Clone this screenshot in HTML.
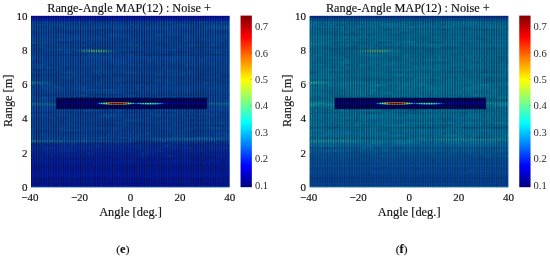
<!DOCTYPE html>
<html><head><meta charset="utf-8"><title>Range-Angle MAP</title>
<style>html,body{margin:0;padding:0;background:#fff;width:550px;height:259px;overflow:hidden}svg{display:block}</style>
</head><body>
<svg width="550" height="259" viewBox="0 0 550 259">
<rect width="550" height="259" fill="#fff"/>
<linearGradient id="r1" x1="0" y1="0" x2="0" y2="1">
<stop offset="0.0000" stop-color="#040cae"/><stop offset="0.0147" stop-color="#040cae"/>
<stop offset="0.0147" stop-color="#0525ab"/><stop offset="0.0294" stop-color="#0525ab"/>
<stop offset="0.0294" stop-color="#074aaf"/><stop offset="0.0441" stop-color="#074aaf"/>
<stop offset="0.0441" stop-color="#084ea5"/><stop offset="0.0588" stop-color="#084ea5"/>
<stop offset="0.0588" stop-color="#084ea6"/><stop offset="0.0735" stop-color="#084ea6"/>
<stop offset="0.0735" stop-color="#084fa8"/><stop offset="0.0882" stop-color="#084fa8"/>
<stop offset="0.0882" stop-color="#084ba0"/><stop offset="0.1029" stop-color="#084ba0"/>
<stop offset="0.1029" stop-color="#084ea6"/><stop offset="0.1176" stop-color="#084ea6"/>
<stop offset="0.1176" stop-color="#0850a9"/><stop offset="0.1324" stop-color="#0850a9"/>
<stop offset="0.1324" stop-color="#0851ac"/><stop offset="0.1471" stop-color="#0851ac"/>
<stop offset="0.1471" stop-color="#084b9e"/><stop offset="0.1618" stop-color="#084b9e"/>
<stop offset="0.1618" stop-color="#084da2"/><stop offset="0.1765" stop-color="#084da2"/>
<stop offset="0.1765" stop-color="#084b9e"/><stop offset="0.1912" stop-color="#084b9e"/>
<stop offset="0.1912" stop-color="#0852ac"/><stop offset="0.2059" stop-color="#0852ac"/>
<stop offset="0.2059" stop-color="#0851aa"/><stop offset="0.2206" stop-color="#0851aa"/>
<stop offset="0.2206" stop-color="#084b9d"/><stop offset="0.2353" stop-color="#084b9d"/>
<stop offset="0.2353" stop-color="#0854b0"/><stop offset="0.2500" stop-color="#0854b0"/>
<stop offset="0.2500" stop-color="#0853af"/><stop offset="0.2647" stop-color="#0853af"/>
<stop offset="0.2647" stop-color="#0851a9"/><stop offset="0.2794" stop-color="#0851a9"/>
<stop offset="0.2794" stop-color="#0850a8"/><stop offset="0.2941" stop-color="#0850a8"/>
<stop offset="0.2941" stop-color="#084c9f"/><stop offset="0.3088" stop-color="#084c9f"/>
<stop offset="0.3088" stop-color="#084b9c"/><stop offset="0.3235" stop-color="#084b9c"/>
<stop offset="0.3235" stop-color="#0850a7"/><stop offset="0.3382" stop-color="#0850a7"/>
<stop offset="0.3382" stop-color="#084b9d"/><stop offset="0.3529" stop-color="#084b9d"/>
<stop offset="0.3529" stop-color="#084da0"/><stop offset="0.3676" stop-color="#084da0"/>
<stop offset="0.3676" stop-color="#084da1"/><stop offset="0.3824" stop-color="#084da1"/>
<stop offset="0.3824" stop-color="#084b9d"/><stop offset="0.3971" stop-color="#084b9d"/>
<stop offset="0.3971" stop-color="#0850a5"/><stop offset="0.4118" stop-color="#0850a5"/>
<stop offset="0.4118" stop-color="#084fa5"/><stop offset="0.4265" stop-color="#084fa5"/>
<stop offset="0.4265" stop-color="#0853ad"/><stop offset="0.4412" stop-color="#0853ad"/>
<stop offset="0.4412" stop-color="#0850a6"/><stop offset="0.4559" stop-color="#0850a6"/>
<stop offset="0.4559" stop-color="#0851a9"/><stop offset="0.4706" stop-color="#0851a9"/>
<stop offset="0.4706" stop-color="#084fa6"/><stop offset="0.4853" stop-color="#084fa6"/>
<stop offset="0.4853" stop-color="#0851a9"/><stop offset="0.5000" stop-color="#0851a9"/>
<stop offset="0.5000" stop-color="#084fa5"/><stop offset="0.5147" stop-color="#084fa5"/>
<stop offset="0.5147" stop-color="#084da1"/><stop offset="0.5294" stop-color="#084da1"/>
<stop offset="0.5294" stop-color="#0853b0"/><stop offset="0.5441" stop-color="#0853b0"/>
<stop offset="0.5441" stop-color="#0853af"/><stop offset="0.5588" stop-color="#0853af"/>
<stop offset="0.5588" stop-color="#0851ac"/><stop offset="0.5735" stop-color="#0851ac"/>
<stop offset="0.5735" stop-color="#0850aa"/><stop offset="0.5882" stop-color="#0850aa"/>
<stop offset="0.5882" stop-color="#084ca2"/><stop offset="0.6029" stop-color="#084ca2"/>
<stop offset="0.6029" stop-color="#084ba0"/><stop offset="0.6176" stop-color="#084ba0"/>
<stop offset="0.6176" stop-color="#084ba1"/><stop offset="0.6324" stop-color="#084ba1"/>
<stop offset="0.6324" stop-color="#08499d"/><stop offset="0.6471" stop-color="#08499d"/>
<stop offset="0.6471" stop-color="#084faa"/><stop offset="0.6618" stop-color="#084faa"/>
<stop offset="0.6618" stop-color="#084ca3"/><stop offset="0.6765" stop-color="#084ca3"/>
<stop offset="0.6765" stop-color="#0850ac"/><stop offset="0.6912" stop-color="#0850ac"/>
<stop offset="0.6912" stop-color="#084ba3"/><stop offset="0.7059" stop-color="#084ba3"/>
<stop offset="0.7059" stop-color="#0850ae"/><stop offset="0.7206" stop-color="#0850ae"/>
<stop offset="0.7206" stop-color="#0846ac"/><stop offset="0.7353" stop-color="#0846ac"/>
<stop offset="0.7353" stop-color="#08389b"/><stop offset="0.7500" stop-color="#08389b"/>
<stop offset="0.7500" stop-color="#08319f"/><stop offset="0.7647" stop-color="#08319f"/>
<stop offset="0.7647" stop-color="#0832ad"/><stop offset="0.7794" stop-color="#0832ad"/>
<stop offset="0.7794" stop-color="#072ca4"/><stop offset="0.7941" stop-color="#072ca4"/>
<stop offset="0.7941" stop-color="#072baf"/><stop offset="0.8088" stop-color="#072baf"/>
<stop offset="0.8088" stop-color="#0725a3"/><stop offset="0.8235" stop-color="#0725a3"/>
<stop offset="0.8235" stop-color="#06209d"/><stop offset="0.8382" stop-color="#06209d"/>
<stop offset="0.8382" stop-color="#0620a8"/><stop offset="0.8529" stop-color="#0620a8"/>
<stop offset="0.8529" stop-color="#0620ab"/><stop offset="0.8676" stop-color="#0620ab"/>
<stop offset="0.8676" stop-color="#061da1"/><stop offset="0.8824" stop-color="#061da1"/>
<stop offset="0.8824" stop-color="#051b9e"/><stop offset="0.8971" stop-color="#051b9e"/>
<stop offset="0.8971" stop-color="#051ba3"/><stop offset="0.9118" stop-color="#051ba3"/>
<stop offset="0.9118" stop-color="#061cb0"/><stop offset="0.9265" stop-color="#061cb0"/>
<stop offset="0.9265" stop-color="#061aac"/><stop offset="0.9412" stop-color="#061aac"/>
<stop offset="0.9412" stop-color="#05179f"/><stop offset="0.9559" stop-color="#05179f"/>
<stop offset="0.9559" stop-color="#0516a2"/><stop offset="0.9706" stop-color="#0516a2"/>
<stop offset="0.9706" stop-color="#0515a0"/><stop offset="0.9853" stop-color="#0515a0"/>
<stop offset="0.9853" stop-color="#05139f"/><stop offset="1.0000" stop-color="#05139f"/>
</linearGradient>
<rect x="31.00" y="15.85" width="198.70" height="171.40" fill="url(#r1)"/>
<rect x="31.00" y="151.96" width="198.70" height="1.51" fill="#000020" fill-opacity="0.12"/>
<rect x="31.00" y="101.55" width="198.70" height="1.51" fill="#000020" fill-opacity="0.09"/>
<rect x="31.00" y="51.14" width="198.70" height="1.51" fill="#000020" fill-opacity="0.09"/>
<rect x="31.00" y="131.80" width="198.70" height="1.51" fill="#000020" fill-opacity="0.09"/>
<rect x="31.00" y="111.63" width="198.70" height="1.51" fill="#000020" fill-opacity="0.14"/>
<rect x="31.00" y="53.66" width="198.70" height="1.51" fill="#000020" fill-opacity="0.06"/>
<rect x="31.00" y="93.99" width="198.70" height="1.51" fill="#000020" fill-opacity="0.13"/>
<rect x="31.00" y="104.07" width="198.70" height="1.51" fill="#000020" fill-opacity="0.14"/>
<rect x="31.00" y="164.56" width="198.70" height="1.51" fill="#000020" fill-opacity="0.11"/>
<rect x="31.00" y="139.36" width="198.70" height="1.51" fill="#000020" fill-opacity="0.14"/>
<linearGradient id="b2" gradientUnits="userSpaceOnUse" x1="31.00" y1="0" x2="229.50" y2="0"><stop offset="0.0000" stop-color="#148cbe" stop-opacity="0.00"/><stop offset="0.1461" stop-color="#148cbe" stop-opacity="0.12"/><stop offset="0.8514" stop-color="#148cbe" stop-opacity="0.15"/><stop offset="1.0000" stop-color="#1496be" stop-opacity="0.30"/></linearGradient>
<rect x="31.00" y="25.90" width="198.50" height="3.20" fill="url(#b2)" fill-opacity="0.55"/>
<rect x="31.00" y="26.70" width="198.50" height="1.60" fill="url(#b2)" fill-opacity="0.8"/>
<linearGradient id="b3" gradientUnits="userSpaceOnUse" x1="31.00" y1="0" x2="60.00" y2="0"><stop offset="0.0000" stop-color="#1496aa" stop-opacity="0.30"/><stop offset="1.0000" stop-color="#1496aa" stop-opacity="0.00"/></linearGradient>
<rect x="31.00" y="41.40" width="29.00" height="3.20" fill="url(#b3)" fill-opacity="0.55"/>
<rect x="31.00" y="42.20" width="29.00" height="1.60" fill="url(#b3)" fill-opacity="0.8"/>
<linearGradient id="b4" gradientUnits="userSpaceOnUse" x1="76.00" y1="0" x2="116.00" y2="0"><stop offset="0.0000" stop-color="#28aa96" stop-opacity="0.00"/><stop offset="0.2000" stop-color="#3cbe82" stop-opacity="0.50"/><stop offset="0.4000" stop-color="#64c864" stop-opacity="0.80"/><stop offset="0.7000" stop-color="#64c864" stop-opacity="0.80"/><stop offset="0.8500" stop-color="#32b48c" stop-opacity="0.45"/><stop offset="1.0000" stop-color="#28aa96" stop-opacity="0.00"/></linearGradient>
<rect x="76.00" y="49.60" width="40.00" height="2.80" fill="url(#b4)" fill-opacity="0.55"/>
<rect x="76.00" y="50.30" width="40.00" height="1.40" fill="url(#b4)" fill-opacity="0.8"/>
<linearGradient id="b5" gradientUnits="userSpaceOnUse" x1="31.00" y1="0" x2="55.00" y2="0"><stop offset="0.0000" stop-color="#14a0aa" stop-opacity="0.70"/><stop offset="0.3750" stop-color="#14a0aa" stop-opacity="0.50"/><stop offset="1.0000" stop-color="#14a0aa" stop-opacity="0.00"/></linearGradient>
<rect x="31.00" y="81.00" width="24.00" height="3.60" fill="url(#b5)" fill-opacity="0.55"/>
<rect x="31.00" y="81.90" width="24.00" height="1.80" fill="url(#b5)" fill-opacity="0.8"/>
<linearGradient id="b6" gradientUnits="userSpaceOnUse" x1="31.00" y1="0" x2="229.50" y2="0"><stop offset="0.0000" stop-color="#1496b4" stop-opacity="0.55"/><stop offset="0.1259" stop-color="#1496b4" stop-opacity="0.40"/><stop offset="0.8866" stop-color="#1496b4" stop-opacity="0.40"/><stop offset="1.0000" stop-color="#1496b4" stop-opacity="0.50"/></linearGradient>
<rect x="31.00" y="102.00" width="198.50" height="4.40" fill="url(#b6)" fill-opacity="0.55"/>
<rect x="31.00" y="103.10" width="198.50" height="2.20" fill="url(#b6)" fill-opacity="0.8"/>
<linearGradient id="b7" gradientUnits="userSpaceOnUse" x1="31.00" y1="0" x2="138.00" y2="0"><stop offset="0.0000" stop-color="#1eaaaa" stop-opacity="0.55"/><stop offset="0.1776" stop-color="#1eaaaa" stop-opacity="0.40"/><stop offset="0.5514" stop-color="#1ea0aa" stop-opacity="0.22"/><stop offset="0.9252" stop-color="#1ea0aa" stop-opacity="0.10"/><stop offset="1.0000" stop-color="#1ea0aa" stop-opacity="0.00"/></linearGradient>
<rect x="31.00" y="139.20" width="107.00" height="3.60" fill="url(#b7)" fill-opacity="0.55"/>
<rect x="31.00" y="140.10" width="107.00" height="1.80" fill="url(#b7)" fill-opacity="0.8"/>
<linearGradient id="b8" gradientUnits="userSpaceOnUse" x1="128.00" y1="0" x2="229.70" y2="0"><stop offset="0.0000" stop-color="#1ea0b4" stop-opacity="0.00"/><stop offset="0.1180" stop-color="#1ea0b4" stop-opacity="0.20"/><stop offset="0.4621" stop-color="#1eaab4" stop-opacity="0.35"/><stop offset="0.8555" stop-color="#1eaab4" stop-opacity="0.35"/><stop offset="1.0000" stop-color="#1ea0b4" stop-opacity="0.20"/></linearGradient>
<rect x="128.00" y="137.60" width="101.70" height="3.60" fill="url(#b8)" fill-opacity="0.55"/>
<rect x="128.00" y="138.50" width="101.70" height="1.80" fill="url(#b8)" fill-opacity="0.8"/>
<rect x="31.00" y="15.85" width="1.03" height="171.40" fill="#03123a" fill-opacity="0.62"/>
<rect x="33.45" y="15.85" width="1.03" height="171.40" fill="#03123a" fill-opacity="0.66"/>
<rect x="35.91" y="15.85" width="1.03" height="171.40" fill="#03123a" fill-opacity="0.86"/>
<rect x="38.36" y="15.85" width="1.03" height="171.40" fill="#03123a" fill-opacity="0.76"/>
<rect x="40.81" y="15.85" width="1.03" height="171.40" fill="#03123a" fill-opacity="0.76"/>
<rect x="43.27" y="15.85" width="1.03" height="171.40" fill="#03123a" fill-opacity="0.63"/>
<rect x="45.72" y="15.85" width="1.03" height="171.40" fill="#03123a" fill-opacity="0.66"/>
<rect x="48.17" y="15.85" width="1.03" height="171.40" fill="#03123a" fill-opacity="0.73"/>
<rect x="50.62" y="15.85" width="1.03" height="171.40" fill="#03123a" fill-opacity="0.62"/>
<rect x="53.08" y="15.85" width="1.03" height="171.40" fill="#03123a" fill-opacity="0.77"/>
<rect x="55.53" y="15.85" width="1.03" height="171.40" fill="#03123a" fill-opacity="0.82"/>
<rect x="57.98" y="15.85" width="1.03" height="171.40" fill="#03123a" fill-opacity="0.71"/>
<rect x="60.44" y="15.85" width="1.03" height="171.40" fill="#03123a" fill-opacity="0.64"/>
<rect x="62.89" y="15.85" width="1.03" height="171.40" fill="#03123a" fill-opacity="0.67"/>
<rect x="65.34" y="15.85" width="1.03" height="171.40" fill="#03123a" fill-opacity="0.77"/>
<rect x="67.80" y="15.85" width="1.03" height="171.40" fill="#03123a" fill-opacity="0.62"/>
<rect x="70.25" y="15.85" width="1.03" height="171.40" fill="#03123a" fill-opacity="0.71"/>
<rect x="72.70" y="15.85" width="1.03" height="171.40" fill="#03123a" fill-opacity="0.77"/>
<rect x="75.16" y="15.85" width="1.03" height="171.40" fill="#03123a" fill-opacity="0.65"/>
<rect x="77.61" y="15.85" width="1.03" height="171.40" fill="#03123a" fill-opacity="0.76"/>
<rect x="80.06" y="15.85" width="1.03" height="171.40" fill="#03123a" fill-opacity="0.82"/>
<rect x="82.51" y="15.85" width="1.03" height="171.40" fill="#03123a" fill-opacity="0.65"/>
<rect x="84.97" y="15.85" width="1.03" height="171.40" fill="#03123a" fill-opacity="0.71"/>
<rect x="87.42" y="15.85" width="1.03" height="171.40" fill="#03123a" fill-opacity="0.77"/>
<rect x="89.87" y="15.85" width="1.03" height="171.40" fill="#03123a" fill-opacity="0.69"/>
<rect x="92.33" y="15.85" width="1.03" height="171.40" fill="#03123a" fill-opacity="0.67"/>
<rect x="94.78" y="15.85" width="1.03" height="171.40" fill="#03123a" fill-opacity="0.77"/>
<rect x="97.23" y="15.85" width="1.03" height="171.40" fill="#03123a" fill-opacity="0.79"/>
<rect x="99.69" y="15.85" width="1.03" height="171.40" fill="#03123a" fill-opacity="0.66"/>
<rect x="102.14" y="15.85" width="1.03" height="171.40" fill="#03123a" fill-opacity="0.77"/>
<rect x="104.59" y="15.85" width="1.03" height="171.40" fill="#03123a" fill-opacity="0.75"/>
<rect x="107.05" y="15.85" width="1.03" height="171.40" fill="#03123a" fill-opacity="0.78"/>
<rect x="109.50" y="15.85" width="1.03" height="171.40" fill="#03123a" fill-opacity="0.71"/>
<rect x="111.95" y="15.85" width="1.03" height="171.40" fill="#03123a" fill-opacity="0.74"/>
<rect x="114.40" y="15.85" width="1.03" height="171.40" fill="#03123a" fill-opacity="0.64"/>
<rect x="116.86" y="15.85" width="1.03" height="171.40" fill="#03123a" fill-opacity="0.63"/>
<rect x="119.31" y="15.85" width="1.03" height="171.40" fill="#03123a" fill-opacity="0.65"/>
<rect x="121.76" y="15.85" width="1.03" height="171.40" fill="#03123a" fill-opacity="0.74"/>
<rect x="124.22" y="15.85" width="1.03" height="171.40" fill="#03123a" fill-opacity="0.68"/>
<rect x="126.67" y="15.85" width="1.03" height="171.40" fill="#03123a" fill-opacity="0.80"/>
<rect x="129.12" y="15.85" width="1.03" height="171.40" fill="#03123a" fill-opacity="0.71"/>
<rect x="131.58" y="15.85" width="1.03" height="171.40" fill="#03123a" fill-opacity="0.72"/>
<rect x="134.03" y="15.85" width="1.03" height="171.40" fill="#03123a" fill-opacity="0.84"/>
<rect x="136.48" y="15.85" width="1.03" height="171.40" fill="#03123a" fill-opacity="0.74"/>
<rect x="138.94" y="15.85" width="1.03" height="171.40" fill="#03123a" fill-opacity="0.74"/>
<rect x="141.39" y="15.85" width="1.03" height="171.40" fill="#03123a" fill-opacity="0.84"/>
<rect x="143.84" y="15.85" width="1.03" height="171.40" fill="#03123a" fill-opacity="0.85"/>
<rect x="146.30" y="15.85" width="1.03" height="171.40" fill="#03123a" fill-opacity="0.65"/>
<rect x="148.75" y="15.85" width="1.03" height="171.40" fill="#03123a" fill-opacity="0.74"/>
<rect x="151.20" y="15.85" width="1.03" height="171.40" fill="#03123a" fill-opacity="0.78"/>
<rect x="153.65" y="15.85" width="1.03" height="171.40" fill="#03123a" fill-opacity="0.77"/>
<rect x="156.11" y="15.85" width="1.03" height="171.40" fill="#03123a" fill-opacity="0.64"/>
<rect x="158.56" y="15.85" width="1.03" height="171.40" fill="#03123a" fill-opacity="0.67"/>
<rect x="161.01" y="15.85" width="1.03" height="171.40" fill="#03123a" fill-opacity="0.84"/>
<rect x="163.47" y="15.85" width="1.03" height="171.40" fill="#03123a" fill-opacity="0.80"/>
<rect x="165.92" y="15.85" width="1.03" height="171.40" fill="#03123a" fill-opacity="0.64"/>
<rect x="168.37" y="15.85" width="1.03" height="171.40" fill="#03123a" fill-opacity="0.72"/>
<rect x="170.83" y="15.85" width="1.03" height="171.40" fill="#03123a" fill-opacity="0.68"/>
<rect x="173.28" y="15.85" width="1.03" height="171.40" fill="#03123a" fill-opacity="0.63"/>
<rect x="175.73" y="15.85" width="1.03" height="171.40" fill="#03123a" fill-opacity="0.69"/>
<rect x="178.19" y="15.85" width="1.03" height="171.40" fill="#03123a" fill-opacity="0.75"/>
<rect x="180.64" y="15.85" width="1.03" height="171.40" fill="#03123a" fill-opacity="0.85"/>
<rect x="183.09" y="15.85" width="1.03" height="171.40" fill="#03123a" fill-opacity="0.64"/>
<rect x="185.54" y="15.85" width="1.03" height="171.40" fill="#03123a" fill-opacity="0.65"/>
<rect x="188.00" y="15.85" width="1.03" height="171.40" fill="#03123a" fill-opacity="0.73"/>
<rect x="190.45" y="15.85" width="1.03" height="171.40" fill="#03123a" fill-opacity="0.70"/>
<rect x="192.90" y="15.85" width="1.03" height="171.40" fill="#03123a" fill-opacity="0.80"/>
<rect x="195.36" y="15.85" width="1.03" height="171.40" fill="#03123a" fill-opacity="0.75"/>
<rect x="197.81" y="15.85" width="1.03" height="171.40" fill="#03123a" fill-opacity="0.85"/>
<rect x="200.26" y="15.85" width="1.03" height="171.40" fill="#03123a" fill-opacity="0.76"/>
<rect x="202.72" y="15.85" width="1.03" height="171.40" fill="#03123a" fill-opacity="0.84"/>
<rect x="205.17" y="15.85" width="1.03" height="171.40" fill="#03123a" fill-opacity="0.73"/>
<rect x="207.62" y="15.85" width="1.03" height="171.40" fill="#03123a" fill-opacity="0.71"/>
<rect x="210.08" y="15.85" width="1.03" height="171.40" fill="#03123a" fill-opacity="0.69"/>
<rect x="212.53" y="15.85" width="1.03" height="171.40" fill="#03123a" fill-opacity="0.63"/>
<rect x="214.98" y="15.85" width="1.03" height="171.40" fill="#03123a" fill-opacity="0.76"/>
<rect x="217.43" y="15.85" width="1.03" height="171.40" fill="#03123a" fill-opacity="0.64"/>
<rect x="219.89" y="15.85" width="1.03" height="171.40" fill="#03123a" fill-opacity="0.64"/>
<rect x="222.34" y="15.85" width="1.03" height="171.40" fill="#03123a" fill-opacity="0.69"/>
<rect x="224.79" y="15.85" width="1.03" height="171.40" fill="#03123a" fill-opacity="0.65"/>
<rect x="227.25" y="15.85" width="1.03" height="171.40" fill="#03123a" fill-opacity="0.64"/>
<g transform="translate(31.000,15.850) scale(2.45309,2.52059)">
<path fill="#20a0d0" fill-opacity="0.10" d="M69 2h1v1h-1zM3 3h1v1h-1zM6 3h1v1h-1zM10 3h1v1h-1zM12 3h1v1h-1zM41 3h1v1h-1zM43 3h1v1h-1zM60 3h1v1h-1zM61 3h1v1h-1zM62 3h1v1h-1zM74 3h1v1h-1zM74 4h1v1h-1zM56 6h1v1h-1zM59 6h1v1h-1zM67 6h1v1h-1zM68 6h1v1h-1zM70 6h1v1h-1zM32 7h1v1h-1zM33 7h1v1h-1zM34 7h1v1h-1zM38 7h1v1h-1zM51 7h1v1h-1zM52 7h1v1h-1zM53 7h1v1h-1zM56 7h1v1h-1zM57 7h1v1h-1zM16 8h1v1h-1zM18 8h1v1h-1zM19 8h1v1h-1zM27 8h1v1h-1zM37 8h1v1h-1zM63 8h1v1h-1zM11 9h1v1h-1zM12 9h1v1h-1zM13 9h1v1h-1zM15 9h1v1h-1zM16 9h1v1h-1zM29 9h1v1h-1zM40 10h1v1h-1zM55 10h1v1h-1zM59 10h1v1h-1zM77 10h1v1h-1zM15 11h1v1h-1zM37 11h1v1h-1zM39 11h1v1h-1zM40 11h1v1h-1zM41 11h1v1h-1zM42 11h1v1h-1zM43 11h1v1h-1zM64 11h1v1h-1zM65 11h1v1h-1zM66 11h1v1h-1zM73 11h1v1h-1zM74 11h1v1h-1zM75 11h1v1h-1zM4 12h1v1h-1zM13 12h1v1h-1zM52 12h1v1h-1zM60 12h1v1h-1zM11 13h1v1h-1zM21 13h1v1h-1zM22 13h1v1h-1zM23 13h1v1h-1zM38 13h1v1h-1zM58 13h1v1h-1zM14 14h1v1h-1zM15 14h1v1h-1zM75 14h1v1h-1zM76 14h1v1h-1zM23 15h1v1h-1zM25 15h1v1h-1zM26 15h1v1h-1zM27 15h1v1h-1zM32 15h1v1h-1zM39 15h1v1h-1zM40 15h1v1h-1zM41 15h1v1h-1zM46 16h1v1h-1zM59 16h1v1h-1zM48 17h1v1h-1zM69 17h1v1h-1zM37 18h1v1h-1zM2 19h1v1h-1zM40 19h1v1h-1zM44 19h1v1h-1zM63 19h1v1h-1zM2 20h1v1h-1zM3 20h1v1h-1zM4 20h1v1h-1zM6 20h1v1h-1zM7 20h1v1h-1zM10 20h1v1h-1zM25 21h1v1h-1zM27 21h1v1h-1zM28 21h1v1h-1zM29 21h1v1h-1zM30 21h1v1h-1zM34 21h1v1h-1zM36 21h1v1h-1zM37 21h1v1h-1zM55 21h1v1h-1zM56 21h1v1h-1zM59 21h1v1h-1zM1 22h1v1h-1zM14 22h1v1h-1zM15 22h1v1h-1zM16 22h1v1h-1zM17 22h1v1h-1zM26 22h1v1h-1zM27 22h1v1h-1zM38 22h1v1h-1zM39 22h1v1h-1zM40 22h1v1h-1zM41 22h1v1h-1zM42 22h1v1h-1zM53 22h1v1h-1zM61 22h1v1h-1zM62 22h1v1h-1zM17 23h1v1h-1zM51 23h1v1h-1zM53 23h1v1h-1zM56 23h1v1h-1zM58 23h1v1h-1zM61 23h1v1h-1zM62 23h1v1h-1zM12 24h1v1h-1zM14 24h1v1h-1zM15 24h1v1h-1zM73 24h1v1h-1zM18 25h1v1h-1zM35 25h1v1h-1zM36 25h1v1h-1zM37 25h1v1h-1zM50 25h1v1h-1zM51 25h1v1h-1zM53 25h1v1h-1zM55 25h1v1h-1zM18 26h1v1h-1zM26 26h1v1h-1zM55 26h1v1h-1zM56 26h1v1h-1zM58 26h1v1h-1zM70 26h1v1h-1zM71 26h1v1h-1zM72 26h1v1h-1zM74 26h1v1h-1zM4 27h1v1h-1zM7 27h1v1h-1zM36 27h1v1h-1zM5 28h1v1h-1zM9 28h1v1h-1zM10 28h1v1h-1zM11 28h1v1h-1zM18 28h1v1h-1zM21 28h1v1h-1zM43 28h1v1h-1zM47 28h1v1h-1zM54 28h1v1h-1zM61 28h1v1h-1zM62 28h1v1h-1zM70 28h1v1h-1zM76 28h1v1h-1zM20 29h1v1h-1zM21 29h1v1h-1zM23 29h1v1h-1zM25 29h1v1h-1zM26 29h1v1h-1zM29 29h1v1h-1zM30 29h1v1h-1zM32 29h1v1h-1zM33 29h1v1h-1zM31 30h1v1h-1zM33 30h1v1h-1zM35 30h1v1h-1zM0 31h1v1h-1zM19 31h1v1h-1zM20 31h1v1h-1zM21 31h1v1h-1zM22 31h1v1h-1zM39 31h1v1h-1zM40 31h1v1h-1zM41 31h1v1h-1zM4 32h1v1h-1zM5 32h1v1h-1zM6 32h1v1h-1zM9 32h1v1h-1zM30 32h1v1h-1zM52 32h1v1h-1zM53 32h1v1h-1zM54 32h1v1h-1zM57 32h1v1h-1zM58 32h1v1h-1zM33 33h1v1h-1zM34 33h1v1h-1zM16 34h1v1h-1zM71 34h1v1h-1zM73 34h1v1h-1zM7 35h1v1h-1zM9 35h1v1h-1zM11 35h1v1h-1zM14 35h1v1h-1zM17 35h1v1h-1zM41 35h1v1h-1zM42 35h1v1h-1zM43 35h1v1h-1zM44 35h1v1h-1zM46 35h1v1h-1zM11 36h1v1h-1zM14 36h1v1h-1zM18 36h1v1h-1zM19 36h1v1h-1zM22 36h1v1h-1zM23 36h1v1h-1zM24 36h1v1h-1zM26 36h1v1h-1zM27 36h1v1h-1zM28 36h1v1h-1zM29 36h1v1h-1zM30 36h1v1h-1zM22 37h1v1h-1zM23 37h1v1h-1zM24 37h1v1h-1zM48 38h1v1h-1zM49 38h1v1h-1zM61 38h1v1h-1zM69 38h1v1h-1zM70 38h1v1h-1zM71 38h1v1h-1zM72 38h1v1h-1zM0 39h1v1h-1zM29 39h1v1h-1zM30 39h1v1h-1zM31 39h1v1h-1zM32 39h1v1h-1zM33 39h1v1h-1zM34 39h1v1h-1zM51 39h1v1h-1zM52 39h1v1h-1zM9 40h1v1h-1zM27 40h1v1h-1zM31 40h1v1h-1zM47 40h1v1h-1zM66 40h1v1h-1zM17 41h1v1h-1zM38 41h1v1h-1zM39 41h1v1h-1zM40 41h1v1h-1zM41 41h1v1h-1zM42 41h1v1h-1zM43 41h1v1h-1zM45 41h1v1h-1zM53 41h1v1h-1zM55 41h1v1h-1zM72 41h1v1h-1zM37 42h1v1h-1zM48 42h1v1h-1zM69 42h1v1h-1zM71 42h1v1h-1zM72 42h1v1h-1zM76 42h1v1h-1zM77 42h1v1h-1zM78 42h1v1h-1zM15 43h1v1h-1zM16 43h1v1h-1zM38 43h1v1h-1zM58 43h1v1h-1zM59 43h1v1h-1zM60 43h1v1h-1zM34 44h1v1h-1zM71 44h1v1h-1zM73 44h1v1h-1zM74 44h1v1h-1zM75 44h1v1h-1zM76 44h1v1h-1zM12 45h1v1h-1zM14 45h1v1h-1zM15 45h1v1h-1zM16 45h1v1h-1zM17 45h1v1h-1zM18 45h1v1h-1zM58 45h1v1h-1zM62 45h1v1h-1zM39 46h1v1h-1zM44 46h1v1h-1zM47 46h1v1h-1zM76 46h1v1h-1zM79 46h1v1h-1zM0 47h1v1h-1zM22 47h1v1h-1zM31 47h1v1h-1zM43 47h1v1h-1zM61 47h1v1h-1zM79 47h1v1h-1zM28 48h1v1h-1zM67 48h1v1h-1zM68 48h1v1h-1zM69 48h1v1h-1zM70 48h1v1h-1zM71 48h1v1h-1zM73 48h1v1h-1zM21 49h1v1h-1zM22 49h1v1h-1zM40 49h1v1h-1zM53 49h1v1h-1zM54 49h1v1h-1zM17 50h1v1h-1zM59 50h1v1h-1zM13 51h1v1h-1zM16 51h1v1h-1zM26 51h1v1h-1zM27 51h1v1h-1zM54 51h1v1h-1zM55 51h1v1h-1zM6 52h1v1h-1zM12 53h1v1h-1zM15 53h1v1h-1zM52 53h1v1h-1zM23 54h1v1h-1zM45 54h1v1h-1zM47 54h1v1h-1zM49 54h1v1h-1zM45 55h1v1h-1zM56 55h1v1h-1z"/>
<path fill="#20a0d0" fill-opacity="0.04" d="M2 0h1v1h-1zM31 0h1v1h-1zM60 0h1v1h-1zM77 1h1v1h-1zM1 2h1v1h-1zM5 2h1v1h-1zM6 2h1v1h-1zM7 2h1v1h-1zM20 2h1v1h-1zM36 2h1v1h-1zM56 2h1v1h-1zM57 2h1v1h-1zM68 2h1v1h-1zM70 2h1v1h-1zM71 2h1v1h-1zM7 3h1v1h-1zM8 3h1v1h-1zM9 3h1v1h-1zM11 3h1v1h-1zM27 3h1v1h-1zM29 3h1v1h-1zM30 3h1v1h-1zM31 3h1v1h-1zM33 3h1v1h-1zM34 3h1v1h-1zM37 3h1v1h-1zM39 3h1v1h-1zM40 3h1v1h-1zM42 3h1v1h-1zM51 3h1v1h-1zM52 3h1v1h-1zM58 3h1v1h-1zM59 3h1v1h-1zM63 3h1v1h-1zM64 3h1v1h-1zM66 3h1v1h-1zM69 3h1v1h-1zM70 3h1v1h-1zM71 3h1v1h-1zM73 3h1v1h-1zM75 3h1v1h-1zM76 3h1v1h-1zM0 4h1v1h-1zM7 4h1v1h-1zM16 4h1v1h-1zM18 4h1v1h-1zM19 4h1v1h-1zM20 4h1v1h-1zM22 4h1v1h-1zM26 4h1v1h-1zM27 4h1v1h-1zM28 4h1v1h-1zM29 4h1v1h-1zM34 4h1v1h-1zM35 4h1v1h-1zM36 4h1v1h-1zM37 4h1v1h-1zM47 4h1v1h-1zM51 4h1v1h-1zM60 4h1v1h-1zM62 4h1v1h-1zM75 4h1v1h-1zM79 4h1v1h-1zM0 5h1v1h-1zM1 5h1v1h-1zM2 5h1v1h-1zM3 5h1v1h-1zM4 5h1v1h-1zM5 5h1v1h-1zM17 5h1v1h-1zM45 5h1v1h-1zM49 5h1v1h-1zM52 5h1v1h-1zM53 5h1v1h-1zM54 5h1v1h-1zM55 5h1v1h-1zM57 5h1v1h-1zM28 6h1v1h-1zM45 6h1v1h-1zM49 6h1v1h-1zM50 6h1v1h-1zM54 6h1v1h-1zM55 6h1v1h-1zM57 6h1v1h-1zM58 6h1v1h-1zM60 6h1v1h-1zM63 6h1v1h-1zM72 6h1v1h-1zM5 7h1v1h-1zM9 7h1v1h-1zM10 7h1v1h-1zM11 7h1v1h-1zM12 7h1v1h-1zM14 7h1v1h-1zM18 7h1v1h-1zM19 7h1v1h-1zM31 7h1v1h-1zM35 7h1v1h-1zM36 7h1v1h-1zM37 7h1v1h-1zM54 7h1v1h-1zM55 7h1v1h-1zM59 7h1v1h-1zM60 7h1v1h-1zM61 7h1v1h-1zM63 7h1v1h-1zM64 7h1v1h-1zM65 7h1v1h-1zM74 7h1v1h-1zM75 7h1v1h-1zM79 7h1v1h-1zM5 8h1v1h-1zM17 8h1v1h-1zM23 8h1v1h-1zM28 8h1v1h-1zM31 8h1v1h-1zM39 8h1v1h-1zM40 8h1v1h-1zM41 8h1v1h-1zM44 8h1v1h-1zM49 8h1v1h-1zM67 8h1v1h-1zM69 8h1v1h-1zM77 8h1v1h-1zM78 8h1v1h-1zM80 8h1v1h-1zM0 9h1v1h-1zM3 9h1v1h-1zM8 9h1v1h-1zM9 9h1v1h-1zM10 9h1v1h-1zM18 9h1v1h-1zM19 9h1v1h-1zM21 9h1v1h-1zM22 9h1v1h-1zM25 9h1v1h-1zM30 9h1v1h-1zM62 9h1v1h-1zM70 9h1v1h-1zM73 9h1v1h-1zM75 9h1v1h-1zM5 10h1v1h-1zM37 10h1v1h-1zM39 10h1v1h-1zM41 10h1v1h-1zM42 10h1v1h-1zM44 10h1v1h-1zM56 10h1v1h-1zM57 10h1v1h-1zM58 10h1v1h-1zM60 10h1v1h-1zM72 10h1v1h-1zM73 10h1v1h-1zM74 10h1v1h-1zM75 10h1v1h-1zM9 11h1v1h-1zM10 11h1v1h-1zM13 11h1v1h-1zM14 11h1v1h-1zM18 11h1v1h-1zM21 11h1v1h-1zM22 11h1v1h-1zM27 11h1v1h-1zM29 11h1v1h-1zM38 11h1v1h-1zM47 11h1v1h-1zM49 11h1v1h-1zM59 11h1v1h-1zM61 11h1v1h-1zM63 11h1v1h-1zM67 11h1v1h-1zM68 11h1v1h-1zM70 11h1v1h-1zM72 11h1v1h-1zM0 12h1v1h-1zM1 12h1v1h-1zM2 12h1v1h-1zM3 12h1v1h-1zM5 12h1v1h-1zM9 12h1v1h-1zM11 12h1v1h-1zM12 12h1v1h-1zM17 12h1v1h-1zM24 12h1v1h-1zM40 12h1v1h-1zM41 12h1v1h-1zM42 12h1v1h-1zM43 12h1v1h-1zM44 12h1v1h-1zM45 12h1v1h-1zM46 12h1v1h-1zM48 12h1v1h-1zM51 12h1v1h-1zM53 12h1v1h-1zM54 12h1v1h-1zM56 12h1v1h-1zM58 12h1v1h-1zM62 12h1v1h-1zM65 12h1v1h-1zM9 13h1v1h-1zM10 13h1v1h-1zM12 13h1v1h-1zM13 13h1v1h-1zM14 13h1v1h-1zM15 13h1v1h-1zM16 13h1v1h-1zM17 13h1v1h-1zM18 13h1v1h-1zM19 13h1v1h-1zM20 13h1v1h-1zM24 13h1v1h-1zM37 13h1v1h-1zM39 13h1v1h-1zM41 13h1v1h-1zM47 13h1v1h-1zM55 13h1v1h-1zM56 13h1v1h-1zM73 13h1v1h-1zM77 13h1v1h-1zM1 14h1v1h-1zM2 14h1v1h-1zM11 14h1v1h-1zM13 14h1v1h-1zM27 14h1v1h-1zM31 14h1v1h-1zM32 14h1v1h-1zM33 14h1v1h-1zM34 14h1v1h-1zM54 14h1v1h-1zM66 14h1v1h-1zM68 14h1v1h-1zM73 14h1v1h-1zM74 14h1v1h-1zM0 15h1v1h-1zM1 15h1v1h-1zM3 15h1v1h-1zM24 15h1v1h-1zM30 15h1v1h-1zM31 15h1v1h-1zM36 15h1v1h-1zM37 15h1v1h-1zM43 15h1v1h-1zM58 15h1v1h-1zM63 15h1v1h-1zM80 15h1v1h-1zM21 16h1v1h-1zM22 16h1v1h-1zM24 16h1v1h-1zM28 16h1v1h-1zM29 16h1v1h-1zM32 16h1v1h-1zM41 16h1v1h-1zM43 16h1v1h-1zM45 16h1v1h-1zM47 16h1v1h-1zM48 16h1v1h-1zM50 16h1v1h-1zM55 16h1v1h-1zM57 16h1v1h-1zM60 16h1v1h-1zM0 17h1v1h-1zM27 17h1v1h-1zM29 17h1v1h-1zM30 17h1v1h-1zM32 17h1v1h-1zM34 17h1v1h-1zM35 17h1v1h-1zM36 17h1v1h-1zM39 17h1v1h-1zM40 17h1v1h-1zM56 17h1v1h-1zM57 17h1v1h-1zM58 17h1v1h-1zM59 17h1v1h-1zM70 17h1v1h-1zM79 17h1v1h-1zM13 18h1v1h-1zM27 18h1v1h-1zM33 18h1v1h-1zM35 18h1v1h-1zM38 18h1v1h-1zM39 18h1v1h-1zM52 18h1v1h-1zM63 18h1v1h-1zM69 18h1v1h-1zM72 18h1v1h-1zM1 19h1v1h-1zM3 19h1v1h-1zM4 19h1v1h-1zM13 19h1v1h-1zM15 19h1v1h-1zM17 19h1v1h-1zM21 19h1v1h-1zM26 19h1v1h-1zM27 19h1v1h-1zM29 19h1v1h-1zM35 19h1v1h-1zM41 19h1v1h-1zM42 19h1v1h-1zM65 19h1v1h-1zM66 19h1v1h-1zM70 19h1v1h-1zM77 19h1v1h-1zM1 20h1v1h-1zM5 20h1v1h-1zM8 20h1v1h-1zM9 20h1v1h-1zM11 20h1v1h-1zM19 20h1v1h-1zM23 20h1v1h-1zM27 20h1v1h-1zM29 20h1v1h-1zM41 20h1v1h-1zM43 20h1v1h-1zM46 20h1v1h-1zM53 20h1v1h-1zM54 20h1v1h-1zM32 21h1v1h-1zM33 21h1v1h-1zM38 21h1v1h-1zM39 21h1v1h-1zM40 21h1v1h-1zM54 21h1v1h-1zM57 21h1v1h-1zM58 21h1v1h-1zM65 21h1v1h-1zM74 21h1v1h-1zM80 21h1v1h-1zM3 22h1v1h-1zM4 22h1v1h-1zM12 22h1v1h-1zM18 22h1v1h-1zM20 22h1v1h-1zM23 22h1v1h-1zM28 22h1v1h-1zM29 22h1v1h-1zM30 22h1v1h-1zM31 22h1v1h-1zM43 22h1v1h-1zM44 22h1v1h-1zM45 22h1v1h-1zM46 22h1v1h-1zM48 22h1v1h-1zM49 22h1v1h-1zM50 22h1v1h-1zM51 22h1v1h-1zM52 22h1v1h-1zM58 22h1v1h-1zM63 22h1v1h-1zM64 22h1v1h-1zM65 22h1v1h-1zM66 22h1v1h-1zM13 23h1v1h-1zM15 23h1v1h-1zM18 23h1v1h-1zM19 23h1v1h-1zM20 23h1v1h-1zM28 23h1v1h-1zM42 23h1v1h-1zM50 23h1v1h-1zM52 23h1v1h-1zM55 23h1v1h-1zM57 23h1v1h-1zM59 23h1v1h-1zM60 23h1v1h-1zM64 23h1v1h-1zM65 23h1v1h-1zM74 23h1v1h-1zM76 23h1v1h-1zM1 24h1v1h-1zM4 24h1v1h-1zM13 24h1v1h-1zM16 24h1v1h-1zM17 24h1v1h-1zM18 24h1v1h-1zM34 24h1v1h-1zM36 24h1v1h-1zM19 25h1v1h-1zM21 25h1v1h-1zM28 25h1v1h-1zM29 25h1v1h-1zM30 25h1v1h-1zM31 25h1v1h-1zM33 25h1v1h-1zM34 25h1v1h-1zM46 25h1v1h-1zM47 25h1v1h-1zM52 25h1v1h-1zM54 25h1v1h-1zM56 25h1v1h-1zM60 25h1v1h-1zM61 25h1v1h-1zM4 26h1v1h-1zM6 26h1v1h-1zM11 26h1v1h-1zM13 26h1v1h-1zM14 26h1v1h-1zM17 26h1v1h-1zM27 26h1v1h-1zM28 26h1v1h-1zM29 26h1v1h-1zM30 26h1v1h-1zM32 26h1v1h-1zM54 26h1v1h-1zM57 26h1v1h-1zM60 26h1v1h-1zM73 26h1v1h-1zM75 26h1v1h-1zM0 27h1v1h-1zM6 27h1v1h-1zM9 27h1v1h-1zM27 27h1v1h-1zM28 27h1v1h-1zM30 27h1v1h-1zM32 27h1v1h-1zM37 27h1v1h-1zM38 27h1v1h-1zM41 27h1v1h-1zM42 27h1v1h-1zM43 27h1v1h-1zM44 27h1v1h-1zM45 27h1v1h-1zM46 27h1v1h-1zM56 27h1v1h-1zM66 27h1v1h-1zM69 27h1v1h-1zM70 27h1v1h-1zM79 27h1v1h-1zM3 28h1v1h-1zM4 28h1v1h-1zM6 28h1v1h-1zM7 28h1v1h-1zM8 28h1v1h-1zM12 28h1v1h-1zM17 28h1v1h-1zM19 28h1v1h-1zM20 28h1v1h-1zM22 28h1v1h-1zM35 28h1v1h-1zM44 28h1v1h-1zM49 28h1v1h-1zM50 28h1v1h-1zM59 28h1v1h-1zM63 28h1v1h-1zM67 28h1v1h-1zM68 28h1v1h-1zM72 28h1v1h-1zM73 28h1v1h-1zM74 28h1v1h-1zM75 28h1v1h-1zM77 28h1v1h-1zM12 29h1v1h-1zM19 29h1v1h-1zM22 29h1v1h-1zM24 29h1v1h-1zM27 29h1v1h-1zM31 29h1v1h-1zM35 29h1v1h-1zM36 29h1v1h-1zM40 29h1v1h-1zM41 29h1v1h-1zM45 29h1v1h-1zM54 29h1v1h-1zM55 29h1v1h-1zM59 29h1v1h-1zM62 29h1v1h-1zM30 30h1v1h-1zM32 30h1v1h-1zM34 30h1v1h-1zM49 30h1v1h-1zM50 30h1v1h-1zM53 30h1v1h-1zM73 30h1v1h-1zM18 31h1v1h-1zM34 31h1v1h-1zM35 31h1v1h-1zM38 31h1v1h-1zM42 31h1v1h-1zM46 31h1v1h-1zM56 31h1v1h-1zM59 31h1v1h-1zM0 32h1v1h-1zM1 32h1v1h-1zM3 32h1v1h-1zM7 32h1v1h-1zM8 32h1v1h-1zM29 32h1v1h-1zM31 32h1v1h-1zM33 32h1v1h-1zM34 32h1v1h-1zM37 32h1v1h-1zM55 32h1v1h-1zM61 32h1v1h-1zM63 32h1v1h-1zM64 32h1v1h-1zM2 33h1v1h-1zM5 33h1v1h-1zM6 33h1v1h-1zM17 33h1v1h-1zM18 33h1v1h-1zM22 33h1v1h-1zM25 33h1v1h-1zM31 33h1v1h-1zM35 33h1v1h-1zM36 33h1v1h-1zM37 33h1v1h-1zM38 33h1v1h-1zM39 33h1v1h-1zM60 33h1v1h-1zM68 33h1v1h-1zM79 33h1v1h-1zM1 34h1v1h-1zM6 34h1v1h-1zM14 34h1v1h-1zM15 34h1v1h-1zM17 34h1v1h-1zM18 34h1v1h-1zM19 34h1v1h-1zM21 34h1v1h-1zM52 34h1v1h-1zM69 34h1v1h-1zM70 34h1v1h-1zM72 34h1v1h-1zM78 34h1v1h-1zM79 34h1v1h-1zM80 34h1v1h-1zM3 35h1v1h-1zM6 35h1v1h-1zM8 35h1v1h-1zM10 35h1v1h-1zM13 35h1v1h-1zM15 35h1v1h-1zM16 35h1v1h-1zM18 35h1v1h-1zM32 35h1v1h-1zM33 35h1v1h-1zM35 35h1v1h-1zM37 35h1v1h-1zM40 35h1v1h-1zM45 35h1v1h-1zM47 35h1v1h-1zM48 35h1v1h-1zM50 35h1v1h-1zM70 35h1v1h-1zM80 35h1v1h-1zM4 36h1v1h-1zM6 36h1v1h-1zM9 36h1v1h-1zM10 36h1v1h-1zM15 36h1v1h-1zM17 36h1v1h-1zM20 36h1v1h-1zM25 36h1v1h-1zM31 36h1v1h-1zM55 36h1v1h-1zM60 36h1v1h-1zM68 36h1v1h-1zM25 37h1v1h-1zM26 37h1v1h-1zM27 37h1v1h-1zM35 37h1v1h-1zM36 37h1v1h-1zM47 37h1v1h-1zM50 37h1v1h-1zM51 37h1v1h-1zM52 37h1v1h-1zM53 37h1v1h-1zM55 37h1v1h-1zM58 37h1v1h-1zM77 37h1v1h-1zM12 38h1v1h-1zM15 38h1v1h-1zM29 38h1v1h-1zM46 38h1v1h-1zM52 38h1v1h-1zM60 38h1v1h-1zM63 38h1v1h-1zM64 38h1v1h-1zM65 38h1v1h-1zM67 38h1v1h-1zM68 38h1v1h-1zM73 38h1v1h-1zM75 38h1v1h-1zM79 38h1v1h-1zM1 39h1v1h-1zM2 39h1v1h-1zM28 39h1v1h-1zM35 39h1v1h-1zM36 39h1v1h-1zM37 39h1v1h-1zM50 39h1v1h-1zM53 39h1v1h-1zM56 39h1v1h-1zM58 39h1v1h-1zM17 40h1v1h-1zM18 40h1v1h-1zM23 40h1v1h-1zM28 40h1v1h-1zM29 40h1v1h-1zM30 40h1v1h-1zM45 40h1v1h-1zM46 40h1v1h-1zM48 40h1v1h-1zM49 40h1v1h-1zM59 40h1v1h-1zM62 40h1v1h-1zM63 40h1v1h-1zM68 40h1v1h-1zM69 40h1v1h-1zM70 40h1v1h-1zM2 41h1v1h-1zM9 41h1v1h-1zM16 41h1v1h-1zM18 41h1v1h-1zM20 41h1v1h-1zM21 41h1v1h-1zM24 41h1v1h-1zM25 41h1v1h-1zM44 41h1v1h-1zM48 41h1v1h-1zM50 41h1v1h-1zM52 41h1v1h-1zM54 41h1v1h-1zM56 41h1v1h-1zM57 41h1v1h-1zM58 41h1v1h-1zM60 41h1v1h-1zM74 41h1v1h-1zM15 42h1v1h-1zM16 42h1v1h-1zM34 42h1v1h-1zM35 42h1v1h-1zM36 42h1v1h-1zM38 42h1v1h-1zM39 42h1v1h-1zM52 42h1v1h-1zM53 42h1v1h-1zM56 42h1v1h-1zM63 42h1v1h-1zM65 42h1v1h-1zM66 42h1v1h-1zM68 42h1v1h-1zM70 42h1v1h-1zM73 42h1v1h-1zM74 42h1v1h-1zM75 42h1v1h-1zM4 43h1v1h-1zM7 43h1v1h-1zM9 43h1v1h-1zM12 43h1v1h-1zM13 43h1v1h-1zM17 43h1v1h-1zM18 43h1v1h-1zM19 43h1v1h-1zM20 43h1v1h-1zM25 43h1v1h-1zM41 43h1v1h-1zM43 43h1v1h-1zM55 43h1v1h-1zM56 43h1v1h-1zM57 43h1v1h-1zM61 43h1v1h-1zM70 43h1v1h-1zM72 43h1v1h-1zM1 44h1v1h-1zM22 44h1v1h-1zM26 44h1v1h-1zM27 44h1v1h-1zM28 44h1v1h-1zM29 44h1v1h-1zM30 44h1v1h-1zM33 44h1v1h-1zM42 44h1v1h-1zM44 44h1v1h-1zM55 44h1v1h-1zM56 44h1v1h-1zM69 44h1v1h-1zM72 44h1v1h-1zM77 44h1v1h-1zM0 45h1v1h-1zM13 45h1v1h-1zM19 45h1v1h-1zM20 45h1v1h-1zM21 45h1v1h-1zM22 45h1v1h-1zM34 45h1v1h-1zM41 45h1v1h-1zM42 45h1v1h-1zM44 45h1v1h-1zM46 45h1v1h-1zM56 45h1v1h-1zM59 45h1v1h-1zM60 45h1v1h-1zM61 45h1v1h-1zM36 46h1v1h-1zM40 46h1v1h-1zM41 46h1v1h-1zM46 46h1v1h-1zM48 46h1v1h-1zM51 46h1v1h-1zM55 46h1v1h-1zM56 46h1v1h-1zM58 46h1v1h-1zM61 46h1v1h-1zM71 46h1v1h-1zM72 46h1v1h-1zM75 46h1v1h-1zM77 46h1v1h-1zM78 46h1v1h-1zM80 46h1v1h-1zM4 47h1v1h-1zM5 47h1v1h-1zM6 47h1v1h-1zM8 47h1v1h-1zM9 47h1v1h-1zM17 47h1v1h-1zM18 47h1v1h-1zM19 47h1v1h-1zM20 47h1v1h-1zM21 47h1v1h-1zM23 47h1v1h-1zM26 47h1v1h-1zM33 47h1v1h-1zM40 47h1v1h-1zM41 47h1v1h-1zM44 47h1v1h-1zM45 47h1v1h-1zM46 47h1v1h-1zM47 47h1v1h-1zM58 47h1v1h-1zM59 47h1v1h-1zM60 47h1v1h-1zM71 47h1v1h-1zM75 47h1v1h-1zM76 47h1v1h-1zM78 47h1v1h-1zM80 47h1v1h-1zM13 48h1v1h-1zM25 48h1v1h-1zM29 48h1v1h-1zM38 48h1v1h-1zM39 48h1v1h-1zM59 48h1v1h-1zM72 48h1v1h-1zM75 48h1v1h-1zM76 48h1v1h-1zM12 49h1v1h-1zM19 49h1v1h-1zM20 49h1v1h-1zM23 49h1v1h-1zM28 49h1v1h-1zM32 49h1v1h-1zM50 49h1v1h-1zM52 49h1v1h-1zM55 49h1v1h-1zM56 49h1v1h-1zM66 49h1v1h-1zM68 49h1v1h-1zM6 50h1v1h-1zM9 50h1v1h-1zM10 50h1v1h-1zM12 50h1v1h-1zM13 50h1v1h-1zM14 50h1v1h-1zM16 50h1v1h-1zM21 50h1v1h-1zM34 50h1v1h-1zM39 50h1v1h-1zM57 50h1v1h-1zM58 50h1v1h-1zM60 50h1v1h-1zM61 50h1v1h-1zM64 50h1v1h-1zM67 50h1v1h-1zM80 50h1v1h-1zM12 51h1v1h-1zM14 51h1v1h-1zM17 51h1v1h-1zM18 51h1v1h-1zM20 51h1v1h-1zM28 51h1v1h-1zM40 51h1v1h-1zM41 51h1v1h-1zM42 51h1v1h-1zM43 51h1v1h-1zM44 51h1v1h-1zM45 51h1v1h-1zM47 51h1v1h-1zM56 51h1v1h-1zM57 51h1v1h-1zM58 51h1v1h-1zM72 51h1v1h-1zM73 51h1v1h-1zM74 51h1v1h-1zM3 52h1v1h-1zM7 52h1v1h-1zM8 52h1v1h-1zM13 52h1v1h-1zM15 52h1v1h-1zM23 52h1v1h-1zM46 52h1v1h-1zM58 52h1v1h-1zM62 52h1v1h-1zM63 52h1v1h-1zM73 52h1v1h-1zM77 52h1v1h-1zM78 52h1v1h-1zM79 52h1v1h-1zM5 53h1v1h-1zM6 53h1v1h-1zM8 53h1v1h-1zM9 53h1v1h-1zM10 53h1v1h-1zM13 53h1v1h-1zM14 53h1v1h-1zM16 53h1v1h-1zM17 53h1v1h-1zM19 53h1v1h-1zM37 53h1v1h-1zM39 53h1v1h-1zM42 53h1v1h-1zM44 53h1v1h-1zM46 53h1v1h-1zM47 53h1v1h-1zM48 53h1v1h-1zM49 53h1v1h-1zM50 53h1v1h-1zM51 53h1v1h-1zM53 53h1v1h-1zM64 53h1v1h-1zM65 53h1v1h-1zM66 53h1v1h-1zM68 53h1v1h-1zM69 53h1v1h-1zM70 53h1v1h-1zM78 53h1v1h-1zM80 53h1v1h-1zM6 54h1v1h-1zM7 54h1v1h-1zM8 54h1v1h-1zM9 54h1v1h-1zM10 54h1v1h-1zM12 54h1v1h-1zM14 54h1v1h-1zM16 54h1v1h-1zM19 54h1v1h-1zM20 54h1v1h-1zM24 54h1v1h-1zM25 54h1v1h-1zM42 54h1v1h-1zM44 54h1v1h-1zM46 54h1v1h-1zM51 54h1v1h-1zM62 54h1v1h-1zM8 55h1v1h-1zM10 55h1v1h-1zM13 55h1v1h-1zM14 55h1v1h-1zM15 55h1v1h-1zM17 55h1v1h-1zM18 55h1v1h-1zM33 55h1v1h-1zM42 55h1v1h-1zM43 55h1v1h-1zM44 55h1v1h-1zM46 55h1v1h-1zM54 55h1v1h-1zM55 55h1v1h-1zM57 55h1v1h-1zM70 55h1v1h-1zM73 55h1v1h-1zM75 55h1v1h-1zM76 55h1v1h-1zM77 55h1v1h-1zM0 56h1v1h-1zM1 56h1v1h-1zM2 56h1v1h-1zM3 56h1v1h-1zM4 56h1v1h-1zM51 56h1v1h-1zM61 56h1v1h-1zM62 56h1v1h-1zM64 56h1v1h-1zM69 56h1v1h-1zM79 56h1v1h-1zM16 57h1v1h-1zM17 57h1v1h-1zM40 57h1v1h-1zM41 57h1v1h-1zM42 57h1v1h-1zM58 57h1v1h-1zM59 57h1v1h-1zM73 57h1v1h-1zM74 57h1v1h-1zM79 57h1v1h-1zM80 57h1v1h-1zM3 58h1v1h-1zM59 58h1v1h-1zM61 58h1v1h-1zM70 58h1v1h-1zM72 58h1v1h-1zM15 59h1v1h-1zM78 59h1v1h-1zM80 59h1v1h-1zM51 60h1v1h-1zM24 61h1v1h-1zM75 61h1v1h-1zM71 62h1v1h-1zM73 63h1v1h-1zM75 63h1v1h-1zM38 64h1v1h-1zM40 64h1v1h-1zM22 65h1v1h-1zM23 65h1v1h-1zM24 65h1v1h-1zM25 65h1v1h-1zM9 66h1v1h-1zM56 66h1v1h-1zM64 66h1v1h-1zM70 67h1v1h-1zM80 67h1v1h-1z"/>
<path fill="#001040" fill-opacity="0.05" d="M70 0h1v1h-1zM71 0h1v1h-1zM75 0h1v1h-1zM80 0h1v1h-1zM54 1h1v1h-1zM59 1h1v1h-1zM4 2h1v1h-1zM11 2h1v1h-1zM16 2h1v1h-1zM22 2h1v1h-1zM25 2h1v1h-1zM26 2h1v1h-1zM28 2h1v1h-1zM37 2h1v1h-1zM38 2h1v1h-1zM46 2h1v1h-1zM50 2h1v1h-1zM51 2h1v1h-1zM54 2h1v1h-1zM59 2h1v1h-1zM60 2h1v1h-1zM61 2h1v1h-1zM62 2h1v1h-1zM63 2h1v1h-1zM64 2h1v1h-1zM65 2h1v1h-1zM76 2h1v1h-1zM16 3h1v1h-1zM17 3h1v1h-1zM20 3h1v1h-1zM21 3h1v1h-1zM22 3h1v1h-1zM36 3h1v1h-1zM49 3h1v1h-1zM54 3h1v1h-1zM67 3h1v1h-1zM8 4h1v1h-1zM9 4h1v1h-1zM11 4h1v1h-1zM12 4h1v1h-1zM13 4h1v1h-1zM14 4h1v1h-1zM23 4h1v1h-1zM40 4h1v1h-1zM44 4h1v1h-1zM45 4h1v1h-1zM48 4h1v1h-1zM52 4h1v1h-1zM61 4h1v1h-1zM65 4h1v1h-1zM67 4h1v1h-1zM70 4h1v1h-1zM8 5h1v1h-1zM9 5h1v1h-1zM10 5h1v1h-1zM11 5h1v1h-1zM12 5h1v1h-1zM14 5h1v1h-1zM23 5h1v1h-1zM24 5h1v1h-1zM26 5h1v1h-1zM27 5h1v1h-1zM30 5h1v1h-1zM32 5h1v1h-1zM38 5h1v1h-1zM42 5h1v1h-1zM58 5h1v1h-1zM59 5h1v1h-1zM62 5h1v1h-1zM63 5h1v1h-1zM72 5h1v1h-1zM1 6h1v1h-1zM5 6h1v1h-1zM7 6h1v1h-1zM8 6h1v1h-1zM9 6h1v1h-1zM12 6h1v1h-1zM13 6h1v1h-1zM15 6h1v1h-1zM16 6h1v1h-1zM18 6h1v1h-1zM19 6h1v1h-1zM23 6h1v1h-1zM24 6h1v1h-1zM26 6h1v1h-1zM30 6h1v1h-1zM31 6h1v1h-1zM37 6h1v1h-1zM38 6h1v1h-1zM40 6h1v1h-1zM43 6h1v1h-1zM47 6h1v1h-1zM65 6h1v1h-1zM76 6h1v1h-1zM77 6h1v1h-1zM78 6h1v1h-1zM2 7h1v1h-1zM26 7h1v1h-1zM27 7h1v1h-1zM28 7h1v1h-1zM41 7h1v1h-1zM42 7h1v1h-1zM44 7h1v1h-1zM48 7h1v1h-1zM69 7h1v1h-1zM71 7h1v1h-1zM78 7h1v1h-1zM8 8h1v1h-1zM10 8h1v1h-1zM30 8h1v1h-1zM43 8h1v1h-1zM54 8h1v1h-1zM58 8h1v1h-1zM60 8h1v1h-1zM61 8h1v1h-1zM72 8h1v1h-1zM24 9h1v1h-1zM31 9h1v1h-1zM32 9h1v1h-1zM33 9h1v1h-1zM34 9h1v1h-1zM37 9h1v1h-1zM38 9h1v1h-1zM46 9h1v1h-1zM47 9h1v1h-1zM49 9h1v1h-1zM56 9h1v1h-1zM60 9h1v1h-1zM61 9h1v1h-1zM68 9h1v1h-1zM79 9h1v1h-1zM80 9h1v1h-1zM2 10h1v1h-1zM3 10h1v1h-1zM4 10h1v1h-1zM15 10h1v1h-1zM16 10h1v1h-1zM17 10h1v1h-1zM21 10h1v1h-1zM28 10h1v1h-1zM29 10h1v1h-1zM30 10h1v1h-1zM31 10h1v1h-1zM33 10h1v1h-1zM34 10h1v1h-1zM67 10h1v1h-1zM68 10h1v1h-1zM69 10h1v1h-1zM8 11h1v1h-1zM24 11h1v1h-1zM25 11h1v1h-1zM28 11h1v1h-1zM52 11h1v1h-1zM53 11h1v1h-1zM54 11h1v1h-1zM18 12h1v1h-1zM20 12h1v1h-1zM21 12h1v1h-1zM25 12h1v1h-1zM30 12h1v1h-1zM35 12h1v1h-1zM37 12h1v1h-1zM39 12h1v1h-1zM70 12h1v1h-1zM73 12h1v1h-1zM75 12h1v1h-1zM76 12h1v1h-1zM2 13h1v1h-1zM4 13h1v1h-1zM5 13h1v1h-1zM28 13h1v1h-1zM30 13h1v1h-1zM32 13h1v1h-1zM33 13h1v1h-1zM50 13h1v1h-1zM60 13h1v1h-1zM64 13h1v1h-1zM65 13h1v1h-1zM66 13h1v1h-1zM69 13h1v1h-1zM8 14h1v1h-1zM20 14h1v1h-1zM21 14h1v1h-1zM22 14h1v1h-1zM23 14h1v1h-1zM38 14h1v1h-1zM39 14h1v1h-1zM41 14h1v1h-1zM43 14h1v1h-1zM44 14h1v1h-1zM51 14h1v1h-1zM55 14h1v1h-1zM56 14h1v1h-1zM57 14h1v1h-1zM61 14h1v1h-1zM62 14h1v1h-1zM64 14h1v1h-1zM65 14h1v1h-1zM72 14h1v1h-1zM79 14h1v1h-1zM8 15h1v1h-1zM11 15h1v1h-1zM16 15h1v1h-1zM17 15h1v1h-1zM22 15h1v1h-1zM33 15h1v1h-1zM50 15h1v1h-1zM51 15h1v1h-1zM53 15h1v1h-1zM65 15h1v1h-1zM66 15h1v1h-1zM71 15h1v1h-1zM73 15h1v1h-1zM74 15h1v1h-1zM75 15h1v1h-1zM76 15h1v1h-1zM3 16h1v1h-1zM4 16h1v1h-1zM7 16h1v1h-1zM8 16h1v1h-1zM10 16h1v1h-1zM11 16h1v1h-1zM13 16h1v1h-1zM14 16h1v1h-1zM15 16h1v1h-1zM16 16h1v1h-1zM18 16h1v1h-1zM19 16h1v1h-1zM34 16h1v1h-1zM35 16h1v1h-1zM38 16h1v1h-1zM39 16h1v1h-1zM64 16h1v1h-1zM67 16h1v1h-1zM75 16h1v1h-1zM78 16h1v1h-1zM3 17h1v1h-1zM5 17h1v1h-1zM6 17h1v1h-1zM7 17h1v1h-1zM10 17h1v1h-1zM12 17h1v1h-1zM14 17h1v1h-1zM15 17h1v1h-1zM16 17h1v1h-1zM17 17h1v1h-1zM19 17h1v1h-1zM21 17h1v1h-1zM23 17h1v1h-1zM44 17h1v1h-1zM50 17h1v1h-1zM53 17h1v1h-1zM71 17h1v1h-1zM72 17h1v1h-1zM73 17h1v1h-1zM76 17h1v1h-1zM78 17h1v1h-1zM80 17h1v1h-1zM2 18h1v1h-1zM6 18h1v1h-1zM7 18h1v1h-1zM9 18h1v1h-1zM16 18h1v1h-1zM17 18h1v1h-1zM20 18h1v1h-1zM28 18h1v1h-1zM31 18h1v1h-1zM42 18h1v1h-1zM43 18h1v1h-1zM53 18h1v1h-1zM55 18h1v1h-1zM67 18h1v1h-1zM71 18h1v1h-1zM75 18h1v1h-1zM76 18h1v1h-1zM80 18h1v1h-1zM7 19h1v1h-1zM8 19h1v1h-1zM11 19h1v1h-1zM24 19h1v1h-1zM32 19h1v1h-1zM50 19h1v1h-1zM53 19h1v1h-1zM56 19h1v1h-1zM59 19h1v1h-1zM60 19h1v1h-1zM62 19h1v1h-1zM72 19h1v1h-1zM76 19h1v1h-1zM78 19h1v1h-1zM79 19h1v1h-1zM15 20h1v1h-1zM24 20h1v1h-1zM31 20h1v1h-1zM32 20h1v1h-1zM33 20h1v1h-1zM34 20h1v1h-1zM50 20h1v1h-1zM60 20h1v1h-1zM64 20h1v1h-1zM65 20h1v1h-1zM67 20h1v1h-1zM72 20h1v1h-1zM74 20h1v1h-1zM0 21h1v1h-1zM5 21h1v1h-1zM8 21h1v1h-1zM17 21h1v1h-1zM49 21h1v1h-1zM50 21h1v1h-1zM51 21h1v1h-1zM60 21h1v1h-1zM61 21h1v1h-1zM62 21h1v1h-1zM69 21h1v1h-1zM71 21h1v1h-1zM24 22h1v1h-1zM54 22h1v1h-1zM67 22h1v1h-1zM68 22h1v1h-1zM70 22h1v1h-1zM72 22h1v1h-1zM73 22h1v1h-1zM74 22h1v1h-1zM77 22h1v1h-1zM1 23h1v1h-1zM12 23h1v1h-1zM22 23h1v1h-1zM34 23h1v1h-1zM35 23h1v1h-1zM38 23h1v1h-1zM39 23h1v1h-1zM45 23h1v1h-1zM46 23h1v1h-1zM69 23h1v1h-1zM70 23h1v1h-1zM71 23h1v1h-1zM78 23h1v1h-1zM0 24h1v1h-1zM7 24h1v1h-1zM20 24h1v1h-1zM25 24h1v1h-1zM26 24h1v1h-1zM27 24h1v1h-1zM31 24h1v1h-1zM43 24h1v1h-1zM45 24h1v1h-1zM46 24h1v1h-1zM47 24h1v1h-1zM48 24h1v1h-1zM49 24h1v1h-1zM50 24h1v1h-1zM56 24h1v1h-1zM57 24h1v1h-1zM60 24h1v1h-1zM63 24h1v1h-1zM64 24h1v1h-1zM65 24h1v1h-1zM68 24h1v1h-1zM69 24h1v1h-1zM77 24h1v1h-1zM79 24h1v1h-1zM0 25h1v1h-1zM3 25h1v1h-1zM4 25h1v1h-1zM8 25h1v1h-1zM11 25h1v1h-1zM16 25h1v1h-1zM17 25h1v1h-1zM27 25h1v1h-1zM40 25h1v1h-1zM73 25h1v1h-1zM75 25h1v1h-1zM77 25h1v1h-1zM78 25h1v1h-1zM1 26h1v1h-1zM24 26h1v1h-1zM35 26h1v1h-1zM38 26h1v1h-1zM39 26h1v1h-1zM41 26h1v1h-1zM42 26h1v1h-1zM48 26h1v1h-1zM64 26h1v1h-1zM66 26h1v1h-1zM77 26h1v1h-1zM80 26h1v1h-1zM2 27h1v1h-1zM11 27h1v1h-1zM12 27h1v1h-1zM14 27h1v1h-1zM18 27h1v1h-1zM33 27h1v1h-1zM57 27h1v1h-1zM58 27h1v1h-1zM59 27h1v1h-1zM62 27h1v1h-1zM63 27h1v1h-1zM72 27h1v1h-1zM76 27h1v1h-1zM28 28h1v1h-1zM31 28h1v1h-1zM32 28h1v1h-1zM34 28h1v1h-1zM38 28h1v1h-1zM39 28h1v1h-1zM40 28h1v1h-1zM41 28h1v1h-1zM79 28h1v1h-1zM0 29h1v1h-1zM2 29h1v1h-1zM5 29h1v1h-1zM13 29h1v1h-1zM15 29h1v1h-1zM39 29h1v1h-1zM48 29h1v1h-1zM49 29h1v1h-1zM52 29h1v1h-1zM61 29h1v1h-1zM65 29h1v1h-1zM68 29h1v1h-1zM70 29h1v1h-1zM73 29h1v1h-1zM74 29h1v1h-1zM75 29h1v1h-1zM76 29h1v1h-1zM78 29h1v1h-1zM4 30h1v1h-1zM5 30h1v1h-1zM15 30h1v1h-1zM16 30h1v1h-1zM19 30h1v1h-1zM20 30h1v1h-1zM21 30h1v1h-1zM24 30h1v1h-1zM26 30h1v1h-1zM40 30h1v1h-1zM44 30h1v1h-1zM46 30h1v1h-1zM47 30h1v1h-1zM52 30h1v1h-1zM56 30h1v1h-1zM57 30h1v1h-1zM64 30h1v1h-1zM65 30h1v1h-1zM66 30h1v1h-1zM69 30h1v1h-1zM70 30h1v1h-1zM2 31h1v1h-1zM7 31h1v1h-1zM9 31h1v1h-1zM12 31h1v1h-1zM24 31h1v1h-1zM25 31h1v1h-1zM28 31h1v1h-1zM32 31h1v1h-1zM49 31h1v1h-1zM50 31h1v1h-1zM52 31h1v1h-1zM57 31h1v1h-1zM60 31h1v1h-1zM61 31h1v1h-1zM62 31h1v1h-1zM63 31h1v1h-1zM64 31h1v1h-1zM66 31h1v1h-1zM67 31h1v1h-1zM73 31h1v1h-1zM12 32h1v1h-1zM13 32h1v1h-1zM14 32h1v1h-1zM15 32h1v1h-1zM16 32h1v1h-1zM17 32h1v1h-1zM19 32h1v1h-1zM21 32h1v1h-1zM23 32h1v1h-1zM24 32h1v1h-1zM25 32h1v1h-1zM40 32h1v1h-1zM41 32h1v1h-1zM42 32h1v1h-1zM43 32h1v1h-1zM68 32h1v1h-1zM69 32h1v1h-1zM70 32h1v1h-1zM75 32h1v1h-1zM78 32h1v1h-1zM79 32h1v1h-1zM1 33h1v1h-1zM11 33h1v1h-1zM12 33h1v1h-1zM13 33h1v1h-1zM32 33h1v1h-1zM41 33h1v1h-1zM43 33h1v1h-1zM45 33h1v1h-1zM50 33h1v1h-1zM53 33h1v1h-1zM55 33h1v1h-1zM57 33h1v1h-1zM59 33h1v1h-1zM62 33h1v1h-1zM63 33h1v1h-1zM67 33h1v1h-1zM73 33h1v1h-1zM75 33h1v1h-1zM77 33h1v1h-1zM7 34h1v1h-1zM11 34h1v1h-1zM12 34h1v1h-1zM23 34h1v1h-1zM25 34h1v1h-1zM28 34h1v1h-1zM30 34h1v1h-1zM31 34h1v1h-1zM32 34h1v1h-1zM34 34h1v1h-1zM35 34h1v1h-1zM39 34h1v1h-1zM40 34h1v1h-1zM41 34h1v1h-1zM43 34h1v1h-1zM44 34h1v1h-1zM47 34h1v1h-1zM49 34h1v1h-1zM57 34h1v1h-1zM62 34h1v1h-1zM63 34h1v1h-1zM64 34h1v1h-1zM28 35h1v1h-1zM56 35h1v1h-1zM57 35h1v1h-1zM63 35h1v1h-1zM65 35h1v1h-1zM72 35h1v1h-1zM73 35h1v1h-1zM74 35h1v1h-1zM75 35h1v1h-1zM76 35h1v1h-1zM77 35h1v1h-1zM78 35h1v1h-1zM79 35h1v1h-1zM1 36h1v1h-1zM38 36h1v1h-1zM42 36h1v1h-1zM43 36h1v1h-1zM47 36h1v1h-1zM53 36h1v1h-1zM56 36h1v1h-1zM62 36h1v1h-1zM67 36h1v1h-1zM69 36h1v1h-1zM70 36h1v1h-1zM72 36h1v1h-1zM73 36h1v1h-1zM74 36h1v1h-1zM75 36h1v1h-1zM78 36h1v1h-1zM3 37h1v1h-1zM7 37h1v1h-1zM8 37h1v1h-1zM9 37h1v1h-1zM15 37h1v1h-1zM20 37h1v1h-1zM30 37h1v1h-1zM38 37h1v1h-1zM41 37h1v1h-1zM42 37h1v1h-1zM44 37h1v1h-1zM63 37h1v1h-1zM66 37h1v1h-1zM67 37h1v1h-1zM2 38h1v1h-1zM17 38h1v1h-1zM19 38h1v1h-1zM20 38h1v1h-1zM23 38h1v1h-1zM24 38h1v1h-1zM25 38h1v1h-1zM26 38h1v1h-1zM27 38h1v1h-1zM28 38h1v1h-1zM31 38h1v1h-1zM38 38h1v1h-1zM54 38h1v1h-1zM56 38h1v1h-1zM76 38h1v1h-1zM9 39h1v1h-1zM16 39h1v1h-1zM21 39h1v1h-1zM25 39h1v1h-1zM46 39h1v1h-1zM47 39h1v1h-1zM60 39h1v1h-1zM69 39h1v1h-1zM70 39h1v1h-1zM1 40h1v1h-1zM2 40h1v1h-1zM11 40h1v1h-1zM14 40h1v1h-1zM26 40h1v1h-1zM37 40h1v1h-1zM41 40h1v1h-1zM51 40h1v1h-1zM52 40h1v1h-1zM53 40h1v1h-1zM54 40h1v1h-1zM56 40h1v1h-1zM74 40h1v1h-1zM78 40h1v1h-1zM80 40h1v1h-1zM6 41h1v1h-1zM11 41h1v1h-1zM28 41h1v1h-1zM30 41h1v1h-1zM31 41h1v1h-1zM32 41h1v1h-1zM33 41h1v1h-1zM35 41h1v1h-1zM62 41h1v1h-1zM64 41h1v1h-1zM65 41h1v1h-1zM68 41h1v1h-1zM80 41h1v1h-1zM4 42h1v1h-1zM11 42h1v1h-1zM12 42h1v1h-1zM18 42h1v1h-1zM25 42h1v1h-1zM27 42h1v1h-1zM30 42h1v1h-1zM32 42h1v1h-1zM40 42h1v1h-1zM41 42h1v1h-1zM43 42h1v1h-1zM44 42h1v1h-1zM45 42h1v1h-1zM8 43h1v1h-1zM28 43h1v1h-1zM34 43h1v1h-1zM44 43h1v1h-1zM46 43h1v1h-1zM48 43h1v1h-1zM49 43h1v1h-1zM50 43h1v1h-1zM51 43h1v1h-1zM53 43h1v1h-1zM66 43h1v1h-1zM67 43h1v1h-1zM74 43h1v1h-1zM75 43h1v1h-1zM77 43h1v1h-1zM80 43h1v1h-1zM3 44h1v1h-1zM6 44h1v1h-1zM8 44h1v1h-1zM18 44h1v1h-1zM19 44h1v1h-1zM35 44h1v1h-1zM37 44h1v1h-1zM41 44h1v1h-1zM43 44h1v1h-1zM49 44h1v1h-1zM50 44h1v1h-1zM51 44h1v1h-1zM57 44h1v1h-1zM61 44h1v1h-1zM62 44h1v1h-1zM64 44h1v1h-1zM2 45h1v1h-1zM4 45h1v1h-1zM8 45h1v1h-1zM9 45h1v1h-1zM25 45h1v1h-1zM27 45h1v1h-1zM28 45h1v1h-1zM35 45h1v1h-1zM38 45h1v1h-1zM39 45h1v1h-1zM40 45h1v1h-1zM50 45h1v1h-1zM52 45h1v1h-1zM53 45h1v1h-1zM54 45h1v1h-1zM55 45h1v1h-1zM57 45h1v1h-1zM65 45h1v1h-1zM70 45h1v1h-1zM71 45h1v1h-1zM77 45h1v1h-1zM79 45h1v1h-1zM80 45h1v1h-1zM2 46h1v1h-1zM5 46h1v1h-1zM8 46h1v1h-1zM12 46h1v1h-1zM15 46h1v1h-1zM16 46h1v1h-1zM17 46h1v1h-1zM19 46h1v1h-1zM21 46h1v1h-1zM23 46h1v1h-1zM25 46h1v1h-1zM26 46h1v1h-1zM27 46h1v1h-1zM28 46h1v1h-1zM50 46h1v1h-1zM52 46h1v1h-1zM53 46h1v1h-1zM62 46h1v1h-1zM63 46h1v1h-1zM64 46h1v1h-1zM65 46h1v1h-1zM66 46h1v1h-1zM2 47h1v1h-1zM11 47h1v1h-1zM12 47h1v1h-1zM38 47h1v1h-1zM49 47h1v1h-1zM50 47h1v1h-1zM52 47h1v1h-1zM53 47h1v1h-1zM54 47h1v1h-1zM56 47h1v1h-1zM63 47h1v1h-1zM64 47h1v1h-1zM65 47h1v1h-1zM66 47h1v1h-1zM67 47h1v1h-1zM74 47h1v1h-1zM1 48h1v1h-1zM3 48h1v1h-1zM4 48h1v1h-1zM5 48h1v1h-1zM8 48h1v1h-1zM12 48h1v1h-1zM15 48h1v1h-1zM16 48h1v1h-1zM19 48h1v1h-1zM32 48h1v1h-1zM34 48h1v1h-1zM46 48h1v1h-1zM47 48h1v1h-1zM49 48h1v1h-1zM50 48h1v1h-1zM53 48h1v1h-1zM55 48h1v1h-1zM57 48h1v1h-1zM61 48h1v1h-1zM79 48h1v1h-1zM80 48h1v1h-1zM3 49h1v1h-1zM5 49h1v1h-1zM6 49h1v1h-1zM14 49h1v1h-1zM33 49h1v1h-1zM43 49h1v1h-1zM44 49h1v1h-1zM46 49h1v1h-1zM47 49h1v1h-1zM58 49h1v1h-1zM59 49h1v1h-1zM60 49h1v1h-1zM61 49h1v1h-1zM74 49h1v1h-1zM75 49h1v1h-1zM79 49h1v1h-1zM1 50h1v1h-1zM23 50h1v1h-1zM27 50h1v1h-1zM28 50h1v1h-1zM29 50h1v1h-1zM31 50h1v1h-1zM33 50h1v1h-1zM41 50h1v1h-1zM42 50h1v1h-1zM43 50h1v1h-1zM51 50h1v1h-1zM54 50h1v1h-1zM55 50h1v1h-1zM56 50h1v1h-1zM70 50h1v1h-1zM71 50h1v1h-1zM72 50h1v1h-1zM77 50h1v1h-1zM0 51h1v1h-1zM3 51h1v1h-1zM6 51h1v1h-1zM8 51h1v1h-1zM9 51h1v1h-1zM22 51h1v1h-1zM23 51h1v1h-1zM49 51h1v1h-1zM50 51h1v1h-1zM51 51h1v1h-1zM64 51h1v1h-1zM77 51h1v1h-1zM78 51h1v1h-1zM27 52h1v1h-1zM29 52h1v1h-1zM32 52h1v1h-1zM35 52h1v1h-1zM36 52h1v1h-1zM39 52h1v1h-1zM41 52h1v1h-1zM42 52h1v1h-1zM43 52h1v1h-1zM66 52h1v1h-1zM68 52h1v1h-1zM71 52h1v1h-1zM72 52h1v1h-1zM58 53h1v1h-1zM59 53h1v1h-1zM31 54h1v1h-1zM57 54h1v1h-1zM58 54h1v1h-1zM60 54h1v1h-1zM76 54h1v1h-1zM25 55h1v1h-1zM39 55h1v1h-1zM60 55h1v1h-1zM61 55h1v1h-1zM7 56h1v1h-1zM8 56h1v1h-1zM16 56h1v1h-1zM18 56h1v1h-1zM20 56h1v1h-1zM21 56h1v1h-1zM34 56h1v1h-1zM40 56h1v1h-1zM42 56h1v1h-1zM43 56h1v1h-1zM44 56h1v1h-1zM56 56h1v1h-1zM0 57h1v1h-1zM35 57h1v1h-1zM47 57h1v1h-1zM48 57h1v1h-1zM49 57h1v1h-1zM65 57h1v1h-1zM66 57h1v1h-1zM67 57h1v1h-1zM20 58h1v1h-1zM21 58h1v1h-1zM23 58h1v1h-1zM45 58h1v1h-1zM78 58h1v1h-1zM79 58h1v1h-1zM23 59h1v1h-1zM41 59h1v1h-1zM42 59h1v1h-1zM0 60h1v1h-1zM2 60h1v1h-1zM19 60h1v1h-1zM37 60h1v1h-1zM38 60h1v1h-1zM39 60h1v1h-1zM40 60h1v1h-1zM41 60h1v1h-1zM58 60h1v1h-1zM59 60h1v1h-1zM60 60h1v1h-1zM62 60h1v1h-1zM13 61h1v1h-1zM37 61h1v1h-1zM40 61h1v1h-1zM41 61h1v1h-1zM1 62h1v1h-1zM77 62h1v1h-1zM30 63h1v1h-1zM31 63h1v1h-1zM33 63h1v1h-1zM34 63h1v1h-1zM6 64h1v1h-1zM7 64h1v1h-1zM20 64h1v1h-1zM22 64h1v1h-1zM46 64h1v1h-1zM51 64h1v1h-1zM65 64h1v1h-1zM67 65h1v1h-1zM69 65h1v1h-1zM0 66h1v1h-1zM1 66h1v1h-1zM2 66h1v1h-1zM3 66h1v1h-1zM32 66h1v1h-1zM49 66h1v1h-1zM71 66h1v1h-1zM56 67h1v1h-1zM57 67h1v1h-1zM58 67h1v1h-1zM77 67h1v1h-1z"/>
<path fill="#001040" fill-opacity="0.10" d="M21 2h1v1h-1zM29 2h1v1h-1zM30 2h1v1h-1zM31 2h1v1h-1zM39 2h1v1h-1zM18 3h1v1h-1zM47 3h1v1h-1zM3 4h1v1h-1zM4 4h1v1h-1zM5 4h1v1h-1zM6 4h1v1h-1zM10 4h1v1h-1zM66 4h1v1h-1zM68 4h1v1h-1zM28 5h1v1h-1zM29 5h1v1h-1zM31 5h1v1h-1zM79 5h1v1h-1zM0 6h1v1h-1zM10 6h1v1h-1zM11 6h1v1h-1zM14 6h1v1h-1zM17 6h1v1h-1zM75 6h1v1h-1zM79 6h1v1h-1zM4 7h1v1h-1zM80 7h1v1h-1zM55 8h1v1h-1zM56 8h1v1h-1zM57 8h1v1h-1zM59 8h1v1h-1zM35 9h1v1h-1zM36 9h1v1h-1zM58 9h1v1h-1zM59 9h1v1h-1zM11 10h1v1h-1zM12 10h1v1h-1zM13 10h1v1h-1zM14 10h1v1h-1zM46 10h1v1h-1zM0 11h1v1h-1zM1 11h1v1h-1zM55 11h1v1h-1zM79 11h1v1h-1zM22 12h1v1h-1zM23 12h1v1h-1zM77 12h1v1h-1zM0 13h1v1h-1zM1 13h1v1h-1zM3 13h1v1h-1zM29 13h1v1h-1zM31 13h1v1h-1zM68 13h1v1h-1zM37 14h1v1h-1zM40 14h1v1h-1zM42 14h1v1h-1zM60 14h1v1h-1zM6 15h1v1h-1zM46 15h1v1h-1zM47 15h1v1h-1zM48 15h1v1h-1zM52 15h1v1h-1zM54 15h1v1h-1zM55 15h1v1h-1zM56 15h1v1h-1zM57 15h1v1h-1zM5 16h1v1h-1zM6 16h1v1h-1zM17 16h1v1h-1zM69 16h1v1h-1zM79 16h1v1h-1zM80 16h1v1h-1zM2 17h1v1h-1zM20 17h1v1h-1zM24 17h1v1h-1zM41 17h1v1h-1zM46 17h1v1h-1zM74 17h1v1h-1zM0 18h1v1h-1zM1 18h1v1h-1zM3 18h1v1h-1zM19 18h1v1h-1zM44 18h1v1h-1zM45 18h1v1h-1zM46 18h1v1h-1zM49 18h1v1h-1zM77 18h1v1h-1zM78 18h1v1h-1zM57 19h1v1h-1zM58 19h1v1h-1zM56 20h1v1h-1zM1 21h1v1h-1zM2 21h1v1h-1zM3 21h1v1h-1zM22 21h1v1h-1zM44 21h1v1h-1zM8 22h1v1h-1zM69 22h1v1h-1zM75 22h1v1h-1zM76 22h1v1h-1zM0 23h1v1h-1zM2 23h1v1h-1zM3 23h1v1h-1zM4 23h1v1h-1zM5 23h1v1h-1zM6 23h1v1h-1zM7 23h1v1h-1zM8 23h1v1h-1zM9 23h1v1h-1zM10 23h1v1h-1zM26 23h1v1h-1zM33 23h1v1h-1zM36 23h1v1h-1zM37 23h1v1h-1zM68 23h1v1h-1zM77 23h1v1h-1zM79 23h1v1h-1zM80 23h1v1h-1zM28 24h1v1h-1zM29 24h1v1h-1zM51 24h1v1h-1zM53 24h1v1h-1zM54 24h1v1h-1zM61 24h1v1h-1zM62 24h1v1h-1zM78 24h1v1h-1zM80 24h1v1h-1zM13 25h1v1h-1zM25 25h1v1h-1zM68 25h1v1h-1zM70 25h1v1h-1zM71 25h1v1h-1zM37 26h1v1h-1zM43 26h1v1h-1zM44 26h1v1h-1zM45 26h1v1h-1zM46 26h1v1h-1zM47 26h1v1h-1zM79 26h1v1h-1zM13 27h1v1h-1zM60 27h1v1h-1zM0 28h1v1h-1zM3 29h1v1h-1zM4 29h1v1h-1zM14 29h1v1h-1zM66 29h1v1h-1zM69 29h1v1h-1zM17 30h1v1h-1zM39 30h1v1h-1zM41 30h1v1h-1zM42 30h1v1h-1zM43 30h1v1h-1zM4 31h1v1h-1zM5 31h1v1h-1zM6 31h1v1h-1zM8 31h1v1h-1zM26 31h1v1h-1zM27 31h1v1h-1zM29 31h1v1h-1zM65 31h1v1h-1zM18 32h1v1h-1zM20 32h1v1h-1zM22 32h1v1h-1zM44 32h1v1h-1zM47 32h1v1h-1zM71 32h1v1h-1zM8 33h1v1h-1zM42 33h1v1h-1zM44 33h1v1h-1zM64 33h1v1h-1zM66 33h1v1h-1zM72 33h1v1h-1zM74 33h1v1h-1zM8 34h1v1h-1zM9 34h1v1h-1zM10 34h1v1h-1zM24 34h1v1h-1zM26 34h1v1h-1zM27 34h1v1h-1zM29 34h1v1h-1zM46 34h1v1h-1zM58 34h1v1h-1zM59 34h1v1h-1zM0 36h1v1h-1zM3 36h1v1h-1zM45 36h1v1h-1zM61 36h1v1h-1zM63 36h1v1h-1zM71 36h1v1h-1zM39 37h1v1h-1zM79 37h1v1h-1zM0 38h1v1h-1zM7 38h1v1h-1zM21 38h1v1h-1zM22 38h1v1h-1zM37 38h1v1h-1zM55 38h1v1h-1zM78 38h1v1h-1zM8 39h1v1h-1zM18 39h1v1h-1zM19 39h1v1h-1zM20 39h1v1h-1zM22 39h1v1h-1zM23 39h1v1h-1zM24 39h1v1h-1zM45 39h1v1h-1zM63 39h1v1h-1zM65 39h1v1h-1zM66 39h1v1h-1zM67 39h1v1h-1zM76 39h1v1h-1zM77 39h1v1h-1zM78 39h1v1h-1zM79 39h1v1h-1zM80 39h1v1h-1zM3 40h1v1h-1zM12 40h1v1h-1zM13 40h1v1h-1zM75 40h1v1h-1zM76 40h1v1h-1zM77 40h1v1h-1zM79 40h1v1h-1zM7 41h1v1h-1zM66 41h1v1h-1zM67 41h1v1h-1zM20 42h1v1h-1zM22 42h1v1h-1zM27 43h1v1h-1zM29 43h1v1h-1zM30 43h1v1h-1zM31 43h1v1h-1zM32 43h1v1h-1zM33 43h1v1h-1zM64 43h1v1h-1zM65 43h1v1h-1zM76 43h1v1h-1zM78 43h1v1h-1zM15 44h1v1h-1zM16 44h1v1h-1zM17 44h1v1h-1zM38 44h1v1h-1zM39 44h1v1h-1zM40 44h1v1h-1zM59 44h1v1h-1zM60 44h1v1h-1zM68 44h1v1h-1zM3 45h1v1h-1zM5 45h1v1h-1zM6 45h1v1h-1zM7 45h1v1h-1zM37 45h1v1h-1zM66 45h1v1h-1zM67 45h1v1h-1zM68 45h1v1h-1zM3 46h1v1h-1zM13 46h1v1h-1zM14 46h1v1h-1zM29 46h1v1h-1zM30 46h1v1h-1zM34 46h1v1h-1zM2 48h1v1h-1zM23 48h1v1h-1zM44 48h1v1h-1zM45 48h1v1h-1zM48 48h1v1h-1zM54 48h1v1h-1zM2 49h1v1h-1zM4 49h1v1h-1zM76 49h1v1h-1zM77 49h1v1h-1zM78 49h1v1h-1zM0 50h1v1h-1zM2 50h1v1h-1zM4 50h1v1h-1zM25 50h1v1h-1zM73 50h1v1h-1zM74 50h1v1h-1zM1 51h1v1h-1zM2 51h1v1h-1zM61 51h1v1h-1zM63 51h1v1h-1zM65 51h1v1h-1zM66 51h1v1h-1zM67 51h1v1h-1zM80 51h1v1h-1zM34 52h1v1h-1zM38 52h1v1h-1zM40 52h1v1h-1zM57 53h1v1h-1z"/>
</g>
<rect x="31.00" y="186.35" width="198.70" height="0.9" fill="#20a0d0" fill-opacity="0.4"/>
<rect x="56.20" y="97.80" width="151.00" height="11.30" fill="#06065e"/>
<linearGradient id="b9" gradientUnits="userSpaceOnUse" x1="56.20" y1="0" x2="207.20" y2="0"><stop offset="0.0000" stop-color="#0000bd" stop-opacity="0.50"/><stop offset="0.2238" stop-color="#0000d1" stop-opacity="0.50"/><stop offset="0.2636" stop-color="#0000f0" stop-opacity="0.50"/><stop offset="0.2801" stop-color="#0005ff" stop-opacity="0.50"/><stop offset="0.3000" stop-color="#0005ff" stop-opacity="0.50"/><stop offset="0.3232" stop-color="#0005ff" stop-opacity="0.50"/><stop offset="0.3397" stop-color="#0005ff" stop-opacity="0.50"/><stop offset="0.3530" stop-color="#0005ff" stop-opacity="0.50"/><stop offset="0.3695" stop-color="#0005ff" stop-opacity="0.50"/><stop offset="0.4093" stop-color="#0005ff" stop-opacity="0.50"/><stop offset="0.4424" stop-color="#0005ff" stop-opacity="0.50"/><stop offset="0.4589" stop-color="#0005ff" stop-opacity="0.50"/><stop offset="0.4755" stop-color="#0005ff" stop-opacity="0.50"/><stop offset="0.4887" stop-color="#0005ff" stop-opacity="0.50"/><stop offset="0.5020" stop-color="#0005ff" stop-opacity="0.50"/><stop offset="0.5185" stop-color="#0005ff" stop-opacity="0.50"/><stop offset="0.5318" stop-color="#0005ff" stop-opacity="0.50"/><stop offset="0.5483" stop-color="#0005ff" stop-opacity="0.50"/><stop offset="0.5682" stop-color="#0005ff" stop-opacity="0.50"/><stop offset="0.6079" stop-color="#0005ff" stop-opacity="0.50"/><stop offset="0.6477" stop-color="#0005ff" stop-opacity="0.50"/><stop offset="0.6675" stop-color="#0005ff" stop-opacity="0.50"/><stop offset="0.6907" stop-color="#0005ff" stop-opacity="0.50"/><stop offset="0.7139" stop-color="#0005ff" stop-opacity="0.50"/><stop offset="0.7437" stop-color="#0005ff" stop-opacity="0.50"/><stop offset="0.8199" stop-color="#0000fa" stop-opacity="0.50"/><stop offset="1.0000" stop-color="#0000e6" stop-opacity="0.50"/></linearGradient>
<rect x="56.20" y="102.5" width="151.00" height="1.9" fill="url(#b9)"/>
<linearGradient id="b10" gradientUnits="userSpaceOnUse" x1="56.20" y1="0" x2="207.20" y2="0"><stop offset="0.0000" stop-color="#0000bd" stop-opacity="0.65"/><stop offset="0.2238" stop-color="#0000c7" stop-opacity="0.65"/><stop offset="0.2636" stop-color="#0000d6" stop-opacity="0.65"/><stop offset="0.2801" stop-color="#002eff" stop-opacity="0.65"/><stop offset="0.3000" stop-color="#0075ff" stop-opacity="0.65"/><stop offset="0.3232" stop-color="#00c2ff" stop-opacity="0.65"/><stop offset="0.3397" stop-color="#05fffa" stop-opacity="0.65"/><stop offset="0.3530" stop-color="#4dffb2" stop-opacity="0.65"/><stop offset="0.3695" stop-color="#7aff85" stop-opacity="0.65"/><stop offset="0.4093" stop-color="#8aff75" stop-opacity="0.65"/><stop offset="0.4424" stop-color="#75ff8a" stop-opacity="0.65"/><stop offset="0.4589" stop-color="#4dffb2" stop-opacity="0.65"/><stop offset="0.4755" stop-color="#00faff" stop-opacity="0.65"/><stop offset="0.4887" stop-color="#00b8ff" stop-opacity="0.65"/><stop offset="0.5020" stop-color="#0085ff" stop-opacity="0.65"/><stop offset="0.5185" stop-color="#0057ff" stop-opacity="0.65"/><stop offset="0.5318" stop-color="#0057ff" stop-opacity="0.65"/><stop offset="0.5483" stop-color="#0075ff" stop-opacity="0.65"/><stop offset="0.5682" stop-color="#0094ff" stop-opacity="0.65"/><stop offset="0.6079" stop-color="#009eff" stop-opacity="0.65"/><stop offset="0.6477" stop-color="#0094ff" stop-opacity="0.65"/><stop offset="0.6675" stop-color="#006bff" stop-opacity="0.65"/><stop offset="0.6907" stop-color="#0042ff" stop-opacity="0.65"/><stop offset="0.7139" stop-color="#001aff" stop-opacity="0.65"/><stop offset="0.7437" stop-color="#0000f5" stop-opacity="0.65"/><stop offset="0.8199" stop-color="#0000db" stop-opacity="0.65"/><stop offset="1.0000" stop-color="#0000d1" stop-opacity="0.65"/></linearGradient>
<ellipse cx="116.50" cy="103.45" rx="20.00" ry="1.35" fill="url(#b10)"/>
<ellipse cx="150.50" cy="103.6" rx="16.00" ry="1.05" fill="url(#b10)"/>
<linearGradient id="b11" gradientUnits="userSpaceOnUse" x1="56.20" y1="0" x2="207.20" y2="0"><stop offset="0.0000" stop-color="#0000bd" stop-opacity="1.00"/><stop offset="0.2238" stop-color="#0000cd" stop-opacity="1.00"/><stop offset="0.2636" stop-color="#0000e6" stop-opacity="1.00"/><stop offset="0.2801" stop-color="#0071ff" stop-opacity="1.00"/><stop offset="0.3000" stop-color="#00e3ff" stop-opacity="1.00"/><stop offset="0.3232" stop-color="#5fffa0" stop-opacity="1.00"/><stop offset="0.3397" stop-color="#c9ff36" stop-opacity="1.00"/><stop offset="0.3530" stop-color="#ffc300" stop-opacity="1.00"/><stop offset="0.3695" stop-color="#ff7900" stop-opacity="1.00"/><stop offset="0.4093" stop-color="#ff6100" stop-opacity="1.00"/><stop offset="0.4424" stop-color="#ff8200" stop-opacity="1.00"/><stop offset="0.4589" stop-color="#ffc300" stop-opacity="1.00"/><stop offset="0.4755" stop-color="#b9ff46" stop-opacity="1.00"/><stop offset="0.4887" stop-color="#4fffb0" stop-opacity="1.00"/><stop offset="0.5020" stop-color="#00fcff" stop-opacity="1.00"/><stop offset="0.5185" stop-color="#00b2ff" stop-opacity="1.00"/><stop offset="0.5318" stop-color="#00b2ff" stop-opacity="1.00"/><stop offset="0.5483" stop-color="#00e3ff" stop-opacity="1.00"/><stop offset="0.5682" stop-color="#15ffea" stop-opacity="1.00"/><stop offset="0.6079" stop-color="#26ffd9" stop-opacity="1.00"/><stop offset="0.6477" stop-color="#15ffea" stop-opacity="1.00"/><stop offset="0.6675" stop-color="#00d3ff" stop-opacity="1.00"/><stop offset="0.6907" stop-color="#0092ff" stop-opacity="1.00"/><stop offset="0.7139" stop-color="#0051ff" stop-opacity="1.00"/><stop offset="0.7437" stop-color="#0017ff" stop-opacity="1.00"/><stop offset="0.8199" stop-color="#0000ee" stop-opacity="1.00"/><stop offset="1.0000" stop-color="#0000dd" stop-opacity="1.00"/></linearGradient>
<ellipse cx="116.50" cy="103.45" rx="19.40" ry="0.85" fill="url(#b11)"/>
<ellipse cx="150.50" cy="103.6" rx="15.40" ry="0.62" fill="url(#b11)"/>
<linearGradient id="b12" gradientUnits="userSpaceOnUse" x1="56.20" y1="0" x2="207.20" y2="0"><stop offset="0.0000" stop-color="#0000bd" stop-opacity="1.00"/><stop offset="0.2238" stop-color="#0000d1" stop-opacity="1.00"/><stop offset="0.2636" stop-color="#0000f0" stop-opacity="1.00"/><stop offset="0.2801" stop-color="#009eff" stop-opacity="1.00"/><stop offset="0.3000" stop-color="#2effd1" stop-opacity="1.00"/><stop offset="0.3232" stop-color="#c7ff38" stop-opacity="1.00"/><stop offset="0.3397" stop-color="#ffb300" stop-opacity="1.00"/><stop offset="0.3530" stop-color="#ff2400" stop-opacity="1.00"/><stop offset="0.3695" stop-color="#c70000" stop-opacity="1.00"/><stop offset="0.4093" stop-color="#a80000" stop-opacity="1.00"/><stop offset="0.4424" stop-color="#d10000" stop-opacity="1.00"/><stop offset="0.4589" stop-color="#ff2400" stop-opacity="1.00"/><stop offset="0.4755" stop-color="#ffc700" stop-opacity="1.00"/><stop offset="0.4887" stop-color="#b3ff4c" stop-opacity="1.00"/><stop offset="0.5020" stop-color="#4dffb2" stop-opacity="1.00"/><stop offset="0.5185" stop-color="#00f0ff" stop-opacity="1.00"/><stop offset="0.5318" stop-color="#00f0ff" stop-opacity="1.00"/><stop offset="0.5483" stop-color="#2effd1" stop-opacity="1.00"/><stop offset="0.5682" stop-color="#6bff94" stop-opacity="1.00"/><stop offset="0.6079" stop-color="#80ff80" stop-opacity="1.00"/><stop offset="0.6477" stop-color="#6bff94" stop-opacity="1.00"/><stop offset="0.6675" stop-color="#1affe5" stop-opacity="1.00"/><stop offset="0.6907" stop-color="#00c7ff" stop-opacity="1.00"/><stop offset="0.7139" stop-color="#0075ff" stop-opacity="1.00"/><stop offset="0.7437" stop-color="#002eff" stop-opacity="1.00"/><stop offset="0.8199" stop-color="#0000fa" stop-opacity="1.00"/><stop offset="1.0000" stop-color="#0000e6" stop-opacity="1.00"/></linearGradient>
<ellipse cx="116.50" cy="103.45" rx="19.00" ry="0.50" fill="url(#b12)"/>
<ellipse cx="150.50" cy="103.6" rx="15.00" ry="0.32" fill="url(#b12)"/>
<rect x="56.20" y="97.80" width="0.56" height="11.30" fill="#000020" fill-opacity="0.61"/>
<rect x="57.98" y="97.80" width="1.23" height="11.30" fill="#000020" fill-opacity="0.53"/>
<rect x="60.44" y="97.80" width="1.23" height="11.30" fill="#000020" fill-opacity="0.48"/>
<rect x="62.89" y="97.80" width="1.23" height="11.30" fill="#000020" fill-opacity="0.50"/>
<rect x="65.34" y="97.80" width="1.23" height="11.30" fill="#000020" fill-opacity="0.58"/>
<rect x="67.80" y="97.80" width="1.23" height="11.30" fill="#000020" fill-opacity="0.47"/>
<rect x="70.25" y="97.80" width="1.23" height="11.30" fill="#000020" fill-opacity="0.53"/>
<rect x="72.70" y="97.80" width="1.23" height="11.30" fill="#000020" fill-opacity="0.58"/>
<rect x="75.16" y="97.80" width="1.23" height="11.30" fill="#000020" fill-opacity="0.49"/>
<rect x="77.61" y="97.80" width="1.23" height="11.30" fill="#000020" fill-opacity="0.57"/>
<rect x="80.06" y="97.80" width="1.23" height="11.30" fill="#000020" fill-opacity="0.61"/>
<rect x="82.51" y="97.80" width="1.23" height="11.30" fill="#000020" fill-opacity="0.49"/>
<rect x="84.97" y="97.80" width="1.23" height="11.30" fill="#000020" fill-opacity="0.53"/>
<rect x="87.42" y="97.80" width="1.23" height="11.30" fill="#000020" fill-opacity="0.58"/>
<rect x="89.87" y="97.80" width="1.23" height="11.30" fill="#000020" fill-opacity="0.52"/>
<rect x="92.33" y="97.80" width="1.23" height="11.30" fill="#000020" fill-opacity="0.51"/>
<rect x="94.78" y="97.80" width="1.23" height="11.30" fill="#000020" fill-opacity="0.57"/>
<rect x="97.23" y="97.80" width="1.23" height="11.30" fill="#000020" fill-opacity="0.60"/>
<rect x="99.69" y="97.80" width="1.23" height="11.30" fill="#000020" fill-opacity="0.49"/>
<rect x="102.14" y="97.80" width="1.23" height="11.30" fill="#000020" fill-opacity="0.58"/>
<rect x="104.59" y="97.80" width="1.23" height="11.30" fill="#000020" fill-opacity="0.56"/>
<rect x="107.05" y="97.80" width="1.23" height="11.30" fill="#000020" fill-opacity="0.59"/>
<rect x="109.50" y="97.80" width="1.23" height="11.30" fill="#000020" fill-opacity="0.53"/>
<rect x="111.95" y="97.80" width="1.23" height="11.30" fill="#000020" fill-opacity="0.55"/>
<rect x="114.40" y="97.80" width="1.23" height="11.30" fill="#000020" fill-opacity="0.48"/>
<rect x="116.86" y="97.80" width="1.23" height="11.30" fill="#000020" fill-opacity="0.47"/>
<rect x="119.31" y="97.80" width="1.23" height="11.30" fill="#000020" fill-opacity="0.48"/>
<rect x="121.76" y="97.80" width="1.23" height="11.30" fill="#000020" fill-opacity="0.56"/>
<rect x="124.22" y="97.80" width="1.23" height="11.30" fill="#000020" fill-opacity="0.51"/>
<rect x="126.67" y="97.80" width="1.23" height="11.30" fill="#000020" fill-opacity="0.60"/>
<rect x="129.12" y="97.80" width="1.23" height="11.30" fill="#000020" fill-opacity="0.54"/>
<rect x="131.58" y="97.80" width="1.23" height="11.30" fill="#000020" fill-opacity="0.54"/>
<rect x="134.03" y="97.80" width="1.23" height="11.30" fill="#000020" fill-opacity="0.63"/>
<rect x="136.48" y="97.80" width="1.23" height="11.30" fill="#000020" fill-opacity="0.55"/>
<rect x="138.94" y="97.80" width="1.23" height="11.30" fill="#000020" fill-opacity="0.56"/>
<rect x="141.39" y="97.80" width="1.23" height="11.30" fill="#000020" fill-opacity="0.63"/>
<rect x="143.84" y="97.80" width="1.23" height="11.30" fill="#000020" fill-opacity="0.64"/>
<rect x="146.30" y="97.80" width="1.23" height="11.30" fill="#000020" fill-opacity="0.49"/>
<rect x="148.75" y="97.80" width="1.23" height="11.30" fill="#000020" fill-opacity="0.55"/>
<rect x="151.20" y="97.80" width="1.23" height="11.30" fill="#000020" fill-opacity="0.58"/>
<rect x="153.65" y="97.80" width="1.23" height="11.30" fill="#000020" fill-opacity="0.58"/>
<rect x="156.11" y="97.80" width="1.23" height="11.30" fill="#000020" fill-opacity="0.48"/>
<rect x="158.56" y="97.80" width="1.23" height="11.30" fill="#000020" fill-opacity="0.50"/>
<rect x="161.01" y="97.80" width="1.23" height="11.30" fill="#000020" fill-opacity="0.63"/>
<rect x="163.47" y="97.80" width="1.23" height="11.30" fill="#000020" fill-opacity="0.60"/>
<rect x="165.92" y="97.80" width="1.23" height="11.30" fill="#000020" fill-opacity="0.48"/>
<rect x="168.37" y="97.80" width="1.23" height="11.30" fill="#000020" fill-opacity="0.54"/>
<rect x="170.83" y="97.80" width="1.23" height="11.30" fill="#000020" fill-opacity="0.51"/>
<rect x="173.28" y="97.80" width="1.23" height="11.30" fill="#000020" fill-opacity="0.47"/>
<rect x="175.73" y="97.80" width="1.23" height="11.30" fill="#000020" fill-opacity="0.52"/>
<rect x="178.19" y="97.80" width="1.23" height="11.30" fill="#000020" fill-opacity="0.56"/>
<rect x="180.64" y="97.80" width="1.23" height="11.30" fill="#000020" fill-opacity="0.64"/>
<rect x="183.09" y="97.80" width="1.23" height="11.30" fill="#000020" fill-opacity="0.48"/>
<rect x="185.54" y="97.80" width="1.23" height="11.30" fill="#000020" fill-opacity="0.49"/>
<rect x="188.00" y="97.80" width="1.23" height="11.30" fill="#000020" fill-opacity="0.55"/>
<rect x="190.45" y="97.80" width="1.23" height="11.30" fill="#000020" fill-opacity="0.52"/>
<rect x="192.90" y="97.80" width="1.23" height="11.30" fill="#000020" fill-opacity="0.60"/>
<rect x="195.36" y="97.80" width="1.23" height="11.30" fill="#000020" fill-opacity="0.56"/>
<rect x="197.81" y="97.80" width="1.23" height="11.30" fill="#000020" fill-opacity="0.64"/>
<rect x="200.26" y="97.80" width="1.23" height="11.30" fill="#000020" fill-opacity="0.57"/>
<rect x="202.72" y="97.80" width="1.23" height="11.30" fill="#000020" fill-opacity="0.63"/>
<rect x="205.17" y="97.80" width="1.23" height="11.30" fill="#000020" fill-opacity="0.55"/>
<linearGradient id="c13" x1="0" y1="1" x2="0" y2="0">
<stop offset="0.0000" stop-color="#000080"/>
<stop offset="0.0156" stop-color="#00008f"/>
<stop offset="0.0312" stop-color="#00009f"/>
<stop offset="0.0469" stop-color="#0000af"/>
<stop offset="0.0625" stop-color="#0000bf"/>
<stop offset="0.0781" stop-color="#0000cf"/>
<stop offset="0.0938" stop-color="#0000df"/>
<stop offset="0.1094" stop-color="#0000ef"/>
<stop offset="0.1250" stop-color="#0000ff"/>
<stop offset="0.1406" stop-color="#0010ff"/>
<stop offset="0.1562" stop-color="#0020ff"/>
<stop offset="0.1719" stop-color="#0030ff"/>
<stop offset="0.1875" stop-color="#0040ff"/>
<stop offset="0.2031" stop-color="#0050ff"/>
<stop offset="0.2188" stop-color="#0060ff"/>
<stop offset="0.2344" stop-color="#0070ff"/>
<stop offset="0.2500" stop-color="#0080ff"/>
<stop offset="0.2656" stop-color="#008fff"/>
<stop offset="0.2812" stop-color="#009fff"/>
<stop offset="0.2969" stop-color="#00afff"/>
<stop offset="0.3125" stop-color="#00bfff"/>
<stop offset="0.3281" stop-color="#00cfff"/>
<stop offset="0.3438" stop-color="#00dfff"/>
<stop offset="0.3594" stop-color="#00efff"/>
<stop offset="0.3750" stop-color="#00ffff"/>
<stop offset="0.3906" stop-color="#10ffef"/>
<stop offset="0.4062" stop-color="#20ffdf"/>
<stop offset="0.4219" stop-color="#30ffcf"/>
<stop offset="0.4375" stop-color="#40ffbf"/>
<stop offset="0.4531" stop-color="#50ffaf"/>
<stop offset="0.4688" stop-color="#60ff9f"/>
<stop offset="0.4844" stop-color="#70ff8f"/>
<stop offset="0.5000" stop-color="#80ff80"/>
<stop offset="0.5156" stop-color="#8fff70"/>
<stop offset="0.5312" stop-color="#9fff60"/>
<stop offset="0.5469" stop-color="#afff50"/>
<stop offset="0.5625" stop-color="#bfff40"/>
<stop offset="0.5781" stop-color="#cfff30"/>
<stop offset="0.5938" stop-color="#dfff20"/>
<stop offset="0.6094" stop-color="#efff10"/>
<stop offset="0.6250" stop-color="#ffff00"/>
<stop offset="0.6406" stop-color="#ffef00"/>
<stop offset="0.6562" stop-color="#ffdf00"/>
<stop offset="0.6719" stop-color="#ffcf00"/>
<stop offset="0.6875" stop-color="#ffbf00"/>
<stop offset="0.7031" stop-color="#ffaf00"/>
<stop offset="0.7188" stop-color="#ff9f00"/>
<stop offset="0.7344" stop-color="#ff8f00"/>
<stop offset="0.7500" stop-color="#ff8000"/>
<stop offset="0.7656" stop-color="#ff7000"/>
<stop offset="0.7812" stop-color="#ff6000"/>
<stop offset="0.7969" stop-color="#ff5000"/>
<stop offset="0.8125" stop-color="#ff4000"/>
<stop offset="0.8281" stop-color="#ff3000"/>
<stop offset="0.8438" stop-color="#ff2000"/>
<stop offset="0.8594" stop-color="#ff1000"/>
<stop offset="0.8750" stop-color="#ff0000"/>
<stop offset="0.8906" stop-color="#ef0000"/>
<stop offset="0.9062" stop-color="#df0000"/>
<stop offset="0.9219" stop-color="#cf0000"/>
<stop offset="0.9375" stop-color="#bf0000"/>
<stop offset="0.9531" stop-color="#af0000"/>
<stop offset="0.9688" stop-color="#9f0000"/>
<stop offset="0.9844" stop-color="#8f0000"/>
<stop offset="1.0000" stop-color="#800000"/>
</linearGradient>
<rect x="240.55" y="15.6" width="11.3" height="171.6" fill="url(#c13)"/>
<rect x="250.25" y="184.85" width="1.6" height="0.7" fill="#222" fill-opacity="0.35"/>
<rect x="250.25" y="158.38" width="1.6" height="0.7" fill="#222" fill-opacity="0.35"/>
<rect x="250.25" y="131.91" width="1.6" height="0.7" fill="#222" fill-opacity="0.35"/>
<rect x="250.25" y="105.44" width="1.6" height="0.7" fill="#222" fill-opacity="0.35"/>
<rect x="250.25" y="78.97" width="1.6" height="0.7" fill="#222" fill-opacity="0.35"/>
<rect x="250.25" y="52.50" width="1.6" height="0.7" fill="#222" fill-opacity="0.35"/>
<rect x="250.25" y="26.03" width="1.6" height="0.7" fill="#222" fill-opacity="0.35"/>
<linearGradient id="r14" x1="0" y1="0" x2="0" y2="1">
<stop offset="0.0000" stop-color="#05288c"/><stop offset="0.0147" stop-color="#05288c"/>
<stop offset="0.0147" stop-color="#045091"/><stop offset="0.0294" stop-color="#045091"/>
<stop offset="0.0294" stop-color="#03719b"/><stop offset="0.0441" stop-color="#03719b"/>
<stop offset="0.0441" stop-color="#0377a2"/><stop offset="0.0588" stop-color="#0377a2"/>
<stop offset="0.0588" stop-color="#0376a1"/><stop offset="0.0735" stop-color="#0376a1"/>
<stop offset="0.0735" stop-color="#03729b"/><stop offset="0.0882" stop-color="#03729b"/>
<stop offset="0.0882" stop-color="#03749d"/><stop offset="0.1029" stop-color="#03749d"/>
<stop offset="0.1029" stop-color="#036e95"/><stop offset="0.1176" stop-color="#036e95"/>
<stop offset="0.1176" stop-color="#03769e"/><stop offset="0.1324" stop-color="#03769e"/>
<stop offset="0.1324" stop-color="#0379a2"/><stop offset="0.1471" stop-color="#0379a2"/>
<stop offset="0.1471" stop-color="#037298"/><stop offset="0.1618" stop-color="#037298"/>
<stop offset="0.1618" stop-color="#037ba5"/><stop offset="0.1765" stop-color="#037ba5"/>
<stop offset="0.1765" stop-color="#037096"/><stop offset="0.1912" stop-color="#037096"/>
<stop offset="0.1912" stop-color="#037aa3"/><stop offset="0.2059" stop-color="#037aa3"/>
<stop offset="0.2059" stop-color="#037297"/><stop offset="0.2206" stop-color="#037297"/>
<stop offset="0.2206" stop-color="#037499"/><stop offset="0.2353" stop-color="#037499"/>
<stop offset="0.2353" stop-color="#037499"/><stop offset="0.2500" stop-color="#037499"/>
<stop offset="0.2500" stop-color="#037398"/><stop offset="0.2647" stop-color="#037398"/>
<stop offset="0.2647" stop-color="#037499"/><stop offset="0.2794" stop-color="#037499"/>
<stop offset="0.2794" stop-color="#03789d"/><stop offset="0.2941" stop-color="#03789d"/>
<stop offset="0.2941" stop-color="#037498"/><stop offset="0.3088" stop-color="#037498"/>
<stop offset="0.3088" stop-color="#037396"/><stop offset="0.3235" stop-color="#037396"/>
<stop offset="0.3235" stop-color="#037598"/><stop offset="0.3382" stop-color="#037598"/>
<stop offset="0.3382" stop-color="#037ca1"/><stop offset="0.3529" stop-color="#037ca1"/>
<stop offset="0.3529" stop-color="#037495"/><stop offset="0.3676" stop-color="#037495"/>
<stop offset="0.3676" stop-color="#037395"/><stop offset="0.3824" stop-color="#037395"/>
<stop offset="0.3824" stop-color="#037c9f"/><stop offset="0.3971" stop-color="#037c9f"/>
<stop offset="0.3971" stop-color="#037ea2"/><stop offset="0.4118" stop-color="#037ea2"/>
<stop offset="0.4118" stop-color="#037b9d"/><stop offset="0.4265" stop-color="#037b9d"/>
<stop offset="0.4265" stop-color="#037b9d"/><stop offset="0.4412" stop-color="#037b9d"/>
<stop offset="0.4412" stop-color="#037899"/><stop offset="0.4559" stop-color="#037899"/>
<stop offset="0.4559" stop-color="#037b9e"/><stop offset="0.4706" stop-color="#037b9e"/>
<stop offset="0.4706" stop-color="#037698"/><stop offset="0.4853" stop-color="#037698"/>
<stop offset="0.4853" stop-color="#037799"/><stop offset="0.5000" stop-color="#037799"/>
<stop offset="0.5000" stop-color="#037ea4"/><stop offset="0.5147" stop-color="#037ea4"/>
<stop offset="0.5147" stop-color="#037fa5"/><stop offset="0.5294" stop-color="#037fa5"/>
<stop offset="0.5294" stop-color="#037295"/><stop offset="0.5441" stop-color="#037295"/>
<stop offset="0.5441" stop-color="#037599"/><stop offset="0.5588" stop-color="#037599"/>
<stop offset="0.5588" stop-color="#037093"/><stop offset="0.5735" stop-color="#037093"/>
<stop offset="0.5735" stop-color="#037da4"/><stop offset="0.5882" stop-color="#037da4"/>
<stop offset="0.5882" stop-color="#037ca3"/><stop offset="0.6029" stop-color="#037ca3"/>
<stop offset="0.6029" stop-color="#037297"/><stop offset="0.6176" stop-color="#037297"/>
<stop offset="0.6176" stop-color="#037ca5"/><stop offset="0.6324" stop-color="#037ca5"/>
<stop offset="0.6324" stop-color="#0378a0"/><stop offset="0.6471" stop-color="#0378a0"/>
<stop offset="0.6471" stop-color="#037197"/><stop offset="0.6618" stop-color="#037197"/>
<stop offset="0.6618" stop-color="#037aa3"/><stop offset="0.6765" stop-color="#037aa3"/>
<stop offset="0.6765" stop-color="#0377a0"/><stop offset="0.6912" stop-color="#0377a0"/>
<stop offset="0.6912" stop-color="#0379a3"/><stop offset="0.7059" stop-color="#0379a3"/>
<stop offset="0.7059" stop-color="#036e94"/><stop offset="0.7206" stop-color="#036e94"/>
<stop offset="0.7206" stop-color="#0378a5"/><stop offset="0.7353" stop-color="#0378a5"/>
<stop offset="0.7353" stop-color="#0473a5"/><stop offset="0.7500" stop-color="#0473a5"/>
<stop offset="0.7500" stop-color="#046ea6"/><stop offset="0.7647" stop-color="#046ea6"/>
<stop offset="0.7647" stop-color="#05619a"/><stop offset="0.7794" stop-color="#05619a"/>
<stop offset="0.7794" stop-color="#0563a5"/><stop offset="0.7941" stop-color="#0563a5"/>
<stop offset="0.7941" stop-color="#05599a"/><stop offset="0.8088" stop-color="#05599a"/>
<stop offset="0.8088" stop-color="#05579e"/><stop offset="0.8235" stop-color="#05579e"/>
<stop offset="0.8235" stop-color="#055097"/><stop offset="0.8382" stop-color="#055097"/>
<stop offset="0.8382" stop-color="#06509e"/><stop offset="0.8529" stop-color="#06509e"/>
<stop offset="0.8529" stop-color="#064a98"/><stop offset="0.8676" stop-color="#064a98"/>
<stop offset="0.8676" stop-color="#0650a7"/><stop offset="0.8824" stop-color="#0650a7"/>
<stop offset="0.8824" stop-color="#064695"/><stop offset="0.8971" stop-color="#064695"/>
<stop offset="0.8971" stop-color="#064ca4"/><stop offset="0.9118" stop-color="#064ca4"/>
<stop offset="0.9118" stop-color="#0649a0"/><stop offset="0.9265" stop-color="#0649a0"/>
<stop offset="0.9265" stop-color="#06479e"/><stop offset="0.9412" stop-color="#06479e"/>
<stop offset="0.9412" stop-color="#064399"/><stop offset="0.9559" stop-color="#064399"/>
<stop offset="0.9559" stop-color="#064095"/><stop offset="0.9706" stop-color="#064095"/>
<stop offset="0.9706" stop-color="#0644a1"/><stop offset="0.9853" stop-color="#0644a1"/>
<stop offset="0.9853" stop-color="#063d94"/><stop offset="1.0000" stop-color="#063d94"/>
</linearGradient>
<rect x="309.70" y="15.85" width="198.70" height="171.40" fill="url(#r14)"/>
<rect x="309.70" y="28.45" width="198.70" height="1.51" fill="#000020" fill-opacity="0.07"/>
<rect x="309.70" y="99.03" width="198.70" height="1.51" fill="#000020" fill-opacity="0.10"/>
<rect x="309.70" y="38.54" width="198.70" height="1.51" fill="#000020" fill-opacity="0.07"/>
<rect x="309.70" y="71.30" width="198.70" height="1.51" fill="#000020" fill-opacity="0.09"/>
<rect x="309.70" y="177.17" width="198.70" height="1.51" fill="#000020" fill-opacity="0.11"/>
<rect x="309.70" y="139.36" width="198.70" height="1.51" fill="#000020" fill-opacity="0.06"/>
<rect x="309.70" y="174.65" width="198.70" height="1.51" fill="#000020" fill-opacity="0.07"/>
<rect x="309.70" y="126.76" width="198.70" height="1.51" fill="#000020" fill-opacity="0.14"/>
<rect x="309.70" y="146.92" width="198.70" height="1.51" fill="#000020" fill-opacity="0.09"/>
<rect x="309.70" y="48.62" width="198.70" height="1.51" fill="#000020" fill-opacity="0.14"/>
<linearGradient id="b15" gradientUnits="userSpaceOnUse" x1="309.70" y1="0" x2="508.20" y2="0"><stop offset="0.0000" stop-color="#14a0aa" stop-opacity="0.00"/><stop offset="0.1461" stop-color="#14a0aa" stop-opacity="0.10"/><stop offset="0.8514" stop-color="#14a0aa" stop-opacity="0.12"/><stop offset="1.0000" stop-color="#14aaaa" stop-opacity="0.25"/></linearGradient>
<rect x="309.70" y="25.90" width="198.50" height="3.20" fill="url(#b15)" fill-opacity="0.55"/>
<rect x="309.70" y="26.70" width="198.50" height="1.60" fill="url(#b15)" fill-opacity="0.8"/>
<linearGradient id="b16" gradientUnits="userSpaceOnUse" x1="309.70" y1="0" x2="338.70" y2="0"><stop offset="0.0000" stop-color="#28aa96" stop-opacity="0.30"/><stop offset="1.0000" stop-color="#28aa96" stop-opacity="0.00"/></linearGradient>
<rect x="309.70" y="41.40" width="29.00" height="3.20" fill="url(#b16)" fill-opacity="0.55"/>
<rect x="309.70" y="42.20" width="29.00" height="1.60" fill="url(#b16)" fill-opacity="0.8"/>
<linearGradient id="b17" gradientUnits="userSpaceOnUse" x1="354.70" y1="0" x2="394.70" y2="0"><stop offset="0.0000" stop-color="#3caa78" stop-opacity="0.00"/><stop offset="0.2000" stop-color="#64b45a" stop-opacity="0.30"/><stop offset="0.4000" stop-color="#8cbe46" stop-opacity="0.50"/><stop offset="0.7000" stop-color="#8cbe46" stop-opacity="0.50"/><stop offset="0.8500" stop-color="#5ab464" stop-opacity="0.30"/><stop offset="1.0000" stop-color="#3caa78" stop-opacity="0.00"/></linearGradient>
<rect x="354.70" y="49.40" width="40.00" height="3.20" fill="url(#b17)" fill-opacity="0.55"/>
<rect x="354.70" y="50.20" width="40.00" height="1.60" fill="url(#b17)" fill-opacity="0.8"/>
<linearGradient id="b18" gradientUnits="userSpaceOnUse" x1="309.70" y1="0" x2="333.70" y2="0"><stop offset="0.0000" stop-color="#28af96" stop-opacity="0.70"/><stop offset="0.3750" stop-color="#28af96" stop-opacity="0.50"/><stop offset="1.0000" stop-color="#28af96" stop-opacity="0.00"/></linearGradient>
<rect x="309.70" y="81.00" width="24.00" height="3.60" fill="url(#b18)" fill-opacity="0.55"/>
<rect x="309.70" y="81.90" width="24.00" height="1.80" fill="url(#b18)" fill-opacity="0.8"/>
<linearGradient id="b19" gradientUnits="userSpaceOnUse" x1="309.70" y1="0" x2="508.20" y2="0"><stop offset="0.0000" stop-color="#1eaaa0" stop-opacity="0.55"/><stop offset="0.1259" stop-color="#1eaaa0" stop-opacity="0.40"/><stop offset="0.8866" stop-color="#1eaaa0" stop-opacity="0.40"/><stop offset="1.0000" stop-color="#1eaaa0" stop-opacity="0.50"/></linearGradient>
<rect x="309.70" y="102.00" width="198.50" height="4.40" fill="url(#b19)" fill-opacity="0.55"/>
<rect x="309.70" y="103.10" width="198.50" height="2.20" fill="url(#b19)" fill-opacity="0.8"/>
<linearGradient id="b20" gradientUnits="userSpaceOnUse" x1="309.70" y1="0" x2="416.70" y2="0"><stop offset="0.0000" stop-color="#32b996" stop-opacity="0.55"/><stop offset="0.1776" stop-color="#32b996" stop-opacity="0.40"/><stop offset="0.5514" stop-color="#28af96" stop-opacity="0.22"/><stop offset="0.9252" stop-color="#28af96" stop-opacity="0.10"/><stop offset="1.0000" stop-color="#28af96" stop-opacity="0.00"/></linearGradient>
<rect x="309.70" y="139.20" width="107.00" height="3.60" fill="url(#b20)" fill-opacity="0.55"/>
<rect x="309.70" y="140.10" width="107.00" height="1.80" fill="url(#b20)" fill-opacity="0.8"/>
<linearGradient id="b21" gradientUnits="userSpaceOnUse" x1="406.70" y1="0" x2="508.40" y2="0"><stop offset="0.0000" stop-color="#28af96" stop-opacity="0.00"/><stop offset="0.1180" stop-color="#28af96" stop-opacity="0.20"/><stop offset="0.4621" stop-color="#32b996" stop-opacity="0.35"/><stop offset="0.8555" stop-color="#32b996" stop-opacity="0.35"/><stop offset="1.0000" stop-color="#28af96" stop-opacity="0.20"/></linearGradient>
<rect x="406.70" y="137.60" width="101.70" height="3.60" fill="url(#b21)" fill-opacity="0.55"/>
<rect x="406.70" y="138.50" width="101.70" height="1.80" fill="url(#b21)" fill-opacity="0.8"/>
<rect x="309.70" y="15.85" width="1.03" height="171.40" fill="#053054" fill-opacity="0.62"/>
<rect x="312.15" y="15.85" width="1.03" height="171.40" fill="#053054" fill-opacity="0.68"/>
<rect x="314.61" y="15.85" width="1.03" height="171.40" fill="#053054" fill-opacity="0.66"/>
<rect x="317.06" y="15.85" width="1.03" height="171.40" fill="#053054" fill-opacity="0.80"/>
<rect x="319.51" y="15.85" width="1.03" height="171.40" fill="#053054" fill-opacity="0.67"/>
<rect x="321.97" y="15.85" width="1.03" height="171.40" fill="#053054" fill-opacity="0.65"/>
<rect x="324.42" y="15.85" width="1.03" height="171.40" fill="#053054" fill-opacity="0.84"/>
<rect x="326.87" y="15.85" width="1.03" height="171.40" fill="#053054" fill-opacity="0.80"/>
<rect x="329.32" y="15.85" width="1.03" height="171.40" fill="#053054" fill-opacity="0.73"/>
<rect x="331.78" y="15.85" width="1.03" height="171.40" fill="#053054" fill-opacity="0.79"/>
<rect x="334.23" y="15.85" width="1.03" height="171.40" fill="#053054" fill-opacity="0.85"/>
<rect x="336.68" y="15.85" width="1.03" height="171.40" fill="#053054" fill-opacity="0.79"/>
<rect x="339.14" y="15.85" width="1.03" height="171.40" fill="#053054" fill-opacity="0.83"/>
<rect x="341.59" y="15.85" width="1.03" height="171.40" fill="#053054" fill-opacity="0.66"/>
<rect x="344.04" y="15.85" width="1.03" height="171.40" fill="#053054" fill-opacity="0.79"/>
<rect x="346.50" y="15.85" width="1.03" height="171.40" fill="#053054" fill-opacity="0.62"/>
<rect x="348.95" y="15.85" width="1.03" height="171.40" fill="#053054" fill-opacity="0.84"/>
<rect x="351.40" y="15.85" width="1.03" height="171.40" fill="#053054" fill-opacity="0.85"/>
<rect x="353.86" y="15.85" width="1.03" height="171.40" fill="#053054" fill-opacity="0.78"/>
<rect x="356.31" y="15.85" width="1.03" height="171.40" fill="#053054" fill-opacity="0.78"/>
<rect x="358.76" y="15.85" width="1.03" height="171.40" fill="#053054" fill-opacity="0.67"/>
<rect x="361.21" y="15.85" width="1.03" height="171.40" fill="#053054" fill-opacity="0.83"/>
<rect x="363.67" y="15.85" width="1.03" height="171.40" fill="#053054" fill-opacity="0.78"/>
<rect x="366.12" y="15.85" width="1.03" height="171.40" fill="#053054" fill-opacity="0.86"/>
<rect x="368.57" y="15.85" width="1.03" height="171.40" fill="#053054" fill-opacity="0.85"/>
<rect x="371.03" y="15.85" width="1.03" height="171.40" fill="#053054" fill-opacity="0.66"/>
<rect x="373.48" y="15.85" width="1.03" height="171.40" fill="#053054" fill-opacity="0.72"/>
<rect x="375.93" y="15.85" width="1.03" height="171.40" fill="#053054" fill-opacity="0.62"/>
<rect x="378.39" y="15.85" width="1.03" height="171.40" fill="#053054" fill-opacity="0.80"/>
<rect x="380.84" y="15.85" width="1.03" height="171.40" fill="#053054" fill-opacity="0.63"/>
<rect x="383.29" y="15.85" width="1.03" height="171.40" fill="#053054" fill-opacity="0.73"/>
<rect x="385.75" y="15.85" width="1.03" height="171.40" fill="#053054" fill-opacity="0.64"/>
<rect x="388.20" y="15.85" width="1.03" height="171.40" fill="#053054" fill-opacity="0.76"/>
<rect x="390.65" y="15.85" width="1.03" height="171.40" fill="#053054" fill-opacity="0.67"/>
<rect x="393.10" y="15.85" width="1.03" height="171.40" fill="#053054" fill-opacity="0.65"/>
<rect x="395.56" y="15.85" width="1.03" height="171.40" fill="#053054" fill-opacity="0.71"/>
<rect x="398.01" y="15.85" width="1.03" height="171.40" fill="#053054" fill-opacity="0.65"/>
<rect x="400.46" y="15.85" width="1.03" height="171.40" fill="#053054" fill-opacity="0.78"/>
<rect x="402.92" y="15.85" width="1.03" height="171.40" fill="#053054" fill-opacity="0.67"/>
<rect x="405.37" y="15.85" width="1.03" height="171.40" fill="#053054" fill-opacity="0.82"/>
<rect x="407.82" y="15.85" width="1.03" height="171.40" fill="#053054" fill-opacity="0.64"/>
<rect x="410.28" y="15.85" width="1.03" height="171.40" fill="#053054" fill-opacity="0.66"/>
<rect x="412.73" y="15.85" width="1.03" height="171.40" fill="#053054" fill-opacity="0.72"/>
<rect x="415.18" y="15.85" width="1.03" height="171.40" fill="#053054" fill-opacity="0.85"/>
<rect x="417.64" y="15.85" width="1.03" height="171.40" fill="#053054" fill-opacity="0.85"/>
<rect x="420.09" y="15.85" width="1.03" height="171.40" fill="#053054" fill-opacity="0.64"/>
<rect x="422.54" y="15.85" width="1.03" height="171.40" fill="#053054" fill-opacity="0.75"/>
<rect x="425.00" y="15.85" width="1.03" height="171.40" fill="#053054" fill-opacity="0.79"/>
<rect x="427.45" y="15.85" width="1.03" height="171.40" fill="#053054" fill-opacity="0.74"/>
<rect x="429.90" y="15.85" width="1.03" height="171.40" fill="#053054" fill-opacity="0.72"/>
<rect x="432.35" y="15.85" width="1.03" height="171.40" fill="#053054" fill-opacity="0.85"/>
<rect x="434.81" y="15.85" width="1.03" height="171.40" fill="#053054" fill-opacity="0.63"/>
<rect x="437.26" y="15.85" width="1.03" height="171.40" fill="#053054" fill-opacity="0.77"/>
<rect x="439.71" y="15.85" width="1.03" height="171.40" fill="#053054" fill-opacity="0.63"/>
<rect x="442.17" y="15.85" width="1.03" height="171.40" fill="#053054" fill-opacity="0.84"/>
<rect x="444.62" y="15.85" width="1.03" height="171.40" fill="#053054" fill-opacity="0.84"/>
<rect x="447.07" y="15.85" width="1.03" height="171.40" fill="#053054" fill-opacity="0.82"/>
<rect x="449.53" y="15.85" width="1.03" height="171.40" fill="#053054" fill-opacity="0.72"/>
<rect x="451.98" y="15.85" width="1.03" height="171.40" fill="#053054" fill-opacity="0.69"/>
<rect x="454.43" y="15.85" width="1.03" height="171.40" fill="#053054" fill-opacity="0.74"/>
<rect x="456.89" y="15.85" width="1.03" height="171.40" fill="#053054" fill-opacity="0.74"/>
<rect x="459.34" y="15.85" width="1.03" height="171.40" fill="#053054" fill-opacity="0.72"/>
<rect x="461.79" y="15.85" width="1.03" height="171.40" fill="#053054" fill-opacity="0.71"/>
<rect x="464.24" y="15.85" width="1.03" height="171.40" fill="#053054" fill-opacity="0.82"/>
<rect x="466.70" y="15.85" width="1.03" height="171.40" fill="#053054" fill-opacity="0.66"/>
<rect x="469.15" y="15.85" width="1.03" height="171.40" fill="#053054" fill-opacity="0.69"/>
<rect x="471.60" y="15.85" width="1.03" height="171.40" fill="#053054" fill-opacity="0.68"/>
<rect x="474.06" y="15.85" width="1.03" height="171.40" fill="#053054" fill-opacity="0.72"/>
<rect x="476.51" y="15.85" width="1.03" height="171.40" fill="#053054" fill-opacity="0.72"/>
<rect x="478.96" y="15.85" width="1.03" height="171.40" fill="#053054" fill-opacity="0.77"/>
<rect x="481.42" y="15.85" width="1.03" height="171.40" fill="#053054" fill-opacity="0.72"/>
<rect x="483.87" y="15.85" width="1.03" height="171.40" fill="#053054" fill-opacity="0.85"/>
<rect x="486.32" y="15.85" width="1.03" height="171.40" fill="#053054" fill-opacity="0.77"/>
<rect x="488.78" y="15.85" width="1.03" height="171.40" fill="#053054" fill-opacity="0.68"/>
<rect x="491.23" y="15.85" width="1.03" height="171.40" fill="#053054" fill-opacity="0.86"/>
<rect x="493.68" y="15.85" width="1.03" height="171.40" fill="#053054" fill-opacity="0.76"/>
<rect x="496.13" y="15.85" width="1.03" height="171.40" fill="#053054" fill-opacity="0.83"/>
<rect x="498.59" y="15.85" width="1.03" height="171.40" fill="#053054" fill-opacity="0.68"/>
<rect x="501.04" y="15.85" width="1.03" height="171.40" fill="#053054" fill-opacity="0.70"/>
<rect x="503.49" y="15.85" width="1.03" height="171.40" fill="#053054" fill-opacity="0.73"/>
<rect x="505.95" y="15.85" width="1.03" height="171.40" fill="#053054" fill-opacity="0.77"/>
<g transform="translate(309.700,15.850) scale(2.45309,2.52059)">
<path fill="#30c0c0" fill-opacity="0.10" d="M2 2h1v1h-1zM67 2h1v1h-1zM31 3h1v1h-1zM32 3h1v1h-1zM58 3h1v1h-1zM55 4h1v1h-1zM8 5h1v1h-1zM13 5h1v1h-1zM17 5h1v1h-1zM18 5h1v1h-1zM27 5h1v1h-1zM37 5h1v1h-1zM39 5h1v1h-1zM22 7h1v1h-1zM2 8h1v1h-1zM3 8h1v1h-1zM6 8h1v1h-1zM14 8h1v1h-1zM17 8h1v1h-1zM12 9h1v1h-1zM18 9h1v1h-1zM28 9h1v1h-1zM61 9h1v1h-1zM38 10h1v1h-1zM39 10h1v1h-1zM40 10h1v1h-1zM41 10h1v1h-1zM42 10h1v1h-1zM55 10h1v1h-1zM49 11h1v1h-1zM51 11h1v1h-1zM25 12h1v1h-1zM52 12h1v1h-1zM4 13h1v1h-1zM30 13h1v1h-1zM32 13h1v1h-1zM33 13h1v1h-1zM35 13h1v1h-1zM32 14h1v1h-1zM35 14h1v1h-1zM3 15h1v1h-1zM23 15h1v1h-1zM24 15h1v1h-1zM25 15h1v1h-1zM26 15h1v1h-1zM39 15h1v1h-1zM8 16h1v1h-1zM10 16h1v1h-1zM39 16h1v1h-1zM52 16h1v1h-1zM14 17h1v1h-1zM41 17h1v1h-1zM43 17h1v1h-1zM48 17h1v1h-1zM49 17h1v1h-1zM50 17h1v1h-1zM52 17h1v1h-1zM53 17h1v1h-1zM55 17h1v1h-1zM12 18h1v1h-1zM13 18h1v1h-1zM14 18h1v1h-1zM15 18h1v1h-1zM25 18h1v1h-1zM33 18h1v1h-1zM34 18h1v1h-1zM4 19h1v1h-1zM20 19h1v1h-1zM21 19h1v1h-1zM30 19h1v1h-1zM16 20h1v1h-1zM42 20h1v1h-1zM43 20h1v1h-1zM45 20h1v1h-1zM46 20h1v1h-1zM47 20h1v1h-1zM48 20h1v1h-1zM49 20h1v1h-1zM53 20h1v1h-1zM55 20h1v1h-1zM65 20h1v1h-1zM6 21h1v1h-1zM7 21h1v1h-1zM8 21h1v1h-1zM10 21h1v1h-1zM11 21h1v1h-1zM34 21h1v1h-1zM35 21h1v1h-1zM36 21h1v1h-1zM38 21h1v1h-1zM39 21h1v1h-1zM40 21h1v1h-1zM41 21h1v1h-1zM43 21h1v1h-1zM44 21h1v1h-1zM46 21h1v1h-1zM50 21h1v1h-1zM52 21h1v1h-1zM79 21h1v1h-1zM80 21h1v1h-1zM4 22h1v1h-1zM5 22h1v1h-1zM6 22h1v1h-1zM7 22h1v1h-1zM21 22h1v1h-1zM24 22h1v1h-1zM26 22h1v1h-1zM28 22h1v1h-1zM29 22h1v1h-1zM79 22h1v1h-1zM7 23h1v1h-1zM35 23h1v1h-1zM36 23h1v1h-1zM37 23h1v1h-1zM71 23h1v1h-1zM0 24h1v1h-1zM1 24h1v1h-1zM4 24h1v1h-1zM6 24h1v1h-1zM7 24h1v1h-1zM8 24h1v1h-1zM9 24h1v1h-1zM43 24h1v1h-1zM44 24h1v1h-1zM46 24h1v1h-1zM47 24h1v1h-1zM48 24h1v1h-1zM51 24h1v1h-1zM52 24h1v1h-1zM42 25h1v1h-1zM43 25h1v1h-1zM56 25h1v1h-1zM65 25h1v1h-1zM0 26h1v1h-1zM1 26h1v1h-1zM2 26h1v1h-1zM3 26h1v1h-1zM5 26h1v1h-1zM7 26h1v1h-1zM19 26h1v1h-1zM21 26h1v1h-1zM26 27h1v1h-1zM27 27h1v1h-1zM28 27h1v1h-1zM30 27h1v1h-1zM39 27h1v1h-1zM44 27h1v1h-1zM45 27h1v1h-1zM70 27h1v1h-1zM71 27h1v1h-1zM72 27h1v1h-1zM0 28h1v1h-1zM50 28h1v1h-1zM64 28h1v1h-1zM65 28h1v1h-1zM67 28h1v1h-1zM72 28h1v1h-1zM25 29h1v1h-1zM26 29h1v1h-1zM64 29h1v1h-1zM75 29h1v1h-1zM76 29h1v1h-1zM3 30h1v1h-1zM18 30h1v1h-1zM20 30h1v1h-1zM25 30h1v1h-1zM30 30h1v1h-1zM31 30h1v1h-1zM32 30h1v1h-1zM50 30h1v1h-1zM51 30h1v1h-1zM75 30h1v1h-1zM21 31h1v1h-1zM67 31h1v1h-1zM45 32h1v1h-1zM50 32h1v1h-1zM53 32h1v1h-1zM57 32h1v1h-1zM77 32h1v1h-1zM78 32h1v1h-1zM79 32h1v1h-1zM80 32h1v1h-1zM5 33h1v1h-1zM9 33h1v1h-1zM18 33h1v1h-1zM44 33h1v1h-1zM3 34h1v1h-1zM14 34h1v1h-1zM32 34h1v1h-1zM33 34h1v1h-1zM50 34h1v1h-1zM59 34h1v1h-1zM0 35h1v1h-1zM1 35h1v1h-1zM25 35h1v1h-1zM26 35h1v1h-1zM28 35h1v1h-1zM44 35h1v1h-1zM8 36h1v1h-1zM9 36h1v1h-1zM10 36h1v1h-1zM11 36h1v1h-1zM47 36h1v1h-1zM50 36h1v1h-1zM51 36h1v1h-1zM52 36h1v1h-1zM75 36h1v1h-1zM2 37h1v1h-1zM10 37h1v1h-1zM12 37h1v1h-1zM13 37h1v1h-1zM21 37h1v1h-1zM22 37h1v1h-1zM24 37h1v1h-1zM25 37h1v1h-1zM28 37h1v1h-1zM48 37h1v1h-1zM49 37h1v1h-1zM54 37h1v1h-1zM31 38h1v1h-1zM72 38h1v1h-1zM74 38h1v1h-1zM76 38h1v1h-1zM26 39h1v1h-1zM80 40h1v1h-1zM8 41h1v1h-1zM22 41h1v1h-1zM73 41h1v1h-1zM76 42h1v1h-1zM78 42h1v1h-1zM79 42h1v1h-1zM18 43h1v1h-1zM19 43h1v1h-1zM31 43h1v1h-1zM33 43h1v1h-1zM34 43h1v1h-1zM36 43h1v1h-1zM37 43h1v1h-1zM25 44h1v1h-1zM26 44h1v1h-1zM27 44h1v1h-1zM34 44h1v1h-1zM56 44h1v1h-1zM57 44h1v1h-1zM59 44h1v1h-1zM7 46h1v1h-1zM8 46h1v1h-1zM11 46h1v1h-1zM14 46h1v1h-1zM15 46h1v1h-1zM27 46h1v1h-1zM30 46h1v1h-1zM6 47h1v1h-1zM35 47h1v1h-1zM36 47h1v1h-1zM55 47h1v1h-1zM56 47h1v1h-1zM57 47h1v1h-1zM58 47h1v1h-1zM59 47h1v1h-1zM80 47h1v1h-1zM45 48h1v1h-1zM9 49h1v1h-1zM13 49h1v1h-1zM36 49h1v1h-1zM37 49h1v1h-1zM40 49h1v1h-1zM41 49h1v1h-1zM63 49h1v1h-1zM74 49h1v1h-1zM9 50h1v1h-1zM25 50h1v1h-1zM26 50h1v1h-1zM27 50h1v1h-1zM28 50h1v1h-1zM29 50h1v1h-1zM35 50h1v1h-1zM36 50h1v1h-1zM37 50h1v1h-1zM38 50h1v1h-1zM39 50h1v1h-1zM40 50h1v1h-1zM41 50h1v1h-1zM71 50h1v1h-1zM73 50h1v1h-1zM4 51h1v1h-1zM5 51h1v1h-1zM7 51h1v1h-1zM8 51h1v1h-1zM9 51h1v1h-1zM23 51h1v1h-1zM24 51h1v1h-1zM21 52h1v1h-1zM22 52h1v1h-1zM24 52h1v1h-1zM25 52h1v1h-1zM30 52h1v1h-1zM7 53h1v1h-1zM10 53h1v1h-1zM80 55h1v1h-1z"/>
<path fill="#30c0c0" fill-opacity="0.04" d="M8 1h1v1h-1zM48 1h1v1h-1zM1 2h1v1h-1zM3 2h1v1h-1zM10 2h1v1h-1zM21 2h1v1h-1zM23 2h1v1h-1zM25 2h1v1h-1zM56 2h1v1h-1zM59 2h1v1h-1zM60 2h1v1h-1zM62 2h1v1h-1zM63 2h1v1h-1zM64 2h1v1h-1zM65 2h1v1h-1zM66 2h1v1h-1zM68 2h1v1h-1zM0 3h1v1h-1zM8 3h1v1h-1zM29 3h1v1h-1zM30 3h1v1h-1zM33 3h1v1h-1zM34 3h1v1h-1zM35 3h1v1h-1zM36 3h1v1h-1zM38 3h1v1h-1zM60 3h1v1h-1zM66 3h1v1h-1zM71 3h1v1h-1zM73 3h1v1h-1zM75 3h1v1h-1zM9 4h1v1h-1zM11 4h1v1h-1zM21 4h1v1h-1zM33 4h1v1h-1zM41 4h1v1h-1zM42 4h1v1h-1zM44 4h1v1h-1zM45 4h1v1h-1zM54 4h1v1h-1zM71 4h1v1h-1zM72 4h1v1h-1zM73 4h1v1h-1zM74 4h1v1h-1zM76 4h1v1h-1zM7 5h1v1h-1zM9 5h1v1h-1zM16 5h1v1h-1zM22 5h1v1h-1zM23 5h1v1h-1zM25 5h1v1h-1zM26 5h1v1h-1zM38 5h1v1h-1zM41 5h1v1h-1zM44 5h1v1h-1zM46 5h1v1h-1zM48 5h1v1h-1zM49 5h1v1h-1zM57 5h1v1h-1zM58 5h1v1h-1zM59 5h1v1h-1zM77 5h1v1h-1zM15 6h1v1h-1zM20 6h1v1h-1zM21 6h1v1h-1zM23 6h1v1h-1zM31 6h1v1h-1zM33 6h1v1h-1zM34 6h1v1h-1zM46 6h1v1h-1zM67 6h1v1h-1zM1 7h1v1h-1zM3 7h1v1h-1zM27 7h1v1h-1zM28 7h1v1h-1zM38 7h1v1h-1zM40 7h1v1h-1zM41 7h1v1h-1zM42 7h1v1h-1zM44 7h1v1h-1zM45 7h1v1h-1zM46 7h1v1h-1zM47 7h1v1h-1zM51 7h1v1h-1zM56 7h1v1h-1zM69 7h1v1h-1zM75 7h1v1h-1zM4 8h1v1h-1zM5 8h1v1h-1zM7 8h1v1h-1zM8 8h1v1h-1zM9 8h1v1h-1zM11 8h1v1h-1zM13 8h1v1h-1zM18 8h1v1h-1zM19 8h1v1h-1zM20 8h1v1h-1zM21 8h1v1h-1zM22 8h1v1h-1zM23 8h1v1h-1zM26 8h1v1h-1zM27 8h1v1h-1zM30 8h1v1h-1zM40 8h1v1h-1zM51 8h1v1h-1zM52 8h1v1h-1zM60 8h1v1h-1zM71 8h1v1h-1zM73 8h1v1h-1zM76 8h1v1h-1zM1 9h1v1h-1zM2 9h1v1h-1zM5 9h1v1h-1zM6 9h1v1h-1zM7 9h1v1h-1zM9 9h1v1h-1zM11 9h1v1h-1zM16 9h1v1h-1zM19 9h1v1h-1zM20 9h1v1h-1zM29 9h1v1h-1zM30 9h1v1h-1zM31 9h1v1h-1zM32 9h1v1h-1zM33 9h1v1h-1zM40 9h1v1h-1zM54 9h1v1h-1zM60 9h1v1h-1zM65 9h1v1h-1zM74 9h1v1h-1zM76 9h1v1h-1zM77 9h1v1h-1zM4 10h1v1h-1zM5 10h1v1h-1zM6 10h1v1h-1zM26 10h1v1h-1zM35 10h1v1h-1zM36 10h1v1h-1zM37 10h1v1h-1zM46 10h1v1h-1zM47 10h1v1h-1zM58 10h1v1h-1zM59 10h1v1h-1zM77 10h1v1h-1zM0 11h1v1h-1zM2 11h1v1h-1zM3 11h1v1h-1zM7 11h1v1h-1zM15 11h1v1h-1zM16 11h1v1h-1zM41 11h1v1h-1zM43 11h1v1h-1zM47 11h1v1h-1zM48 11h1v1h-1zM50 11h1v1h-1zM52 11h1v1h-1zM53 11h1v1h-1zM54 11h1v1h-1zM70 11h1v1h-1zM71 11h1v1h-1zM73 11h1v1h-1zM74 11h1v1h-1zM75 11h1v1h-1zM76 11h1v1h-1zM0 12h1v1h-1zM8 12h1v1h-1zM21 12h1v1h-1zM22 12h1v1h-1zM23 12h1v1h-1zM24 12h1v1h-1zM49 12h1v1h-1zM50 12h1v1h-1zM51 12h1v1h-1zM70 12h1v1h-1zM73 12h1v1h-1zM3 13h1v1h-1zM24 13h1v1h-1zM27 13h1v1h-1zM28 13h1v1h-1zM31 13h1v1h-1zM36 13h1v1h-1zM54 13h1v1h-1zM59 13h1v1h-1zM62 13h1v1h-1zM63 13h1v1h-1zM76 13h1v1h-1zM80 13h1v1h-1zM5 14h1v1h-1zM6 14h1v1h-1zM20 14h1v1h-1zM21 14h1v1h-1zM24 14h1v1h-1zM30 14h1v1h-1zM31 14h1v1h-1zM33 14h1v1h-1zM34 14h1v1h-1zM36 14h1v1h-1zM55 14h1v1h-1zM56 14h1v1h-1zM59 14h1v1h-1zM60 14h1v1h-1zM62 14h1v1h-1zM73 14h1v1h-1zM1 15h1v1h-1zM2 15h1v1h-1zM4 15h1v1h-1zM18 15h1v1h-1zM20 15h1v1h-1zM21 15h1v1h-1zM22 15h1v1h-1zM27 15h1v1h-1zM29 15h1v1h-1zM38 15h1v1h-1zM53 15h1v1h-1zM66 15h1v1h-1zM5 16h1v1h-1zM7 16h1v1h-1zM9 16h1v1h-1zM12 16h1v1h-1zM40 16h1v1h-1zM61 16h1v1h-1zM65 16h1v1h-1zM0 17h1v1h-1zM1 17h1v1h-1zM5 17h1v1h-1zM7 17h1v1h-1zM15 17h1v1h-1zM21 17h1v1h-1zM23 17h1v1h-1zM24 17h1v1h-1zM31 17h1v1h-1zM47 17h1v1h-1zM51 17h1v1h-1zM54 17h1v1h-1zM56 17h1v1h-1zM64 17h1v1h-1zM66 17h1v1h-1zM67 17h1v1h-1zM69 17h1v1h-1zM10 18h1v1h-1zM11 18h1v1h-1zM18 18h1v1h-1zM24 18h1v1h-1zM26 18h1v1h-1zM27 18h1v1h-1zM28 18h1v1h-1zM29 18h1v1h-1zM30 18h1v1h-1zM35 18h1v1h-1zM36 18h1v1h-1zM37 18h1v1h-1zM38 18h1v1h-1zM57 18h1v1h-1zM61 18h1v1h-1zM64 18h1v1h-1zM22 19h1v1h-1zM23 19h1v1h-1zM25 19h1v1h-1zM49 19h1v1h-1zM52 19h1v1h-1zM53 19h1v1h-1zM55 19h1v1h-1zM59 19h1v1h-1zM62 19h1v1h-1zM78 19h1v1h-1zM0 20h1v1h-1zM2 20h1v1h-1zM26 20h1v1h-1zM27 20h1v1h-1zM28 20h1v1h-1zM50 20h1v1h-1zM51 20h1v1h-1zM52 20h1v1h-1zM54 20h1v1h-1zM56 20h1v1h-1zM64 20h1v1h-1zM68 20h1v1h-1zM69 20h1v1h-1zM70 20h1v1h-1zM72 20h1v1h-1zM80 20h1v1h-1zM2 21h1v1h-1zM4 21h1v1h-1zM5 21h1v1h-1zM9 21h1v1h-1zM12 21h1v1h-1zM13 21h1v1h-1zM18 21h1v1h-1zM23 21h1v1h-1zM26 21h1v1h-1zM27 21h1v1h-1zM30 21h1v1h-1zM33 21h1v1h-1zM37 21h1v1h-1zM42 21h1v1h-1zM48 21h1v1h-1zM51 21h1v1h-1zM53 21h1v1h-1zM54 21h1v1h-1zM55 21h1v1h-1zM56 21h1v1h-1zM57 21h1v1h-1zM59 21h1v1h-1zM60 21h1v1h-1zM61 21h1v1h-1zM62 21h1v1h-1zM73 21h1v1h-1zM77 21h1v1h-1zM3 22h1v1h-1zM18 22h1v1h-1zM19 22h1v1h-1zM20 22h1v1h-1zM22 22h1v1h-1zM23 22h1v1h-1zM25 22h1v1h-1zM27 22h1v1h-1zM31 22h1v1h-1zM35 22h1v1h-1zM37 22h1v1h-1zM38 22h1v1h-1zM42 22h1v1h-1zM44 22h1v1h-1zM45 22h1v1h-1zM46 22h1v1h-1zM49 22h1v1h-1zM50 22h1v1h-1zM51 22h1v1h-1zM77 22h1v1h-1zM2 23h1v1h-1zM5 23h1v1h-1zM8 23h1v1h-1zM9 23h1v1h-1zM16 23h1v1h-1zM38 23h1v1h-1zM39 23h1v1h-1zM41 23h1v1h-1zM43 23h1v1h-1zM72 23h1v1h-1zM74 23h1v1h-1zM2 24h1v1h-1zM5 24h1v1h-1zM10 24h1v1h-1zM12 24h1v1h-1zM30 24h1v1h-1zM31 24h1v1h-1zM35 24h1v1h-1zM41 24h1v1h-1zM45 24h1v1h-1zM49 24h1v1h-1zM50 24h1v1h-1zM53 24h1v1h-1zM62 24h1v1h-1zM71 24h1v1h-1zM79 24h1v1h-1zM45 25h1v1h-1zM57 25h1v1h-1zM58 25h1v1h-1zM63 25h1v1h-1zM67 25h1v1h-1zM4 26h1v1h-1zM6 26h1v1h-1zM8 26h1v1h-1zM14 26h1v1h-1zM16 26h1v1h-1zM17 26h1v1h-1zM18 26h1v1h-1zM20 26h1v1h-1zM22 26h1v1h-1zM26 26h1v1h-1zM29 26h1v1h-1zM42 26h1v1h-1zM46 26h1v1h-1zM66 26h1v1h-1zM7 27h1v1h-1zM8 27h1v1h-1zM9 27h1v1h-1zM12 27h1v1h-1zM13 27h1v1h-1zM24 27h1v1h-1zM25 27h1v1h-1zM38 27h1v1h-1zM40 27h1v1h-1zM42 27h1v1h-1zM43 27h1v1h-1zM46 27h1v1h-1zM47 27h1v1h-1zM54 27h1v1h-1zM57 27h1v1h-1zM69 27h1v1h-1zM75 27h1v1h-1zM80 27h1v1h-1zM1 28h1v1h-1zM3 28h1v1h-1zM4 28h1v1h-1zM5 28h1v1h-1zM48 28h1v1h-1zM49 28h1v1h-1zM51 28h1v1h-1zM52 28h1v1h-1zM53 28h1v1h-1zM54 28h1v1h-1zM63 28h1v1h-1zM68 28h1v1h-1zM69 28h1v1h-1zM70 28h1v1h-1zM15 29h1v1h-1zM17 29h1v1h-1zM20 29h1v1h-1zM22 29h1v1h-1zM24 29h1v1h-1zM45 29h1v1h-1zM47 29h1v1h-1zM48 29h1v1h-1zM49 29h1v1h-1zM50 29h1v1h-1zM53 29h1v1h-1zM54 29h1v1h-1zM61 29h1v1h-1zM63 29h1v1h-1zM65 29h1v1h-1zM73 29h1v1h-1zM74 29h1v1h-1zM1 30h1v1h-1zM4 30h1v1h-1zM16 30h1v1h-1zM19 30h1v1h-1zM21 30h1v1h-1zM24 30h1v1h-1zM27 30h1v1h-1zM28 30h1v1h-1zM29 30h1v1h-1zM39 30h1v1h-1zM42 30h1v1h-1zM52 30h1v1h-1zM53 30h1v1h-1zM56 30h1v1h-1zM58 30h1v1h-1zM59 30h1v1h-1zM61 30h1v1h-1zM65 30h1v1h-1zM66 30h1v1h-1zM71 30h1v1h-1zM74 30h1v1h-1zM76 30h1v1h-1zM79 30h1v1h-1zM0 31h1v1h-1zM1 31h1v1h-1zM4 31h1v1h-1zM6 31h1v1h-1zM20 31h1v1h-1zM22 31h1v1h-1zM36 31h1v1h-1zM37 31h1v1h-1zM44 31h1v1h-1zM68 31h1v1h-1zM69 31h1v1h-1zM71 31h1v1h-1zM72 31h1v1h-1zM73 31h1v1h-1zM74 31h1v1h-1zM24 32h1v1h-1zM25 32h1v1h-1zM42 32h1v1h-1zM43 32h1v1h-1zM46 32h1v1h-1zM47 32h1v1h-1zM48 32h1v1h-1zM49 32h1v1h-1zM51 32h1v1h-1zM52 32h1v1h-1zM54 32h1v1h-1zM55 32h1v1h-1zM56 32h1v1h-1zM59 32h1v1h-1zM60 32h1v1h-1zM74 32h1v1h-1zM76 32h1v1h-1zM2 33h1v1h-1zM4 33h1v1h-1zM6 33h1v1h-1zM7 33h1v1h-1zM8 33h1v1h-1zM16 33h1v1h-1zM19 33h1v1h-1zM22 33h1v1h-1zM34 33h1v1h-1zM35 33h1v1h-1zM36 33h1v1h-1zM41 33h1v1h-1zM45 33h1v1h-1zM50 33h1v1h-1zM51 33h1v1h-1zM72 33h1v1h-1zM1 34h1v1h-1zM2 34h1v1h-1zM4 34h1v1h-1zM15 34h1v1h-1zM42 34h1v1h-1zM43 34h1v1h-1zM44 34h1v1h-1zM46 34h1v1h-1zM48 34h1v1h-1zM55 34h1v1h-1zM60 34h1v1h-1zM62 34h1v1h-1zM63 34h1v1h-1zM64 34h1v1h-1zM71 34h1v1h-1zM72 34h1v1h-1zM73 34h1v1h-1zM74 34h1v1h-1zM80 34h1v1h-1zM2 35h1v1h-1zM9 35h1v1h-1zM17 35h1v1h-1zM24 35h1v1h-1zM27 35h1v1h-1zM29 35h1v1h-1zM31 35h1v1h-1zM32 35h1v1h-1zM33 35h1v1h-1zM45 35h1v1h-1zM65 35h1v1h-1zM77 35h1v1h-1zM78 35h1v1h-1zM80 35h1v1h-1zM4 36h1v1h-1zM6 36h1v1h-1zM7 36h1v1h-1zM12 36h1v1h-1zM13 36h1v1h-1zM27 36h1v1h-1zM29 36h1v1h-1zM35 36h1v1h-1zM37 36h1v1h-1zM38 36h1v1h-1zM46 36h1v1h-1zM48 36h1v1h-1zM49 36h1v1h-1zM53 36h1v1h-1zM54 36h1v1h-1zM55 36h1v1h-1zM61 36h1v1h-1zM74 36h1v1h-1zM0 37h1v1h-1zM3 37h1v1h-1zM11 37h1v1h-1zM14 37h1v1h-1zM15 37h1v1h-1zM20 37h1v1h-1zM23 37h1v1h-1zM26 37h1v1h-1zM27 37h1v1h-1zM30 37h1v1h-1zM34 37h1v1h-1zM35 37h1v1h-1zM36 37h1v1h-1zM38 37h1v1h-1zM46 37h1v1h-1zM47 37h1v1h-1zM50 37h1v1h-1zM51 37h1v1h-1zM53 37h1v1h-1zM55 37h1v1h-1zM56 37h1v1h-1zM57 37h1v1h-1zM58 37h1v1h-1zM59 37h1v1h-1zM60 37h1v1h-1zM79 37h1v1h-1zM12 38h1v1h-1zM13 38h1v1h-1zM18 38h1v1h-1zM19 38h1v1h-1zM32 38h1v1h-1zM33 38h1v1h-1zM50 38h1v1h-1zM52 38h1v1h-1zM65 38h1v1h-1zM67 38h1v1h-1zM70 38h1v1h-1zM73 38h1v1h-1zM75 38h1v1h-1zM77 38h1v1h-1zM78 38h1v1h-1zM24 39h1v1h-1zM28 39h1v1h-1zM29 39h1v1h-1zM33 39h1v1h-1zM40 39h1v1h-1zM41 39h1v1h-1zM44 39h1v1h-1zM47 39h1v1h-1zM49 39h1v1h-1zM52 39h1v1h-1zM65 39h1v1h-1zM16 40h1v1h-1zM21 40h1v1h-1zM22 40h1v1h-1zM23 40h1v1h-1zM24 40h1v1h-1zM25 40h1v1h-1zM26 40h1v1h-1zM27 40h1v1h-1zM35 40h1v1h-1zM36 40h1v1h-1zM37 40h1v1h-1zM41 40h1v1h-1zM42 40h1v1h-1zM59 40h1v1h-1zM67 40h1v1h-1zM68 40h1v1h-1zM6 41h1v1h-1zM9 41h1v1h-1zM29 41h1v1h-1zM30 41h1v1h-1zM31 41h1v1h-1zM32 41h1v1h-1zM42 41h1v1h-1zM44 41h1v1h-1zM51 41h1v1h-1zM53 41h1v1h-1zM60 41h1v1h-1zM65 41h1v1h-1zM71 41h1v1h-1zM72 41h1v1h-1zM74 41h1v1h-1zM75 41h1v1h-1zM76 41h1v1h-1zM80 41h1v1h-1zM21 42h1v1h-1zM23 42h1v1h-1zM29 42h1v1h-1zM32 42h1v1h-1zM43 42h1v1h-1zM45 42h1v1h-1zM46 42h1v1h-1zM49 42h1v1h-1zM56 42h1v1h-1zM57 42h1v1h-1zM58 42h1v1h-1zM63 42h1v1h-1zM64 42h1v1h-1zM65 42h1v1h-1zM66 42h1v1h-1zM74 42h1v1h-1zM75 42h1v1h-1zM77 42h1v1h-1zM80 42h1v1h-1zM2 43h1v1h-1zM4 43h1v1h-1zM20 43h1v1h-1zM30 43h1v1h-1zM32 43h1v1h-1zM35 43h1v1h-1zM38 43h1v1h-1zM39 43h1v1h-1zM42 43h1v1h-1zM6 44h1v1h-1zM14 44h1v1h-1zM17 44h1v1h-1zM18 44h1v1h-1zM19 44h1v1h-1zM20 44h1v1h-1zM22 44h1v1h-1zM23 44h1v1h-1zM24 44h1v1h-1zM28 44h1v1h-1zM30 44h1v1h-1zM33 44h1v1h-1zM38 44h1v1h-1zM55 44h1v1h-1zM58 44h1v1h-1zM60 44h1v1h-1zM69 44h1v1h-1zM0 45h1v1h-1zM1 45h1v1h-1zM2 45h1v1h-1zM3 45h1v1h-1zM4 45h1v1h-1zM10 45h1v1h-1zM40 45h1v1h-1zM45 45h1v1h-1zM46 45h1v1h-1zM50 45h1v1h-1zM70 45h1v1h-1zM73 45h1v1h-1zM6 46h1v1h-1zM9 46h1v1h-1zM10 46h1v1h-1zM12 46h1v1h-1zM16 46h1v1h-1zM17 46h1v1h-1zM18 46h1v1h-1zM19 46h1v1h-1zM20 46h1v1h-1zM24 46h1v1h-1zM26 46h1v1h-1zM28 46h1v1h-1zM45 46h1v1h-1zM46 46h1v1h-1zM47 46h1v1h-1zM52 46h1v1h-1zM56 46h1v1h-1zM65 46h1v1h-1zM67 46h1v1h-1zM74 46h1v1h-1zM76 46h1v1h-1zM77 46h1v1h-1zM78 46h1v1h-1zM0 47h1v1h-1zM2 47h1v1h-1zM5 47h1v1h-1zM8 47h1v1h-1zM9 47h1v1h-1zM10 47h1v1h-1zM11 47h1v1h-1zM21 47h1v1h-1zM24 47h1v1h-1zM26 47h1v1h-1zM34 47h1v1h-1zM37 47h1v1h-1zM51 47h1v1h-1zM54 47h1v1h-1zM62 47h1v1h-1zM75 47h1v1h-1zM15 48h1v1h-1zM19 48h1v1h-1zM43 48h1v1h-1zM44 48h1v1h-1zM46 48h1v1h-1zM61 48h1v1h-1zM76 48h1v1h-1zM78 48h1v1h-1zM7 49h1v1h-1zM12 49h1v1h-1zM14 49h1v1h-1zM16 49h1v1h-1zM17 49h1v1h-1zM18 49h1v1h-1zM28 49h1v1h-1zM35 49h1v1h-1zM38 49h1v1h-1zM39 49h1v1h-1zM42 49h1v1h-1zM43 49h1v1h-1zM44 49h1v1h-1zM45 49h1v1h-1zM47 49h1v1h-1zM54 49h1v1h-1zM56 49h1v1h-1zM58 49h1v1h-1zM59 49h1v1h-1zM65 49h1v1h-1zM70 49h1v1h-1zM71 49h1v1h-1zM73 49h1v1h-1zM79 49h1v1h-1zM80 49h1v1h-1zM5 50h1v1h-1zM6 50h1v1h-1zM10 50h1v1h-1zM17 50h1v1h-1zM23 50h1v1h-1zM42 50h1v1h-1zM43 50h1v1h-1zM44 50h1v1h-1zM55 50h1v1h-1zM57 50h1v1h-1zM58 50h1v1h-1zM59 50h1v1h-1zM60 50h1v1h-1zM61 50h1v1h-1zM65 50h1v1h-1zM66 50h1v1h-1zM67 50h1v1h-1zM68 50h1v1h-1zM69 50h1v1h-1zM72 50h1v1h-1zM76 50h1v1h-1zM2 51h1v1h-1zM3 51h1v1h-1zM6 51h1v1h-1zM10 51h1v1h-1zM13 51h1v1h-1zM15 51h1v1h-1zM22 51h1v1h-1zM25 51h1v1h-1zM27 51h1v1h-1zM28 51h1v1h-1zM36 51h1v1h-1zM37 51h1v1h-1zM38 51h1v1h-1zM45 51h1v1h-1zM46 51h1v1h-1zM47 51h1v1h-1zM49 51h1v1h-1zM50 51h1v1h-1zM51 51h1v1h-1zM52 51h1v1h-1zM53 51h1v1h-1zM59 51h1v1h-1zM61 51h1v1h-1zM64 51h1v1h-1zM69 51h1v1h-1zM70 51h1v1h-1zM74 51h1v1h-1zM78 51h1v1h-1zM79 51h1v1h-1zM17 52h1v1h-1zM20 52h1v1h-1zM23 52h1v1h-1zM29 52h1v1h-1zM31 52h1v1h-1zM65 52h1v1h-1zM80 52h1v1h-1zM8 53h1v1h-1zM11 53h1v1h-1zM12 53h1v1h-1zM30 53h1v1h-1zM31 53h1v1h-1zM38 53h1v1h-1zM48 53h1v1h-1zM49 53h1v1h-1zM51 53h1v1h-1zM62 53h1v1h-1zM77 53h1v1h-1zM78 53h1v1h-1zM23 54h1v1h-1zM26 54h1v1h-1zM27 54h1v1h-1zM41 54h1v1h-1zM65 54h1v1h-1zM13 55h1v1h-1zM14 55h1v1h-1zM29 55h1v1h-1zM30 55h1v1h-1zM32 55h1v1h-1zM33 55h1v1h-1zM34 55h1v1h-1zM36 55h1v1h-1zM50 55h1v1h-1zM53 55h1v1h-1zM54 55h1v1h-1zM56 55h1v1h-1zM72 55h1v1h-1zM73 55h1v1h-1zM76 55h1v1h-1zM77 55h1v1h-1zM78 55h1v1h-1zM79 55h1v1h-1zM5 56h1v1h-1zM6 56h1v1h-1zM9 56h1v1h-1zM33 56h1v1h-1zM43 56h1v1h-1zM44 56h1v1h-1zM10 57h1v1h-1zM27 57h1v1h-1zM28 57h1v1h-1zM32 57h1v1h-1zM5 58h1v1h-1zM11 58h1v1h-1zM28 58h1v1h-1zM29 58h1v1h-1zM30 58h1v1h-1zM40 58h1v1h-1zM44 58h1v1h-1zM75 58h1v1h-1zM79 58h1v1h-1zM32 60h1v1h-1zM56 60h1v1h-1zM15 61h1v1h-1zM65 61h1v1h-1zM66 61h1v1h-1zM29 62h1v1h-1zM42 62h1v1h-1zM43 62h1v1h-1zM44 62h1v1h-1zM64 62h1v1h-1zM1 63h1v1h-1zM54 63h1v1h-1zM71 63h1v1h-1zM34 64h1v1h-1zM38 66h1v1h-1zM58 67h1v1h-1z"/>
<path fill="#001040" fill-opacity="0.05" d="M4 0h1v1h-1zM60 0h1v1h-1zM73 0h1v1h-1zM42 1h1v1h-1zM60 1h1v1h-1zM4 2h1v1h-1zM5 2h1v1h-1zM18 2h1v1h-1zM19 2h1v1h-1zM31 2h1v1h-1zM33 2h1v1h-1zM35 2h1v1h-1zM36 2h1v1h-1zM39 2h1v1h-1zM41 2h1v1h-1zM43 2h1v1h-1zM49 2h1v1h-1zM51 2h1v1h-1zM52 2h1v1h-1zM55 2h1v1h-1zM73 2h1v1h-1zM78 2h1v1h-1zM79 2h1v1h-1zM3 3h1v1h-1zM4 3h1v1h-1zM14 3h1v1h-1zM15 3h1v1h-1zM17 3h1v1h-1zM20 3h1v1h-1zM21 3h1v1h-1zM25 3h1v1h-1zM27 3h1v1h-1zM40 3h1v1h-1zM42 3h1v1h-1zM43 3h1v1h-1zM44 3h1v1h-1zM52 3h1v1h-1zM54 3h1v1h-1zM57 3h1v1h-1zM70 3h1v1h-1zM78 3h1v1h-1zM80 3h1v1h-1zM2 4h1v1h-1zM12 4h1v1h-1zM15 4h1v1h-1zM17 4h1v1h-1zM27 4h1v1h-1zM28 4h1v1h-1zM29 4h1v1h-1zM36 4h1v1h-1zM47 4h1v1h-1zM58 4h1v1h-1zM59 4h1v1h-1zM61 4h1v1h-1zM65 4h1v1h-1zM66 4h1v1h-1zM77 4h1v1h-1zM78 4h1v1h-1zM79 4h1v1h-1zM4 5h1v1h-1zM21 5h1v1h-1zM30 5h1v1h-1zM33 5h1v1h-1zM45 5h1v1h-1zM52 5h1v1h-1zM53 5h1v1h-1zM55 5h1v1h-1zM56 5h1v1h-1zM63 5h1v1h-1zM65 5h1v1h-1zM66 5h1v1h-1zM67 5h1v1h-1zM68 5h1v1h-1zM73 5h1v1h-1zM74 5h1v1h-1zM75 5h1v1h-1zM80 5h1v1h-1zM0 6h1v1h-1zM1 6h1v1h-1zM5 6h1v1h-1zM8 6h1v1h-1zM11 6h1v1h-1zM12 6h1v1h-1zM13 6h1v1h-1zM17 6h1v1h-1zM26 6h1v1h-1zM28 6h1v1h-1zM36 6h1v1h-1zM37 6h1v1h-1zM40 6h1v1h-1zM41 6h1v1h-1zM51 6h1v1h-1zM55 6h1v1h-1zM75 6h1v1h-1zM0 7h1v1h-1zM10 7h1v1h-1zM14 7h1v1h-1zM15 7h1v1h-1zM17 7h1v1h-1zM33 7h1v1h-1zM34 7h1v1h-1zM35 7h1v1h-1zM36 7h1v1h-1zM50 7h1v1h-1zM52 7h1v1h-1zM62 7h1v1h-1zM63 7h1v1h-1zM33 8h1v1h-1zM34 8h1v1h-1zM35 8h1v1h-1zM36 8h1v1h-1zM37 8h1v1h-1zM38 8h1v1h-1zM42 8h1v1h-1zM47 8h1v1h-1zM48 8h1v1h-1zM54 8h1v1h-1zM55 8h1v1h-1zM56 8h1v1h-1zM58 8h1v1h-1zM65 8h1v1h-1zM66 8h1v1h-1zM67 8h1v1h-1zM26 9h1v1h-1zM35 9h1v1h-1zM36 9h1v1h-1zM38 9h1v1h-1zM41 9h1v1h-1zM43 9h1v1h-1zM45 9h1v1h-1zM48 9h1v1h-1zM70 9h1v1h-1zM1 10h1v1h-1zM2 10h1v1h-1zM3 10h1v1h-1zM11 10h1v1h-1zM12 10h1v1h-1zM19 10h1v1h-1zM21 10h1v1h-1zM23 10h1v1h-1zM28 10h1v1h-1zM30 10h1v1h-1zM31 10h1v1h-1zM44 10h1v1h-1zM49 10h1v1h-1zM50 10h1v1h-1zM51 10h1v1h-1zM53 10h1v1h-1zM61 10h1v1h-1zM62 10h1v1h-1zM64 10h1v1h-1zM70 10h1v1h-1zM72 10h1v1h-1zM73 10h1v1h-1zM78 10h1v1h-1zM5 11h1v1h-1zM9 11h1v1h-1zM10 11h1v1h-1zM13 11h1v1h-1zM19 11h1v1h-1zM24 11h1v1h-1zM25 11h1v1h-1zM26 11h1v1h-1zM28 11h1v1h-1zM29 11h1v1h-1zM37 11h1v1h-1zM68 11h1v1h-1zM6 12h1v1h-1zM7 12h1v1h-1zM12 12h1v1h-1zM13 12h1v1h-1zM14 12h1v1h-1zM15 12h1v1h-1zM17 12h1v1h-1zM19 12h1v1h-1zM26 12h1v1h-1zM34 12h1v1h-1zM35 12h1v1h-1zM41 12h1v1h-1zM42 12h1v1h-1zM43 12h1v1h-1zM45 12h1v1h-1zM46 12h1v1h-1zM53 12h1v1h-1zM54 12h1v1h-1zM59 12h1v1h-1zM60 12h1v1h-1zM66 12h1v1h-1zM74 12h1v1h-1zM80 12h1v1h-1zM9 13h1v1h-1zM10 13h1v1h-1zM11 13h1v1h-1zM13 13h1v1h-1zM14 13h1v1h-1zM15 13h1v1h-1zM16 13h1v1h-1zM17 13h1v1h-1zM19 13h1v1h-1zM22 13h1v1h-1zM38 13h1v1h-1zM42 13h1v1h-1zM46 13h1v1h-1zM47 13h1v1h-1zM50 13h1v1h-1zM51 13h1v1h-1zM69 13h1v1h-1zM73 13h1v1h-1zM1 14h1v1h-1zM3 14h1v1h-1zM9 14h1v1h-1zM15 14h1v1h-1zM26 14h1v1h-1zM40 14h1v1h-1zM41 14h1v1h-1zM42 14h1v1h-1zM45 14h1v1h-1zM47 14h1v1h-1zM48 14h1v1h-1zM49 14h1v1h-1zM50 14h1v1h-1zM51 14h1v1h-1zM65 14h1v1h-1zM70 14h1v1h-1zM72 14h1v1h-1zM75 14h1v1h-1zM79 14h1v1h-1zM9 15h1v1h-1zM10 15h1v1h-1zM11 15h1v1h-1zM14 15h1v1h-1zM17 15h1v1h-1zM37 15h1v1h-1zM44 15h1v1h-1zM46 15h1v1h-1zM47 15h1v1h-1zM57 15h1v1h-1zM58 15h1v1h-1zM59 15h1v1h-1zM60 15h1v1h-1zM62 15h1v1h-1zM14 16h1v1h-1zM16 16h1v1h-1zM20 16h1v1h-1zM21 16h1v1h-1zM24 16h1v1h-1zM29 16h1v1h-1zM30 16h1v1h-1zM31 16h1v1h-1zM41 16h1v1h-1zM42 16h1v1h-1zM46 16h1v1h-1zM51 16h1v1h-1zM67 16h1v1h-1zM69 16h1v1h-1zM71 16h1v1h-1zM76 16h1v1h-1zM3 17h1v1h-1zM8 17h1v1h-1zM13 17h1v1h-1zM29 17h1v1h-1zM35 17h1v1h-1zM36 17h1v1h-1zM37 17h1v1h-1zM60 17h1v1h-1zM61 17h1v1h-1zM63 17h1v1h-1zM65 17h1v1h-1zM74 17h1v1h-1zM77 17h1v1h-1zM2 18h1v1h-1zM3 18h1v1h-1zM5 18h1v1h-1zM44 18h1v1h-1zM46 18h1v1h-1zM48 18h1v1h-1zM50 18h1v1h-1zM52 18h1v1h-1zM53 18h1v1h-1zM54 18h1v1h-1zM55 18h1v1h-1zM56 18h1v1h-1zM63 18h1v1h-1zM67 18h1v1h-1zM73 18h1v1h-1zM75 18h1v1h-1zM76 18h1v1h-1zM77 18h1v1h-1zM9 19h1v1h-1zM11 19h1v1h-1zM16 19h1v1h-1zM17 19h1v1h-1zM19 19h1v1h-1zM37 19h1v1h-1zM39 19h1v1h-1zM41 19h1v1h-1zM46 19h1v1h-1zM47 19h1v1h-1zM48 19h1v1h-1zM50 19h1v1h-1zM71 19h1v1h-1zM73 19h1v1h-1zM74 19h1v1h-1zM4 20h1v1h-1zM17 20h1v1h-1zM31 20h1v1h-1zM36 20h1v1h-1zM57 20h1v1h-1zM59 20h1v1h-1zM61 20h1v1h-1zM63 20h1v1h-1zM75 20h1v1h-1zM76 20h1v1h-1zM79 20h1v1h-1zM68 21h1v1h-1zM71 21h1v1h-1zM72 21h1v1h-1zM1 22h1v1h-1zM2 22h1v1h-1zM12 22h1v1h-1zM15 22h1v1h-1zM36 22h1v1h-1zM47 22h1v1h-1zM56 22h1v1h-1zM57 22h1v1h-1zM62 22h1v1h-1zM64 22h1v1h-1zM69 22h1v1h-1zM72 22h1v1h-1zM74 22h1v1h-1zM0 23h1v1h-1zM1 23h1v1h-1zM11 23h1v1h-1zM14 23h1v1h-1zM15 23h1v1h-1zM22 23h1v1h-1zM24 23h1v1h-1zM32 23h1v1h-1zM47 23h1v1h-1zM52 23h1v1h-1zM55 23h1v1h-1zM63 23h1v1h-1zM64 23h1v1h-1zM68 23h1v1h-1zM18 24h1v1h-1zM23 24h1v1h-1zM27 24h1v1h-1zM29 24h1v1h-1zM33 24h1v1h-1zM59 24h1v1h-1zM64 24h1v1h-1zM65 24h1v1h-1zM68 24h1v1h-1zM73 24h1v1h-1zM80 24h1v1h-1zM0 25h1v1h-1zM1 25h1v1h-1zM4 25h1v1h-1zM13 25h1v1h-1zM15 25h1v1h-1zM16 25h1v1h-1zM17 25h1v1h-1zM20 25h1v1h-1zM21 25h1v1h-1zM23 25h1v1h-1zM25 25h1v1h-1zM26 25h1v1h-1zM28 25h1v1h-1zM36 25h1v1h-1zM38 25h1v1h-1zM39 25h1v1h-1zM41 25h1v1h-1zM49 25h1v1h-1zM51 25h1v1h-1zM59 25h1v1h-1zM75 25h1v1h-1zM76 25h1v1h-1zM79 25h1v1h-1zM80 25h1v1h-1zM28 26h1v1h-1zM30 26h1v1h-1zM47 26h1v1h-1zM48 26h1v1h-1zM50 26h1v1h-1zM51 26h1v1h-1zM52 26h1v1h-1zM56 26h1v1h-1zM58 26h1v1h-1zM59 26h1v1h-1zM60 26h1v1h-1zM67 26h1v1h-1zM69 26h1v1h-1zM70 26h1v1h-1zM71 26h1v1h-1zM72 26h1v1h-1zM73 26h1v1h-1zM74 26h1v1h-1zM76 26h1v1h-1zM78 26h1v1h-1zM79 26h1v1h-1zM0 27h1v1h-1zM1 27h1v1h-1zM3 27h1v1h-1zM6 27h1v1h-1zM17 27h1v1h-1zM18 27h1v1h-1zM19 27h1v1h-1zM20 27h1v1h-1zM21 27h1v1h-1zM31 27h1v1h-1zM33 27h1v1h-1zM35 27h1v1h-1zM51 27h1v1h-1zM55 27h1v1h-1zM59 27h1v1h-1zM60 27h1v1h-1zM61 27h1v1h-1zM76 27h1v1h-1zM8 28h1v1h-1zM10 28h1v1h-1zM12 28h1v1h-1zM25 28h1v1h-1zM27 28h1v1h-1zM30 28h1v1h-1zM31 28h1v1h-1zM32 28h1v1h-1zM33 28h1v1h-1zM40 28h1v1h-1zM44 28h1v1h-1zM46 28h1v1h-1zM59 28h1v1h-1zM60 28h1v1h-1zM75 28h1v1h-1zM77 28h1v1h-1zM1 29h1v1h-1zM3 29h1v1h-1zM5 29h1v1h-1zM7 29h1v1h-1zM9 29h1v1h-1zM10 29h1v1h-1zM12 29h1v1h-1zM28 29h1v1h-1zM31 29h1v1h-1zM32 29h1v1h-1zM33 29h1v1h-1zM38 29h1v1h-1zM58 29h1v1h-1zM78 29h1v1h-1zM9 30h1v1h-1zM11 30h1v1h-1zM14 30h1v1h-1zM44 30h1v1h-1zM69 30h1v1h-1zM70 30h1v1h-1zM77 30h1v1h-1zM78 30h1v1h-1zM8 31h1v1h-1zM15 31h1v1h-1zM16 31h1v1h-1zM23 31h1v1h-1zM25 31h1v1h-1zM27 31h1v1h-1zM28 31h1v1h-1zM31 31h1v1h-1zM32 31h1v1h-1zM33 31h1v1h-1zM42 31h1v1h-1zM46 31h1v1h-1zM47 31h1v1h-1zM48 31h1v1h-1zM58 31h1v1h-1zM60 31h1v1h-1zM63 31h1v1h-1zM64 31h1v1h-1zM77 31h1v1h-1zM79 31h1v1h-1zM80 31h1v1h-1zM0 32h1v1h-1zM1 32h1v1h-1zM6 32h1v1h-1zM11 32h1v1h-1zM12 32h1v1h-1zM13 32h1v1h-1zM15 32h1v1h-1zM21 32h1v1h-1zM22 32h1v1h-1zM26 32h1v1h-1zM31 32h1v1h-1zM32 32h1v1h-1zM35 32h1v1h-1zM37 32h1v1h-1zM38 32h1v1h-1zM39 32h1v1h-1zM40 32h1v1h-1zM61 32h1v1h-1zM64 32h1v1h-1zM65 32h1v1h-1zM67 32h1v1h-1zM69 32h1v1h-1zM70 32h1v1h-1zM71 32h1v1h-1zM73 32h1v1h-1zM12 33h1v1h-1zM13 33h1v1h-1zM38 33h1v1h-1zM47 33h1v1h-1zM55 33h1v1h-1zM58 33h1v1h-1zM61 33h1v1h-1zM73 33h1v1h-1zM75 33h1v1h-1zM79 33h1v1h-1zM7 34h1v1h-1zM8 34h1v1h-1zM18 34h1v1h-1zM21 34h1v1h-1zM23 34h1v1h-1zM24 34h1v1h-1zM25 34h1v1h-1zM26 34h1v1h-1zM29 34h1v1h-1zM35 34h1v1h-1zM38 34h1v1h-1zM54 34h1v1h-1zM67 34h1v1h-1zM69 34h1v1h-1zM4 35h1v1h-1zM5 35h1v1h-1zM15 35h1v1h-1zM16 35h1v1h-1zM18 35h1v1h-1zM19 35h1v1h-1zM20 35h1v1h-1zM34 35h1v1h-1zM37 35h1v1h-1zM41 35h1v1h-1zM47 35h1v1h-1zM48 35h1v1h-1zM49 35h1v1h-1zM52 35h1v1h-1zM59 35h1v1h-1zM66 35h1v1h-1zM68 35h1v1h-1zM69 35h1v1h-1zM70 35h1v1h-1zM76 35h1v1h-1zM2 36h1v1h-1zM3 36h1v1h-1zM23 36h1v1h-1zM42 36h1v1h-1zM66 36h1v1h-1zM68 36h1v1h-1zM76 36h1v1h-1zM80 36h1v1h-1zM31 37h1v1h-1zM40 37h1v1h-1zM41 37h1v1h-1zM43 37h1v1h-1zM67 37h1v1h-1zM69 37h1v1h-1zM70 37h1v1h-1zM71 37h1v1h-1zM72 37h1v1h-1zM73 37h1v1h-1zM74 37h1v1h-1zM3 38h1v1h-1zM6 38h1v1h-1zM7 38h1v1h-1zM23 38h1v1h-1zM26 38h1v1h-1zM27 38h1v1h-1zM41 38h1v1h-1zM43 38h1v1h-1zM45 38h1v1h-1zM63 38h1v1h-1zM1 39h1v1h-1zM5 39h1v1h-1zM13 39h1v1h-1zM14 39h1v1h-1zM15 39h1v1h-1zM16 39h1v1h-1zM19 39h1v1h-1zM34 39h1v1h-1zM36 39h1v1h-1zM38 39h1v1h-1zM46 39h1v1h-1zM48 39h1v1h-1zM53 39h1v1h-1zM56 39h1v1h-1zM57 39h1v1h-1zM59 39h1v1h-1zM60 39h1v1h-1zM61 39h1v1h-1zM62 39h1v1h-1zM69 39h1v1h-1zM71 39h1v1h-1zM75 39h1v1h-1zM78 39h1v1h-1zM79 39h1v1h-1zM80 39h1v1h-1zM5 40h1v1h-1zM7 40h1v1h-1zM19 40h1v1h-1zM30 40h1v1h-1zM50 40h1v1h-1zM52 40h1v1h-1zM54 40h1v1h-1zM69 40h1v1h-1zM76 40h1v1h-1zM3 41h1v1h-1zM4 41h1v1h-1zM14 41h1v1h-1zM16 41h1v1h-1zM18 41h1v1h-1zM41 41h1v1h-1zM54 41h1v1h-1zM56 41h1v1h-1zM57 41h1v1h-1zM58 41h1v1h-1zM59 41h1v1h-1zM62 41h1v1h-1zM64 41h1v1h-1zM67 41h1v1h-1zM2 42h1v1h-1zM3 42h1v1h-1zM4 42h1v1h-1zM6 42h1v1h-1zM8 42h1v1h-1zM9 42h1v1h-1zM11 42h1v1h-1zM13 42h1v1h-1zM15 42h1v1h-1zM16 42h1v1h-1zM17 42h1v1h-1zM24 42h1v1h-1zM31 42h1v1h-1zM35 42h1v1h-1zM36 42h1v1h-1zM44 42h1v1h-1zM60 42h1v1h-1zM71 42h1v1h-1zM73 42h1v1h-1zM6 43h1v1h-1zM7 43h1v1h-1zM9 43h1v1h-1zM10 43h1v1h-1zM14 43h1v1h-1zM21 43h1v1h-1zM24 43h1v1h-1zM25 43h1v1h-1zM40 43h1v1h-1zM43 43h1v1h-1zM45 43h1v1h-1zM48 43h1v1h-1zM51 43h1v1h-1zM52 43h1v1h-1zM63 43h1v1h-1zM66 43h1v1h-1zM73 43h1v1h-1zM74 43h1v1h-1zM75 43h1v1h-1zM76 43h1v1h-1zM7 44h1v1h-1zM8 44h1v1h-1zM9 44h1v1h-1zM45 44h1v1h-1zM47 44h1v1h-1zM49 44h1v1h-1zM50 44h1v1h-1zM53 44h1v1h-1zM67 44h1v1h-1zM73 44h1v1h-1zM74 44h1v1h-1zM78 44h1v1h-1zM79 44h1v1h-1zM80 44h1v1h-1zM12 45h1v1h-1zM13 45h1v1h-1zM15 45h1v1h-1zM18 45h1v1h-1zM27 45h1v1h-1zM32 45h1v1h-1zM51 45h1v1h-1zM58 45h1v1h-1zM61 45h1v1h-1zM65 45h1v1h-1zM77 45h1v1h-1zM79 45h1v1h-1zM1 46h1v1h-1zM2 46h1v1h-1zM3 46h1v1h-1zM4 46h1v1h-1zM25 46h1v1h-1zM33 46h1v1h-1zM34 46h1v1h-1zM35 46h1v1h-1zM39 46h1v1h-1zM40 46h1v1h-1zM49 46h1v1h-1zM54 46h1v1h-1zM58 46h1v1h-1zM59 46h1v1h-1zM69 46h1v1h-1zM70 46h1v1h-1zM71 46h1v1h-1zM14 47h1v1h-1zM16 47h1v1h-1zM17 47h1v1h-1zM18 47h1v1h-1zM39 47h1v1h-1zM45 47h1v1h-1zM46 47h1v1h-1zM49 47h1v1h-1zM65 47h1v1h-1zM69 47h1v1h-1zM70 47h1v1h-1zM71 47h1v1h-1zM72 47h1v1h-1zM73 47h1v1h-1zM0 48h1v1h-1zM1 48h1v1h-1zM2 48h1v1h-1zM4 48h1v1h-1zM6 48h1v1h-1zM9 48h1v1h-1zM13 48h1v1h-1zM21 48h1v1h-1zM28 48h1v1h-1zM31 48h1v1h-1zM32 48h1v1h-1zM36 48h1v1h-1zM37 48h1v1h-1zM38 48h1v1h-1zM48 48h1v1h-1zM50 48h1v1h-1zM52 48h1v1h-1zM58 48h1v1h-1zM63 48h1v1h-1zM73 48h1v1h-1zM80 48h1v1h-1zM1 49h1v1h-1zM2 49h1v1h-1zM3 49h1v1h-1zM22 49h1v1h-1zM24 49h1v1h-1zM29 49h1v1h-1zM30 49h1v1h-1zM32 49h1v1h-1zM33 49h1v1h-1zM50 49h1v1h-1zM8 50h1v1h-1zM32 50h1v1h-1zM45 50h1v1h-1zM46 50h1v1h-1zM49 50h1v1h-1zM53 50h1v1h-1zM54 50h1v1h-1zM77 50h1v1h-1zM78 50h1v1h-1zM80 50h1v1h-1zM19 51h1v1h-1zM30 51h1v1h-1zM43 51h1v1h-1zM58 51h1v1h-1zM1 52h1v1h-1zM3 52h1v1h-1zM5 52h1v1h-1zM6 52h1v1h-1zM7 52h1v1h-1zM14 52h1v1h-1zM34 52h1v1h-1zM35 52h1v1h-1zM36 52h1v1h-1zM37 52h1v1h-1zM44 52h1v1h-1zM51 52h1v1h-1zM53 52h1v1h-1zM55 52h1v1h-1zM56 52h1v1h-1zM70 52h1v1h-1zM72 52h1v1h-1zM75 52h1v1h-1zM76 52h1v1h-1zM1 53h1v1h-1zM2 53h1v1h-1zM17 53h1v1h-1zM19 53h1v1h-1zM21 53h1v1h-1zM23 53h1v1h-1zM28 53h1v1h-1zM33 53h1v1h-1zM35 53h1v1h-1zM56 53h1v1h-1zM61 53h1v1h-1zM66 53h1v1h-1zM68 53h1v1h-1zM71 53h1v1h-1zM73 53h1v1h-1zM4 54h1v1h-1zM15 54h1v1h-1zM16 54h1v1h-1zM17 54h1v1h-1zM18 54h1v1h-1zM19 54h1v1h-1zM20 54h1v1h-1zM28 54h1v1h-1zM30 54h1v1h-1zM51 54h1v1h-1zM52 54h1v1h-1zM53 54h1v1h-1zM60 54h1v1h-1zM79 54h1v1h-1zM80 54h1v1h-1zM0 55h1v1h-1zM2 55h1v1h-1zM4 55h1v1h-1zM10 55h1v1h-1zM20 55h1v1h-1zM21 55h1v1h-1zM22 55h1v1h-1zM24 55h1v1h-1zM46 55h1v1h-1zM48 55h1v1h-1zM60 55h1v1h-1zM62 55h1v1h-1zM65 55h1v1h-1zM69 55h1v1h-1zM0 56h1v1h-1zM18 56h1v1h-1zM20 56h1v1h-1zM27 56h1v1h-1zM65 56h1v1h-1zM66 56h1v1h-1zM68 56h1v1h-1zM69 56h1v1h-1zM70 56h1v1h-1zM40 57h1v1h-1zM43 57h1v1h-1zM48 57h1v1h-1zM50 57h1v1h-1zM56 57h1v1h-1zM64 57h1v1h-1zM65 57h1v1h-1zM66 57h1v1h-1zM67 57h1v1h-1zM68 57h1v1h-1zM69 57h1v1h-1zM70 57h1v1h-1zM71 57h1v1h-1zM72 57h1v1h-1zM74 57h1v1h-1zM75 57h1v1h-1zM76 57h1v1h-1zM21 58h1v1h-1zM23 58h1v1h-1zM26 60h1v1h-1zM27 60h1v1h-1zM59 61h1v1h-1zM74 61h1v1h-1zM23 62h1v1h-1zM27 63h1v1h-1zM9 64h1v1h-1zM25 64h1v1h-1zM73 64h1v1h-1zM4 65h1v1h-1zM8 65h1v1h-1zM55 65h1v1h-1zM60 66h1v1h-1zM61 66h1v1h-1zM62 66h1v1h-1zM63 66h1v1h-1zM64 66h1v1h-1zM65 66h1v1h-1zM79 66h1v1h-1zM80 66h1v1h-1zM80 67h1v1h-1z"/>
<path fill="#001040" fill-opacity="0.10" d="M15 2h1v1h-1zM34 2h1v1h-1zM42 2h1v1h-1zM46 2h1v1h-1zM47 2h1v1h-1zM48 2h1v1h-1zM50 2h1v1h-1zM77 2h1v1h-1zM80 2h1v1h-1zM5 3h1v1h-1zM11 3h1v1h-1zM12 3h1v1h-1zM13 3h1v1h-1zM16 3h1v1h-1zM18 3h1v1h-1zM41 3h1v1h-1zM53 3h1v1h-1zM79 3h1v1h-1zM14 4h1v1h-1zM48 4h1v1h-1zM52 4h1v1h-1zM62 4h1v1h-1zM63 4h1v1h-1zM64 4h1v1h-1zM67 4h1v1h-1zM69 4h1v1h-1zM80 4h1v1h-1zM3 5h1v1h-1zM31 5h1v1h-1zM54 5h1v1h-1zM70 5h1v1h-1zM71 5h1v1h-1zM72 5h1v1h-1zM4 6h1v1h-1zM6 6h1v1h-1zM7 6h1v1h-1zM9 6h1v1h-1zM10 6h1v1h-1zM38 6h1v1h-1zM77 6h1v1h-1zM16 7h1v1h-1zM45 8h1v1h-1zM46 8h1v1h-1zM68 8h1v1h-1zM70 8h1v1h-1zM46 9h1v1h-1zM69 9h1v1h-1zM71 9h1v1h-1zM10 10h1v1h-1zM20 10h1v1h-1zM29 10h1v1h-1zM52 10h1v1h-1zM11 11h1v1h-1zM14 11h1v1h-1zM22 11h1v1h-1zM27 11h1v1h-1zM33 11h1v1h-1zM61 11h1v1h-1zM62 11h1v1h-1zM63 11h1v1h-1zM64 11h1v1h-1zM65 11h1v1h-1zM66 11h1v1h-1zM67 11h1v1h-1zM16 12h1v1h-1zM18 12h1v1h-1zM28 12h1v1h-1zM30 12h1v1h-1zM31 12h1v1h-1zM32 12h1v1h-1zM33 12h1v1h-1zM36 12h1v1h-1zM40 12h1v1h-1zM55 12h1v1h-1zM56 12h1v1h-1zM57 12h1v1h-1zM58 12h1v1h-1zM8 13h1v1h-1zM48 13h1v1h-1zM49 13h1v1h-1zM11 14h1v1h-1zM12 14h1v1h-1zM13 14h1v1h-1zM43 14h1v1h-1zM13 15h1v1h-1zM4 16h1v1h-1zM15 16h1v1h-1zM32 16h1v1h-1zM33 16h1v1h-1zM34 16h1v1h-1zM35 16h1v1h-1zM36 16h1v1h-1zM45 16h1v1h-1zM77 16h1v1h-1zM78 16h1v1h-1zM79 16h1v1h-1zM32 17h1v1h-1zM78 17h1v1h-1zM80 17h1v1h-1zM1 18h1v1h-1zM4 18h1v1h-1zM51 18h1v1h-1zM68 18h1v1h-1zM71 18h1v1h-1zM80 18h1v1h-1zM14 19h1v1h-1zM15 19h1v1h-1zM27 19h1v1h-1zM9 20h1v1h-1zM0 22h1v1h-1zM70 22h1v1h-1zM71 22h1v1h-1zM21 23h1v1h-1zM50 23h1v1h-1zM51 23h1v1h-1zM62 23h1v1h-1zM65 23h1v1h-1zM66 23h1v1h-1zM22 25h1v1h-1zM24 25h1v1h-1zM27 25h1v1h-1zM29 25h1v1h-1zM30 25h1v1h-1zM31 25h1v1h-1zM32 25h1v1h-1zM33 25h1v1h-1zM50 25h1v1h-1zM71 25h1v1h-1zM72 25h1v1h-1zM73 25h1v1h-1zM74 25h1v1h-1zM77 25h1v1h-1zM27 26h1v1h-1zM49 26h1v1h-1zM2 27h1v1h-1zM32 27h1v1h-1zM34 27h1v1h-1zM52 27h1v1h-1zM62 27h1v1h-1zM63 27h1v1h-1zM64 27h1v1h-1zM65 27h1v1h-1zM28 28h1v1h-1zM29 28h1v1h-1zM61 28h1v1h-1zM78 28h1v1h-1zM79 28h1v1h-1zM80 28h1v1h-1zM4 29h1v1h-1zM6 29h1v1h-1zM8 29h1v1h-1zM13 29h1v1h-1zM30 29h1v1h-1zM34 29h1v1h-1zM77 29h1v1h-1zM80 29h1v1h-1zM8 30h1v1h-1zM9 31h1v1h-1zM10 31h1v1h-1zM11 31h1v1h-1zM12 31h1v1h-1zM13 31h1v1h-1zM14 31h1v1h-1zM26 31h1v1h-1zM30 31h1v1h-1zM49 31h1v1h-1zM57 31h1v1h-1zM59 31h1v1h-1zM61 31h1v1h-1zM2 32h1v1h-1zM3 32h1v1h-1zM4 32h1v1h-1zM5 32h1v1h-1zM20 32h1v1h-1zM66 32h1v1h-1zM68 32h1v1h-1zM28 33h1v1h-1zM29 33h1v1h-1zM33 33h1v1h-1zM78 33h1v1h-1zM80 33h1v1h-1zM27 34h1v1h-1zM28 34h1v1h-1zM36 34h1v1h-1zM37 34h1v1h-1zM70 34h1v1h-1zM38 35h1v1h-1zM39 35h1v1h-1zM40 35h1v1h-1zM50 35h1v1h-1zM51 35h1v1h-1zM71 35h1v1h-1zM72 35h1v1h-1zM73 35h1v1h-1zM74 35h1v1h-1zM41 36h1v1h-1zM43 36h1v1h-1zM57 36h1v1h-1zM65 36h1v1h-1zM42 37h1v1h-1zM24 38h1v1h-1zM25 38h1v1h-1zM28 38h1v1h-1zM36 38h1v1h-1zM38 38h1v1h-1zM39 38h1v1h-1zM42 38h1v1h-1zM62 38h1v1h-1zM2 39h1v1h-1zM12 39h1v1h-1zM37 39h1v1h-1zM63 39h1v1h-1zM70 39h1v1h-1zM77 39h1v1h-1zM6 40h1v1h-1zM8 40h1v1h-1zM53 40h1v1h-1zM55 40h1v1h-1zM56 40h1v1h-1zM57 40h1v1h-1zM74 40h1v1h-1zM15 41h1v1h-1zM55 41h1v1h-1zM26 42h1v1h-1zM34 42h1v1h-1zM37 42h1v1h-1zM11 43h1v1h-1zM46 43h1v1h-1zM50 43h1v1h-1zM53 43h1v1h-1zM54 43h1v1h-1zM55 43h1v1h-1zM56 43h1v1h-1zM57 43h1v1h-1zM68 43h1v1h-1zM70 43h1v1h-1zM77 43h1v1h-1zM79 43h1v1h-1zM0 44h1v1h-1zM48 44h1v1h-1zM63 44h1v1h-1zM64 44h1v1h-1zM65 44h1v1h-1zM66 44h1v1h-1zM75 44h1v1h-1zM76 44h1v1h-1zM77 44h1v1h-1zM17 45h1v1h-1zM19 45h1v1h-1zM21 45h1v1h-1zM28 45h1v1h-1zM29 45h1v1h-1zM30 45h1v1h-1zM31 45h1v1h-1zM57 45h1v1h-1zM36 46h1v1h-1zM37 46h1v1h-1zM41 47h1v1h-1zM42 47h1v1h-1zM43 47h1v1h-1zM48 47h1v1h-1zM64 47h1v1h-1zM23 48h1v1h-1zM25 48h1v1h-1zM64 48h1v1h-1zM67 48h1v1h-1zM68 48h1v1h-1zM69 48h1v1h-1zM70 48h1v1h-1zM71 48h1v1h-1zM72 48h1v1h-1zM0 49h1v1h-1zM47 50h1v1h-1zM79 50h1v1h-1zM18 53h1v1h-1zM23 55h1v1h-1zM63 55h1v1h-1zM64 55h1v1h-1z"/>
</g>
<rect x="309.70" y="186.35" width="198.70" height="0.9" fill="#30c0c0" fill-opacity="0.4"/>
<rect x="334.90" y="97.80" width="151.00" height="11.30" fill="#06065e"/>
<linearGradient id="b22" gradientUnits="userSpaceOnUse" x1="334.90" y1="0" x2="485.90" y2="0"><stop offset="0.0000" stop-color="#0000bd" stop-opacity="0.50"/><stop offset="0.2238" stop-color="#0000d1" stop-opacity="0.50"/><stop offset="0.2636" stop-color="#0000f0" stop-opacity="0.50"/><stop offset="0.2801" stop-color="#0005ff" stop-opacity="0.50"/><stop offset="0.3000" stop-color="#0005ff" stop-opacity="0.50"/><stop offset="0.3232" stop-color="#0005ff" stop-opacity="0.50"/><stop offset="0.3397" stop-color="#0005ff" stop-opacity="0.50"/><stop offset="0.3530" stop-color="#0005ff" stop-opacity="0.50"/><stop offset="0.3695" stop-color="#0005ff" stop-opacity="0.50"/><stop offset="0.4093" stop-color="#0005ff" stop-opacity="0.50"/><stop offset="0.4424" stop-color="#0005ff" stop-opacity="0.50"/><stop offset="0.4589" stop-color="#0005ff" stop-opacity="0.50"/><stop offset="0.4755" stop-color="#0005ff" stop-opacity="0.50"/><stop offset="0.4887" stop-color="#0005ff" stop-opacity="0.50"/><stop offset="0.5020" stop-color="#0005ff" stop-opacity="0.50"/><stop offset="0.5185" stop-color="#0005ff" stop-opacity="0.50"/><stop offset="0.5318" stop-color="#0005ff" stop-opacity="0.50"/><stop offset="0.5483" stop-color="#0005ff" stop-opacity="0.50"/><stop offset="0.5682" stop-color="#0005ff" stop-opacity="0.50"/><stop offset="0.6079" stop-color="#0005ff" stop-opacity="0.50"/><stop offset="0.6477" stop-color="#0005ff" stop-opacity="0.50"/><stop offset="0.6675" stop-color="#0005ff" stop-opacity="0.50"/><stop offset="0.6907" stop-color="#0005ff" stop-opacity="0.50"/><stop offset="0.7139" stop-color="#0005ff" stop-opacity="0.50"/><stop offset="0.7437" stop-color="#0005ff" stop-opacity="0.50"/><stop offset="0.8199" stop-color="#0000fa" stop-opacity="0.50"/><stop offset="1.0000" stop-color="#0000e6" stop-opacity="0.50"/></linearGradient>
<rect x="334.90" y="102.5" width="151.00" height="1.9" fill="url(#b22)"/>
<linearGradient id="b23" gradientUnits="userSpaceOnUse" x1="334.90" y1="0" x2="485.90" y2="0"><stop offset="0.0000" stop-color="#0000bd" stop-opacity="0.65"/><stop offset="0.2238" stop-color="#0000c7" stop-opacity="0.65"/><stop offset="0.2636" stop-color="#0000d6" stop-opacity="0.65"/><stop offset="0.2801" stop-color="#002eff" stop-opacity="0.65"/><stop offset="0.3000" stop-color="#0075ff" stop-opacity="0.65"/><stop offset="0.3232" stop-color="#00c2ff" stop-opacity="0.65"/><stop offset="0.3397" stop-color="#05fffa" stop-opacity="0.65"/><stop offset="0.3530" stop-color="#4dffb2" stop-opacity="0.65"/><stop offset="0.3695" stop-color="#7aff85" stop-opacity="0.65"/><stop offset="0.4093" stop-color="#8aff75" stop-opacity="0.65"/><stop offset="0.4424" stop-color="#75ff8a" stop-opacity="0.65"/><stop offset="0.4589" stop-color="#4dffb2" stop-opacity="0.65"/><stop offset="0.4755" stop-color="#00faff" stop-opacity="0.65"/><stop offset="0.4887" stop-color="#00b8ff" stop-opacity="0.65"/><stop offset="0.5020" stop-color="#0085ff" stop-opacity="0.65"/><stop offset="0.5185" stop-color="#0057ff" stop-opacity="0.65"/><stop offset="0.5318" stop-color="#0057ff" stop-opacity="0.65"/><stop offset="0.5483" stop-color="#0075ff" stop-opacity="0.65"/><stop offset="0.5682" stop-color="#0094ff" stop-opacity="0.65"/><stop offset="0.6079" stop-color="#009eff" stop-opacity="0.65"/><stop offset="0.6477" stop-color="#0094ff" stop-opacity="0.65"/><stop offset="0.6675" stop-color="#006bff" stop-opacity="0.65"/><stop offset="0.6907" stop-color="#0042ff" stop-opacity="0.65"/><stop offset="0.7139" stop-color="#001aff" stop-opacity="0.65"/><stop offset="0.7437" stop-color="#0000f5" stop-opacity="0.65"/><stop offset="0.8199" stop-color="#0000db" stop-opacity="0.65"/><stop offset="1.0000" stop-color="#0000d1" stop-opacity="0.65"/></linearGradient>
<ellipse cx="395.20" cy="103.45" rx="20.00" ry="1.35" fill="url(#b23)"/>
<ellipse cx="429.20" cy="103.6" rx="16.00" ry="1.05" fill="url(#b23)"/>
<linearGradient id="b24" gradientUnits="userSpaceOnUse" x1="334.90" y1="0" x2="485.90" y2="0"><stop offset="0.0000" stop-color="#0000bd" stop-opacity="1.00"/><stop offset="0.2238" stop-color="#0000cd" stop-opacity="1.00"/><stop offset="0.2636" stop-color="#0000e6" stop-opacity="1.00"/><stop offset="0.2801" stop-color="#0071ff" stop-opacity="1.00"/><stop offset="0.3000" stop-color="#00e3ff" stop-opacity="1.00"/><stop offset="0.3232" stop-color="#5fffa0" stop-opacity="1.00"/><stop offset="0.3397" stop-color="#c9ff36" stop-opacity="1.00"/><stop offset="0.3530" stop-color="#ffc300" stop-opacity="1.00"/><stop offset="0.3695" stop-color="#ff7900" stop-opacity="1.00"/><stop offset="0.4093" stop-color="#ff6100" stop-opacity="1.00"/><stop offset="0.4424" stop-color="#ff8200" stop-opacity="1.00"/><stop offset="0.4589" stop-color="#ffc300" stop-opacity="1.00"/><stop offset="0.4755" stop-color="#b9ff46" stop-opacity="1.00"/><stop offset="0.4887" stop-color="#4fffb0" stop-opacity="1.00"/><stop offset="0.5020" stop-color="#00fcff" stop-opacity="1.00"/><stop offset="0.5185" stop-color="#00b2ff" stop-opacity="1.00"/><stop offset="0.5318" stop-color="#00b2ff" stop-opacity="1.00"/><stop offset="0.5483" stop-color="#00e3ff" stop-opacity="1.00"/><stop offset="0.5682" stop-color="#15ffea" stop-opacity="1.00"/><stop offset="0.6079" stop-color="#26ffd9" stop-opacity="1.00"/><stop offset="0.6477" stop-color="#15ffea" stop-opacity="1.00"/><stop offset="0.6675" stop-color="#00d3ff" stop-opacity="1.00"/><stop offset="0.6907" stop-color="#0092ff" stop-opacity="1.00"/><stop offset="0.7139" stop-color="#0051ff" stop-opacity="1.00"/><stop offset="0.7437" stop-color="#0017ff" stop-opacity="1.00"/><stop offset="0.8199" stop-color="#0000ee" stop-opacity="1.00"/><stop offset="1.0000" stop-color="#0000dd" stop-opacity="1.00"/></linearGradient>
<ellipse cx="395.20" cy="103.45" rx="19.40" ry="0.85" fill="url(#b24)"/>
<ellipse cx="429.20" cy="103.6" rx="15.40" ry="0.62" fill="url(#b24)"/>
<linearGradient id="b25" gradientUnits="userSpaceOnUse" x1="334.90" y1="0" x2="485.90" y2="0"><stop offset="0.0000" stop-color="#0000bd" stop-opacity="1.00"/><stop offset="0.2238" stop-color="#0000d1" stop-opacity="1.00"/><stop offset="0.2636" stop-color="#0000f0" stop-opacity="1.00"/><stop offset="0.2801" stop-color="#009eff" stop-opacity="1.00"/><stop offset="0.3000" stop-color="#2effd1" stop-opacity="1.00"/><stop offset="0.3232" stop-color="#c7ff38" stop-opacity="1.00"/><stop offset="0.3397" stop-color="#ffb300" stop-opacity="1.00"/><stop offset="0.3530" stop-color="#ff2400" stop-opacity="1.00"/><stop offset="0.3695" stop-color="#c70000" stop-opacity="1.00"/><stop offset="0.4093" stop-color="#a80000" stop-opacity="1.00"/><stop offset="0.4424" stop-color="#d10000" stop-opacity="1.00"/><stop offset="0.4589" stop-color="#ff2400" stop-opacity="1.00"/><stop offset="0.4755" stop-color="#ffc700" stop-opacity="1.00"/><stop offset="0.4887" stop-color="#b3ff4c" stop-opacity="1.00"/><stop offset="0.5020" stop-color="#4dffb2" stop-opacity="1.00"/><stop offset="0.5185" stop-color="#00f0ff" stop-opacity="1.00"/><stop offset="0.5318" stop-color="#00f0ff" stop-opacity="1.00"/><stop offset="0.5483" stop-color="#2effd1" stop-opacity="1.00"/><stop offset="0.5682" stop-color="#6bff94" stop-opacity="1.00"/><stop offset="0.6079" stop-color="#80ff80" stop-opacity="1.00"/><stop offset="0.6477" stop-color="#6bff94" stop-opacity="1.00"/><stop offset="0.6675" stop-color="#1affe5" stop-opacity="1.00"/><stop offset="0.6907" stop-color="#00c7ff" stop-opacity="1.00"/><stop offset="0.7139" stop-color="#0075ff" stop-opacity="1.00"/><stop offset="0.7437" stop-color="#002eff" stop-opacity="1.00"/><stop offset="0.8199" stop-color="#0000fa" stop-opacity="1.00"/><stop offset="1.0000" stop-color="#0000e6" stop-opacity="1.00"/></linearGradient>
<ellipse cx="395.20" cy="103.45" rx="19.00" ry="0.50" fill="url(#b25)"/>
<ellipse cx="429.20" cy="103.6" rx="15.00" ry="0.32" fill="url(#b25)"/>
<rect x="334.90" y="97.80" width="0.56" height="11.30" fill="#000020" fill-opacity="0.64"/>
<rect x="336.68" y="97.80" width="1.23" height="11.30" fill="#000020" fill-opacity="0.59"/>
<rect x="339.14" y="97.80" width="1.23" height="11.30" fill="#000020" fill-opacity="0.62"/>
<rect x="341.59" y="97.80" width="1.23" height="11.30" fill="#000020" fill-opacity="0.50"/>
<rect x="344.04" y="97.80" width="1.23" height="11.30" fill="#000020" fill-opacity="0.60"/>
<rect x="346.50" y="97.80" width="1.23" height="11.30" fill="#000020" fill-opacity="0.47"/>
<rect x="348.95" y="97.80" width="1.23" height="11.30" fill="#000020" fill-opacity="0.63"/>
<rect x="351.40" y="97.80" width="1.23" height="11.30" fill="#000020" fill-opacity="0.64"/>
<rect x="353.86" y="97.80" width="1.23" height="11.30" fill="#000020" fill-opacity="0.59"/>
<rect x="356.31" y="97.80" width="1.23" height="11.30" fill="#000020" fill-opacity="0.58"/>
<rect x="358.76" y="97.80" width="1.23" height="11.30" fill="#000020" fill-opacity="0.51"/>
<rect x="361.21" y="97.80" width="1.23" height="11.30" fill="#000020" fill-opacity="0.63"/>
<rect x="363.67" y="97.80" width="1.23" height="11.30" fill="#000020" fill-opacity="0.58"/>
<rect x="366.12" y="97.80" width="1.23" height="11.30" fill="#000020" fill-opacity="0.64"/>
<rect x="368.57" y="97.80" width="1.23" height="11.30" fill="#000020" fill-opacity="0.64"/>
<rect x="371.03" y="97.80" width="1.23" height="11.30" fill="#000020" fill-opacity="0.50"/>
<rect x="373.48" y="97.80" width="1.23" height="11.30" fill="#000020" fill-opacity="0.54"/>
<rect x="375.93" y="97.80" width="1.23" height="11.30" fill="#000020" fill-opacity="0.47"/>
<rect x="378.39" y="97.80" width="1.23" height="11.30" fill="#000020" fill-opacity="0.60"/>
<rect x="380.84" y="97.80" width="1.23" height="11.30" fill="#000020" fill-opacity="0.47"/>
<rect x="383.29" y="97.80" width="1.23" height="11.30" fill="#000020" fill-opacity="0.55"/>
<rect x="385.75" y="97.80" width="1.23" height="11.30" fill="#000020" fill-opacity="0.48"/>
<rect x="388.20" y="97.80" width="1.23" height="11.30" fill="#000020" fill-opacity="0.57"/>
<rect x="390.65" y="97.80" width="1.23" height="11.30" fill="#000020" fill-opacity="0.50"/>
<rect x="393.10" y="97.80" width="1.23" height="11.30" fill="#000020" fill-opacity="0.49"/>
<rect x="395.56" y="97.80" width="1.23" height="11.30" fill="#000020" fill-opacity="0.53"/>
<rect x="398.01" y="97.80" width="1.23" height="11.30" fill="#000020" fill-opacity="0.49"/>
<rect x="400.46" y="97.80" width="1.23" height="11.30" fill="#000020" fill-opacity="0.59"/>
<rect x="402.92" y="97.80" width="1.23" height="11.30" fill="#000020" fill-opacity="0.51"/>
<rect x="405.37" y="97.80" width="1.23" height="11.30" fill="#000020" fill-opacity="0.61"/>
<rect x="407.82" y="97.80" width="1.23" height="11.30" fill="#000020" fill-opacity="0.48"/>
<rect x="410.28" y="97.80" width="1.23" height="11.30" fill="#000020" fill-opacity="0.49"/>
<rect x="412.73" y="97.80" width="1.23" height="11.30" fill="#000020" fill-opacity="0.54"/>
<rect x="415.18" y="97.80" width="1.23" height="11.30" fill="#000020" fill-opacity="0.63"/>
<rect x="417.64" y="97.80" width="1.23" height="11.30" fill="#000020" fill-opacity="0.64"/>
<rect x="420.09" y="97.80" width="1.23" height="11.30" fill="#000020" fill-opacity="0.48"/>
<rect x="422.54" y="97.80" width="1.23" height="11.30" fill="#000020" fill-opacity="0.56"/>
<rect x="425.00" y="97.80" width="1.23" height="11.30" fill="#000020" fill-opacity="0.60"/>
<rect x="427.45" y="97.80" width="1.23" height="11.30" fill="#000020" fill-opacity="0.56"/>
<rect x="429.90" y="97.80" width="1.23" height="11.30" fill="#000020" fill-opacity="0.54"/>
<rect x="432.35" y="97.80" width="1.23" height="11.30" fill="#000020" fill-opacity="0.64"/>
<rect x="434.81" y="97.80" width="1.23" height="11.30" fill="#000020" fill-opacity="0.47"/>
<rect x="437.26" y="97.80" width="1.23" height="11.30" fill="#000020" fill-opacity="0.58"/>
<rect x="439.71" y="97.80" width="1.23" height="11.30" fill="#000020" fill-opacity="0.47"/>
<rect x="442.17" y="97.80" width="1.23" height="11.30" fill="#000020" fill-opacity="0.63"/>
<rect x="444.62" y="97.80" width="1.23" height="11.30" fill="#000020" fill-opacity="0.63"/>
<rect x="447.07" y="97.80" width="1.23" height="11.30" fill="#000020" fill-opacity="0.62"/>
<rect x="449.53" y="97.80" width="1.23" height="11.30" fill="#000020" fill-opacity="0.54"/>
<rect x="451.98" y="97.80" width="1.23" height="11.30" fill="#000020" fill-opacity="0.52"/>
<rect x="454.43" y="97.80" width="1.23" height="11.30" fill="#000020" fill-opacity="0.56"/>
<rect x="456.89" y="97.80" width="1.23" height="11.30" fill="#000020" fill-opacity="0.56"/>
<rect x="459.34" y="97.80" width="1.23" height="11.30" fill="#000020" fill-opacity="0.54"/>
<rect x="461.79" y="97.80" width="1.23" height="11.30" fill="#000020" fill-opacity="0.53"/>
<rect x="464.24" y="97.80" width="1.23" height="11.30" fill="#000020" fill-opacity="0.61"/>
<rect x="466.70" y="97.80" width="1.23" height="11.30" fill="#000020" fill-opacity="0.50"/>
<rect x="469.15" y="97.80" width="1.23" height="11.30" fill="#000020" fill-opacity="0.52"/>
<rect x="471.60" y="97.80" width="1.23" height="11.30" fill="#000020" fill-opacity="0.51"/>
<rect x="474.06" y="97.80" width="1.23" height="11.30" fill="#000020" fill-opacity="0.54"/>
<rect x="476.51" y="97.80" width="1.23" height="11.30" fill="#000020" fill-opacity="0.54"/>
<rect x="478.96" y="97.80" width="1.23" height="11.30" fill="#000020" fill-opacity="0.58"/>
<rect x="481.42" y="97.80" width="1.23" height="11.30" fill="#000020" fill-opacity="0.54"/>
<rect x="483.87" y="97.80" width="1.23" height="11.30" fill="#000020" fill-opacity="0.64"/>
<linearGradient id="c26" x1="0" y1="1" x2="0" y2="0">
<stop offset="0.0000" stop-color="#000080"/>
<stop offset="0.0156" stop-color="#00008f"/>
<stop offset="0.0312" stop-color="#00009f"/>
<stop offset="0.0469" stop-color="#0000af"/>
<stop offset="0.0625" stop-color="#0000bf"/>
<stop offset="0.0781" stop-color="#0000cf"/>
<stop offset="0.0938" stop-color="#0000df"/>
<stop offset="0.1094" stop-color="#0000ef"/>
<stop offset="0.1250" stop-color="#0000ff"/>
<stop offset="0.1406" stop-color="#0010ff"/>
<stop offset="0.1562" stop-color="#0020ff"/>
<stop offset="0.1719" stop-color="#0030ff"/>
<stop offset="0.1875" stop-color="#0040ff"/>
<stop offset="0.2031" stop-color="#0050ff"/>
<stop offset="0.2188" stop-color="#0060ff"/>
<stop offset="0.2344" stop-color="#0070ff"/>
<stop offset="0.2500" stop-color="#0080ff"/>
<stop offset="0.2656" stop-color="#008fff"/>
<stop offset="0.2812" stop-color="#009fff"/>
<stop offset="0.2969" stop-color="#00afff"/>
<stop offset="0.3125" stop-color="#00bfff"/>
<stop offset="0.3281" stop-color="#00cfff"/>
<stop offset="0.3438" stop-color="#00dfff"/>
<stop offset="0.3594" stop-color="#00efff"/>
<stop offset="0.3750" stop-color="#00ffff"/>
<stop offset="0.3906" stop-color="#10ffef"/>
<stop offset="0.4062" stop-color="#20ffdf"/>
<stop offset="0.4219" stop-color="#30ffcf"/>
<stop offset="0.4375" stop-color="#40ffbf"/>
<stop offset="0.4531" stop-color="#50ffaf"/>
<stop offset="0.4688" stop-color="#60ff9f"/>
<stop offset="0.4844" stop-color="#70ff8f"/>
<stop offset="0.5000" stop-color="#80ff80"/>
<stop offset="0.5156" stop-color="#8fff70"/>
<stop offset="0.5312" stop-color="#9fff60"/>
<stop offset="0.5469" stop-color="#afff50"/>
<stop offset="0.5625" stop-color="#bfff40"/>
<stop offset="0.5781" stop-color="#cfff30"/>
<stop offset="0.5938" stop-color="#dfff20"/>
<stop offset="0.6094" stop-color="#efff10"/>
<stop offset="0.6250" stop-color="#ffff00"/>
<stop offset="0.6406" stop-color="#ffef00"/>
<stop offset="0.6562" stop-color="#ffdf00"/>
<stop offset="0.6719" stop-color="#ffcf00"/>
<stop offset="0.6875" stop-color="#ffbf00"/>
<stop offset="0.7031" stop-color="#ffaf00"/>
<stop offset="0.7188" stop-color="#ff9f00"/>
<stop offset="0.7344" stop-color="#ff8f00"/>
<stop offset="0.7500" stop-color="#ff8000"/>
<stop offset="0.7656" stop-color="#ff7000"/>
<stop offset="0.7812" stop-color="#ff6000"/>
<stop offset="0.7969" stop-color="#ff5000"/>
<stop offset="0.8125" stop-color="#ff4000"/>
<stop offset="0.8281" stop-color="#ff3000"/>
<stop offset="0.8438" stop-color="#ff2000"/>
<stop offset="0.8594" stop-color="#ff1000"/>
<stop offset="0.8750" stop-color="#ff0000"/>
<stop offset="0.8906" stop-color="#ef0000"/>
<stop offset="0.9062" stop-color="#df0000"/>
<stop offset="0.9219" stop-color="#cf0000"/>
<stop offset="0.9375" stop-color="#bf0000"/>
<stop offset="0.9531" stop-color="#af0000"/>
<stop offset="0.9688" stop-color="#9f0000"/>
<stop offset="0.9844" stop-color="#8f0000"/>
<stop offset="1.0000" stop-color="#800000"/>
</linearGradient>
<rect x="519.25" y="15.6" width="11.3" height="171.6" fill="url(#c26)"/>
<rect x="528.95" y="184.85" width="1.6" height="0.7" fill="#222" fill-opacity="0.35"/>
<rect x="528.95" y="158.38" width="1.6" height="0.7" fill="#222" fill-opacity="0.35"/>
<rect x="528.95" y="131.91" width="1.6" height="0.7" fill="#222" fill-opacity="0.35"/>
<rect x="528.95" y="105.44" width="1.6" height="0.7" fill="#222" fill-opacity="0.35"/>
<rect x="528.95" y="78.97" width="1.6" height="0.7" fill="#222" fill-opacity="0.35"/>
<rect x="528.95" y="52.50" width="1.6" height="0.7" fill="#222" fill-opacity="0.35"/>
<rect x="528.95" y="26.03" width="1.6" height="0.7" fill="#222" fill-opacity="0.35"/>
<g font-family="Liberation Serif, serif" fill="#111" stroke="#111" stroke-width="0.15">
<text transform="translate(129.10,11.75) scale(1.060,1)" font-size="11.6" text-anchor="middle">Range-Angle MAP(12) : Noise +</text>
<text transform="translate(27.40,19.60) scale(1.000,1)" font-size="11" text-anchor="end">10</text>
<text transform="translate(27.40,53.90) scale(1.000,1)" font-size="11" text-anchor="end">8</text>
<text transform="translate(27.40,88.20) scale(1.000,1)" font-size="11" text-anchor="end">6</text>
<text transform="translate(27.40,122.40) scale(1.000,1)" font-size="11" text-anchor="end">4</text>
<text transform="translate(27.40,156.70) scale(1.000,1)" font-size="11" text-anchor="end">2</text>
<text transform="translate(27.40,191.00) scale(1.000,1)" font-size="11" text-anchor="end">0</text>
<text transform="translate(29.90,201.30) scale(1.000,1)" font-size="11" text-anchor="middle">−40</text>
<text transform="translate(79.50,201.30) scale(1.000,1)" font-size="11" text-anchor="middle">−20</text>
<text transform="translate(130.45,201.30) scale(1.000,1)" font-size="11" text-anchor="middle">0</text>
<text transform="translate(180.10,201.30) scale(1.000,1)" font-size="11" text-anchor="middle">20</text>
<text transform="translate(229.70,201.30) scale(1.000,1)" font-size="11" text-anchor="middle">40</text>
<text transform="translate(130.50,215.70) scale(1.070,1)" font-size="11.6" text-anchor="middle">Angle [deg.]</text>
<text transform="translate(12.00,100.8) rotate(-90) scale(1.06,1)" font-size="11.6" text-anchor="middle">Range [m]</text>
<text transform="translate(254.90,188.90) scale(0.960,1)" font-size="11" text-anchor="start" stroke-width="0" fill="#2a2a2a">0.1</text>
<text transform="translate(254.90,162.43) scale(0.960,1)" font-size="11" text-anchor="start" stroke-width="0" fill="#2a2a2a">0.2</text>
<text transform="translate(254.90,135.96) scale(0.960,1)" font-size="11" text-anchor="start" stroke-width="0" fill="#2a2a2a">0.3</text>
<text transform="translate(254.90,109.49) scale(0.960,1)" font-size="11" text-anchor="start" stroke-width="0" fill="#2a2a2a">0.4</text>
<text transform="translate(254.90,83.02) scale(0.960,1)" font-size="11" text-anchor="start" stroke-width="0" fill="#2a2a2a">0.5</text>
<text transform="translate(254.90,56.55) scale(0.960,1)" font-size="11" text-anchor="start" stroke-width="0" fill="#2a2a2a">0.6</text>
<text transform="translate(254.90,30.08) scale(0.960,1)" font-size="11" text-anchor="start" stroke-width="0" fill="#2a2a2a">0.7</text>
<text transform="translate(122.90,252.80) scale(1.000,1)" font-size="11.4" text-anchor="middle">(<tspan font-weight="bold" font-size="12.5">e</tspan>)</text>
<text transform="translate(407.80,11.75) scale(1.060,1)" font-size="11.6" text-anchor="middle">Range-Angle MAP(12) : Noise +</text>
<text transform="translate(306.10,19.60) scale(1.000,1)" font-size="11" text-anchor="end">10</text>
<text transform="translate(306.10,53.90) scale(1.000,1)" font-size="11" text-anchor="end">8</text>
<text transform="translate(306.10,88.20) scale(1.000,1)" font-size="11" text-anchor="end">6</text>
<text transform="translate(306.10,122.40) scale(1.000,1)" font-size="11" text-anchor="end">4</text>
<text transform="translate(306.10,156.70) scale(1.000,1)" font-size="11" text-anchor="end">2</text>
<text transform="translate(306.10,191.00) scale(1.000,1)" font-size="11" text-anchor="end">0</text>
<text transform="translate(308.60,201.30) scale(1.000,1)" font-size="11" text-anchor="middle">−40</text>
<text transform="translate(358.20,201.30) scale(1.000,1)" font-size="11" text-anchor="middle">−20</text>
<text transform="translate(409.15,201.30) scale(1.000,1)" font-size="11" text-anchor="middle">0</text>
<text transform="translate(458.80,201.30) scale(1.000,1)" font-size="11" text-anchor="middle">20</text>
<text transform="translate(508.40,201.30) scale(1.000,1)" font-size="11" text-anchor="middle">40</text>
<text transform="translate(409.20,215.70) scale(1.070,1)" font-size="11.6" text-anchor="middle">Angle [deg.]</text>
<text transform="translate(290.70,100.8) rotate(-90) scale(1.06,1)" font-size="11.6" text-anchor="middle">Range [m]</text>
<text transform="translate(533.60,188.90) scale(0.960,1)" font-size="11" text-anchor="start" stroke-width="0" fill="#2a2a2a">0.1</text>
<text transform="translate(533.60,162.43) scale(0.960,1)" font-size="11" text-anchor="start" stroke-width="0" fill="#2a2a2a">0.2</text>
<text transform="translate(533.60,135.96) scale(0.960,1)" font-size="11" text-anchor="start" stroke-width="0" fill="#2a2a2a">0.3</text>
<text transform="translate(533.60,109.49) scale(0.960,1)" font-size="11" text-anchor="start" stroke-width="0" fill="#2a2a2a">0.4</text>
<text transform="translate(533.60,83.02) scale(0.960,1)" font-size="11" text-anchor="start" stroke-width="0" fill="#2a2a2a">0.5</text>
<text transform="translate(533.60,56.55) scale(0.960,1)" font-size="11" text-anchor="start" stroke-width="0" fill="#2a2a2a">0.6</text>
<text transform="translate(533.60,30.08) scale(0.960,1)" font-size="11" text-anchor="start" stroke-width="0" fill="#2a2a2a">0.7</text>
<text transform="translate(401.60,252.80) scale(1.000,1)" font-size="11.4" text-anchor="middle">(<tspan font-weight="bold" font-size="12.5">f</tspan>)</text>
</g>
</svg>
</body></html>
